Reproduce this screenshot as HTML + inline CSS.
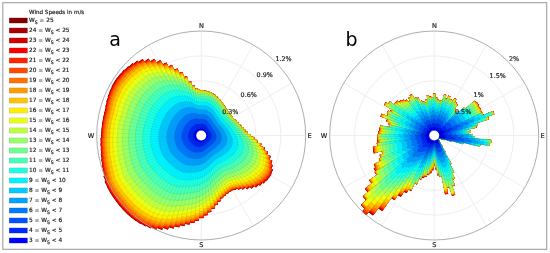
<!DOCTYPE html>
<html><head><meta charset="utf-8"><title>Wind roses</title>
<style>html,body{margin:0;padding:0;background:#fff}svg{display:block}</style></head>
<body><svg width="550" height="253" viewBox="0 0 550 253">
<rect width="550" height="253" fill="#fff"/>
<rect x="2.8" y="2.7" width="543.9" height="246.6" fill="#fff" stroke="#a0a0a0" stroke-width="1.1"/>
<circle cx="201.2" cy="135.5" r="29.9" fill="none" stroke="#eeeeee" stroke-width="1"/>
<circle cx="201.2" cy="135.5" r="54.8" fill="none" stroke="#eeeeee" stroke-width="1"/>
<circle cx="201.2" cy="135.5" r="79.6" fill="none" stroke="#eeeeee" stroke-width="1"/>
<path d="M201.2 135.5L201.2 31M201.2 135.5L253.4 45M201.2 135.5L291.7 83.2M201.2 135.5L305.7 135.5M201.2 135.5L291.7 187.7M201.2 135.5L253.4 226M201.2 135.5L201.2 240M201.2 135.5L148.9 226M201.2 135.5L110.7 187.8M201.2 135.5L96.7 135.5M201.2 135.5L110.7 83.2M201.2 135.5L148.9 45" stroke="#eeeeee" stroke-width="1" fill="none"/>
<g stroke="#000" stroke-opacity=".2" stroke-width=".3" stroke-linejoin="bevel"><path d="M200 90L202.4 90L202.4 90.3L204.7 90.4L204.7 90.7L207.1 91L207 91.3L209.3 91.6L209.3 92L211.5 92.5L211.4 93.1L213.6 93.7L213.4 94.3L215.6 95L215.3 95.8L217.3 96.5L217 97.3L219 98.2L218.6 98.9L220.5 99.9L220.2 100.6L222 101.6L221.6 102.2L223.3 103.4L222.9 104L224.5 105.2L224 105.7L225.6 107L225.2 107.4L226.6 108.7L226.4 108.9L227.8 110.3L227.6 110.4L228.9 111.8L228.7 112L229.9 113.5L229.8 113.6L230.9 115.1L231.1 115L232.1 116.6L232.2 116.5L233.2 118.1L233.5 118L234.4 119.7L235.1 119.3L235.9 121.1L236.7 120.8L237.4 122.7L238.3 122.4L238.9 124.3L240 124L240.5 126.1L241.6 125.8L242 127.9L243.5 127.7L243.8 129.9L245.3 129.7L245.6 132L247.6 131.8L247.7 134.3L250.9 134.2L250.9 136.8L254.2 136.9L254.1 139.7L257.9 140L257.6 142.9L261.4 143.4L260.9 146.6L264.8 147.3L264.1 150.6L268 151.5L267 155L270.8 156.1L269.6 159.7L272.4 160.7L271 164.4L272.9 165.2L271.3 168.9L273 169.8L271.2 173.5L271.7 173.8L269.6 177.4L269.2 177.2L266.9 180.7L266.3 180.2L263.8 183.6L262.7 182.7L260.2 185.8L258.7 184.7L256.1 187.6L254.4 186L251.7 188.7L250 186.9L247.2 189.4L245.5 187.4L242.8 189.7L241.4 187.9L238.6 189.9L237.5 188.4L234.7 190.2L234.2 189.4L231.3 191L231.4 191.1L228.5 192.6L228.7 193.1L225.6 194.4L226 195.5L222.9 196.7L223.3 197.9L220 199L220.7 201.3L217.2 202.2L217.8 204.8L214.2 205.6L214.8 208.7L210.9 209.3L211.3 212.1L207.3 212.6L207.5 215.3L203.3 215.5L203.4 218.3L199 218.3L199 221L194.5 220.8L194.3 223.1L189.7 222.6L189.5 224.7L184.8 224L184.4 226.2L179.7 225.2L179.1 227.6L174.3 226.3L173.6 228.8L168.7 227.2L167.8 229.7L163 227.8L162 230.1L157.1 227.9L156.2 229.9L151.3 227.4L150.7 228.5L145.9 225.8L145.4 226.6L140.7 223.6L140.3 224L135.8 220.7L135.6 221L131.2 217.5L131.1 217.6L126.9 213.8L126.9 213.8L122.9 209.8L122.9 209.8L119.2 205.6L119.2 205.5L115.7 201.1L115.8 201L112.5 196.5L112.6 196.4L109.5 191.7L109.6 191.6L106.8 186.7L107.1 186.6L104.5 181.6L105.6 181.1L103.3 176L104.4 175.6L102.5 170.5L103.4 170.1L101.7 165L102.5 164.7L101.1 159.5L101.8 159.4L100.7 154.1L101.4 154L100.6 148.7L101 148.7L100.4 143.4L100.8 143.4L100.5 138.1L101.2 138.1L101.2 132.9L101.3 132.9L101.6 127.7L101.7 127.7L102.3 122.5L102.4 122.5L103.2 117.3L103.3 117.3L104.4 112.2L104.4 112.3L105.8 107.2L105.2 107.1L106.8 102.1L106.2 101.9L108.1 96.9L107.6 96.7L109.7 91.9L109.4 91.7L111.8 87L111.5 86.8L114.1 82.1L114.1 82.1L117 77.7L117.3 77.8L120.4 73.5L120.7 73.8L124.1 69.6L124.7 70.1L128.2 66.2L128.8 66.8L132.5 63.1L133.3 64L137.2 60.5L138.5 62.1L142.4 58.9L144.4 61.5L148.4 58.6L150.2 61.3L154.2 58.8L156.4 62.4L160.3 60.1L162.6 64.3L166.3 62.4L168.3 66.4L171.9 64.8L174 69.8L177.5 68.5L179.1 73L182.4 71.9L183.9 77.1L187 76.3L188.4 82.1L191.2 81.5L192 86L194.6 85.6L195 88.5L197.5 88.3L197.6 89.2L200 89.1Z" fill="#800000" stroke="none"/>
<path d="M200 90L202.4 90L202.4 90.3L204.7 90.4L204.7 90.7L207.1 91L207 91.3L209.3 91.6L209.3 92L211.5 92.5L211.4 93.1L213.6 93.7L213.4 94.3L215.6 95L215.3 95.8L217.3 96.5L217 97.3L219 98.2L218.6 98.9L220.5 99.9L220.2 100.6L222 101.6L221.6 102.2L223.3 103.4L222.9 104L224.5 105.2L224 105.7L225.6 107L225.2 107.4L226.6 108.7L226.4 108.9L227.8 110.3L227.6 110.4L228.9 111.8L228.7 112L229.9 113.5L229.8 113.6L230.9 115.1L231.1 115L232.1 116.6L232.2 116.5L233.2 118.1L233.5 118L234.4 119.7L235.1 119.3L235.9 121.1L236.7 120.8L237.4 122.7L238.3 122.4L238.9 124.3L240 124L240.5 126.1L241.6 125.8L242 127.9L243.5 127.7L243.8 129.9L245.3 129.7L245.6 132L247.6 131.8L247.7 134.3L250.9 134.2L250.9 136.8L254.2 136.9L254.1 139.7L257.9 140L257.6 142.9L261.4 143.4L260.9 146.6L264.7 147.3L264 150.6L267.9 151.5L267 155L270.7 156.1L269.6 159.7L272.3 160.7L270.9 164.4L272.8 165.2L271.1 168.9L272.9 169.7L271 173.4L271.5 173.6L269.4 177.3L268.9 177L266.7 180.5L266 180.1L263.6 183.4L262.5 182.5L259.9 185.7L258.5 184.5L255.9 187.4L254.2 185.8L251.5 188.5L249.8 186.7L247.1 189.2L245.4 187.3L242.7 189.5L241.3 187.8L238.5 189.8L237.5 188.3L234.7 190.1L234.1 189.3L231.3 190.9L231.4 191.1L228.4 192.6L228.6 193L225.6 194.3L226 195.4L222.8 196.6L223.3 197.8L220 198.9L220.7 201.2L217.2 202.1L217.8 204.7L214.2 205.5L214.8 208.6L210.9 209.2L211.3 212L207.3 212.4L207.5 215.2L203.3 215.4L203.4 218.1L199 218.1L199 220.9L194.5 220.7L194.3 222.9L189.8 222.5L189.5 224.5L184.8 223.8L184.4 226L179.7 225L179.1 227.3L174.4 226.1L173.6 228.5L168.8 227L167.9 229.5L163.1 227.6L162.1 229.8L157.2 227.7L156.3 229.6L151.4 227.2L150.8 228.2L146.1 225.5L145.5 226.3L140.9 223.3L140.5 223.8L136 220.5L135.8 220.8L131.4 217.2L131.3 217.3L127.2 213.5L127.1 213.6L123.1 209.6L123.2 209.5L119.4 205.3L119.5 205.3L116 200.9L116 200.8L112.7 196.3L112.8 196.2L109.8 191.5L109.9 191.5L107.1 186.6L107.3 186.5L104.8 181.5L105.8 181L103.6 175.9L104.7 175.5L102.7 170.4L103.6 170.1L101.9 164.9L102.7 164.7L101.3 159.5L102 159.3L100.9 154.1L101.6 154L100.8 148.7L101.1 148.7L100.6 143.4L100.9 143.4L100.7 138.1L101.4 138.1L101.4 132.9L101.5 132.9L101.8 127.7L101.9 127.7L102.4 122.5L102.5 122.5L103.4 117.4L103.5 117.4L104.5 112.3L104.6 112.3L106 107.3L105.4 107.1L107 102.1L106.4 101.9L108.3 97L107.8 96.8L110 92L109.6 91.8L112 87.1L111.7 86.9L114.4 82.3L114.4 82.3L117.3 77.8L117.5 78L120.7 73.7L121 73.9L124.3 69.8L124.9 70.3L128.4 66.4L129 67L132.7 63.3L133.5 64.2L137.3 60.7L138.6 62.2L142.6 59.1L144.5 61.6L148.5 58.8L150.3 61.5L154.3 58.9L156.5 62.5L160.3 60.2L162.6 64.4L166.4 62.5L168.3 66.5L171.9 64.9L174 69.8L177.5 68.5L179.1 73L182.4 71.9L183.9 77.1L187 76.3L188.4 82.1L191.2 81.5L192 86L194.6 85.6L195 88.5L197.5 88.3L197.6 89.2L200 89.1Z" fill="#a80000" stroke="none"/>
<path d="M200 90L202.4 90L202.4 90.3L204.7 90.4L204.7 90.7L207.1 91L207 91.3L209.3 91.6L209.3 92L211.5 92.5L211.4 93.1L213.6 93.7L213.4 94.3L215.6 95L215.3 95.8L217.3 96.5L217 97.3L219 98.2L218.6 98.9L220.5 99.9L220.2 100.6L222 101.6L221.6 102.2L223.3 103.4L222.9 104L224.5 105.2L224 105.8L225.6 107L225.2 107.4L226.6 108.7L226.4 108.9L227.8 110.3L227.6 110.4L228.9 111.8L228.7 112L229.9 113.5L229.8 113.6L230.9 115.1L231.1 115L232.1 116.6L232.2 116.5L233.2 118.1L233.5 118L234.4 119.7L235.1 119.3L235.9 121.1L236.7 120.8L237.4 122.7L238.3 122.4L238.9 124.3L240 124L240.5 126.1L241.6 125.8L242 127.9L243.5 127.7L243.8 129.9L245.3 129.7L245.6 132L247.6 131.8L247.7 134.3L250.9 134.2L250.9 136.8L254.2 136.9L254.1 139.7L257.9 140L257.6 142.9L261.4 143.4L260.9 146.6L264.7 147.3L264 150.6L267.9 151.5L267 155L270.7 156.1L269.5 159.7L272.2 160.6L270.8 164.3L272.7 165.1L271 168.8L272.7 169.6L270.8 173.3L271.3 173.5L269.2 177.2L268.8 176.9L266.5 180.4L265.8 179.9L263.4 183.2L262.3 182.4L259.8 185.5L258.4 184.3L255.8 187.3L254.1 185.7L251.4 188.4L249.7 186.6L247 189.1L245.3 187.2L242.6 189.4L241.3 187.7L238.5 189.7L237.4 188.2L234.6 190L234.1 189.2L231.2 190.8L231.3 191L228.4 192.5L228.6 192.9L225.5 194.3L226 195.3L222.8 196.5L223.2 197.8L220 198.8L220.6 201.1L217.2 202L217.8 204.6L214.2 205.4L214.7 208.5L210.9 209.1L211.3 211.9L207.2 212.3L207.5 215.1L203.3 215.3L203.4 218L199 218L199 220.8L194.5 220.5L194.3 222.8L189.8 222.3L189.5 224.3L184.9 223.6L184.5 225.8L179.8 224.8L179.2 227.2L174.4 225.9L173.7 228.3L168.9 226.8L168 229.3L163.1 227.4L162.2 229.6L157.3 227.4L156.4 229.4L151.5 226.9L151 228L146.2 225.3L145.7 226.1L141 223.1L140.7 223.5L136.2 220.2L135.9 220.6L131.6 217L131.5 217.1L127.3 213.3L127.3 213.4L123.3 209.4L123.4 209.4L119.6 205.2L119.7 205.1L116.2 200.8L116.2 200.7L112.9 196.2L113 196.1L110 191.4L110.1 191.4L107.3 186.5L107.5 186.4L105 181.4L106 180.9L103.8 175.9L104.8 175.4L102.9 170.3L103.8 170L102.1 164.9L102.8 164.6L101.4 159.4L102.2 159.3L101.1 154.1L101.8 153.9L100.9 148.7L101.3 148.7L100.7 143.4L101.1 143.4L100.8 138.1L101.6 138.1L101.6 132.9L101.7 132.9L101.9 127.7L102 127.7L102.6 122.5L102.7 122.5L103.5 117.4L103.6 117.4L104.7 112.3L104.8 112.4L106.2 107.3L105.6 107.2L107.2 102.2L106.6 102L108.5 97.1L108 96.9L110.1 92.1L109.8 91.9L112.2 87.2L111.9 87L114.6 82.4L114.6 82.4L117.5 77.9L117.7 78.1L120.9 73.8L121.2 74.1L124.5 70L125.1 70.5L128.6 66.6L129.1 67.1L132.8 63.4L133.7 64.3L137.5 60.9L138.8 62.4L142.7 59.2L144.6 61.8L148.6 58.9L150.4 61.6L154.3 59L156.5 62.6L160.4 60.3L162.7 64.5L166.4 62.6L168.3 66.5L172 64.9L174 69.9L177.5 68.6L179.1 73L182.4 71.9L183.9 77.1L187 76.3L188.4 82.1L191.2 81.5L192 86L194.6 85.6L195 88.5L197.5 88.3L197.6 89.2L200 89.1Z" fill="#d10000" stroke="none"/>
<path d="M200 90L202.4 90L202.4 90.3L204.7 90.4L204.7 90.7L207.1 91L207 91.3L209.3 91.7L209.3 92L211.5 92.5L211.4 93.1L213.6 93.7L213.4 94.3L215.6 95L215.3 95.8L217.3 96.5L217 97.3L219 98.2L218.6 98.9L220.5 99.9L220.2 100.6L222 101.6L221.6 102.3L223.3 103.4L222.9 104L224.5 105.2L224 105.8L225.6 107L225.2 107.4L226.6 108.7L226.4 108.9L227.8 110.3L227.6 110.4L228.9 111.9L228.7 112L229.9 113.5L229.8 113.6L230.9 115.1L231.1 115L232.1 116.6L232.2 116.5L233.2 118.1L233.5 118L234.4 119.7L235.1 119.3L235.9 121.1L236.7 120.8L237.4 122.7L238.3 122.4L238.9 124.3L240 124L240.5 126.1L241.6 125.8L242 127.9L243.5 127.7L243.8 129.9L245.3 129.7L245.6 132L247.6 131.8L247.7 134.3L250.9 134.2L250.9 136.8L254.2 136.9L254.1 139.7L257.9 140L257.6 142.9L261.3 143.4L260.8 146.6L264.7 147.3L264 150.6L267.8 151.5L266.9 155L270.6 156L269.4 159.7L272 160.6L270.6 164.3L272.5 165L270.8 168.7L272.5 169.5L270.6 173.2L271 173.4L268.9 177L268.5 176.7L266.2 180.2L265.5 179.7L263.1 183L262 182.2L259.5 185.3L258.1 184.1L255.5 187L253.8 185.5L251.2 188.1L249.5 186.4L246.8 188.9L245.2 187L242.4 189.2L241.1 187.5L238.4 189.6L237.3 188.1L234.5 189.9L234 189.1L231.2 190.7L231.3 190.9L228.3 192.4L228.5 192.8L225.5 194.1L225.9 195.2L222.8 196.4L223.2 197.6L219.9 198.7L220.6 201L217.1 201.9L217.8 204.5L214.1 205.3L214.7 208.4L210.9 209L211.2 211.7L207.2 212.2L207.4 214.9L203.3 215.1L203.4 217.8L199 217.8L199 220.5L194.5 220.3L194.3 222.6L189.8 222.1L189.5 224.1L184.9 223.4L184.5 225.5L179.8 224.5L179.3 226.9L174.5 225.6L173.8 228L169 226.5L168.1 228.9L163.3 227.1L162.4 229.3L157.5 227.1L156.6 229.1L151.7 226.6L151.2 227.7L146.4 224.9L145.9 225.8L141.2 222.8L140.9 223.2L136.4 219.9L136.2 220.2L131.8 216.7L131.8 216.8L127.6 213L127.6 213.1L123.6 209.1L123.7 209.1L119.9 204.9L120 204.9L116.5 200.5L116.5 200.5L113.3 195.9L113.3 195.9L110.3 191.2L110.4 191.2L107.6 186.3L107.8 186.2L105.3 181.3L106.3 180.8L104.1 175.7L105.1 175.3L103.2 170.2L104.1 169.9L102.4 164.8L103.1 164.6L101.7 159.4L102.5 159.2L101.3 154L102 153.9L101.2 148.7L101.5 148.6L101 143.4L101.3 143.4L101.1 138.1L101.8 138.1L101.8 132.9L101.9 132.9L102.2 127.7L102.3 127.7L102.8 122.6L103 122.6L103.8 117.4L103.9 117.5L105 112.4L105.1 112.4L106.4 107.4L105.9 107.3L107.5 102.3L106.9 102.1L108.8 97.2L108.3 97L110.4 92.2L110.1 92.1L112.5 87.4L112.2 87.2L114.9 82.6L114.9 82.6L117.8 78.1L118 78.3L121.1 74.1L121.4 74.3L124.8 70.2L125.3 70.7L128.8 66.8L129.4 67.4L133.1 63.7L133.9 64.6L137.7 61.2L139 62.6L142.9 59.5L144.8 62L148.7 59.1L150.5 61.8L154.5 59.2L156.6 62.8L160.5 60.5L162.7 64.6L166.5 62.7L168.4 66.7L172 65L174.1 70L177.5 68.6L179.1 73.1L182.4 72L183.9 77.2L187 76.4L188.4 82.2L191.2 81.6L192 86L194.6 85.6L195 88.5L197.5 88.3L197.6 89.2L200 89.1Z" fill="#f90000" stroke="none"/>
<path d="M200 90L202.4 90L202.4 90.3L204.7 90.5L204.7 90.8L207.1 91L207 91.3L209.3 91.7L209.3 92.1L211.5 92.5L211.4 93.1L213.6 93.7L213.4 94.3L215.6 95L215.3 95.8L217.3 96.6L217 97.3L219 98.2L218.6 99L220.5 99.9L220.2 100.6L222 101.6L221.6 102.3L223.3 103.4L222.9 104L224.5 105.2L224 105.8L225.5 107L225.2 107.4L226.6 108.7L226.4 108.9L227.8 110.3L227.6 110.4L228.9 111.9L228.7 112L229.9 113.5L229.8 113.6L230.9 115.1L231 115L232.1 116.6L232.2 116.5L233.2 118.1L233.5 118L234.4 119.7L235.1 119.3L235.9 121.1L236.7 120.8L237.4 122.7L238.3 122.4L238.9 124.3L240 124L240.5 126.1L241.5 125.8L242 127.9L243.5 127.7L243.8 129.9L245.3 129.7L245.6 132L247.6 131.8L247.7 134.3L250.9 134.2L250.9 136.8L254.2 136.9L254.1 139.7L257.8 140L257.5 142.9L261.3 143.4L260.8 146.5L264.6 147.2L263.9 150.6L267.7 151.5L266.8 154.9L270.4 156L269.2 159.6L271.8 160.5L270.4 164.2L272.1 164.9L270.5 168.6L272.1 169.3L270.2 173L270.6 173.2L268.5 176.7L268 176.4L265.8 179.9L265.1 179.4L262.7 182.7L261.6 181.9L259.1 185L257.8 183.8L255.2 186.7L253.5 185.2L250.9 187.8L249.3 186.1L246.5 188.6L245 186.7L242.2 189L240.9 187.3L238.2 189.3L237.2 187.8L234.4 189.6L233.9 188.8L231.1 190.5L231.1 190.6L228.2 192.1L228.4 192.6L225.4 193.9L225.8 195L222.7 196.2L223.1 197.4L219.9 198.5L220.5 200.7L217.1 201.6L217.7 204.2L214.1 205L214.7 208.1L210.8 208.7L211.2 211.4L207.2 211.9L207.4 214.5L203.3 214.8L203.3 217.5L199.1 217.5L199 220.2L194.6 219.9L194.4 222.2L189.9 221.7L189.6 223.7L185 222.9L184.6 225.1L179.9 224.1L179.4 226.4L174.6 225.1L173.9 227.5L169.2 226L168.3 228.4L163.5 226.6L162.6 228.7L157.8 226.6L156.8 228.5L152 226.1L151.5 227.1L146.7 224.4L146.2 225.2L141.6 222.2L141.3 222.6L136.8 219.4L136.6 219.7L132.3 216.2L132.2 216.3L128.1 212.5L128 212.6L124.1 208.7L124.1 208.6L120.4 204.5L120.5 204.4L117 200.1L117 200.1L113.8 195.6L113.8 195.5L110.8 190.9L110.9 190.9L108.1 186.1L108.3 185.9L105.8 181L106.8 180.5L104.6 175.5L105.6 175.1L103.6 170L104.5 169.7L102.9 164.6L103.6 164.4L102.2 159.3L102.9 159.1L101.8 153.9L102.5 153.8L101.6 148.6L102 148.6L101.4 143.4L101.8 143.3L101.5 138.1L102.2 138.1L102.2 132.9L102.3 132.9L102.6 127.7L102.7 127.7L103.3 122.6L103.4 122.6L104.2 117.5L104.3 117.5L105.4 112.5L105.5 112.5L106.9 107.6L106.3 107.4L107.9 102.5L107.4 102.3L109.2 97.4L108.8 97.2L110.9 92.4L110.6 92.3L113 87.6L112.7 87.5L115.3 82.9L115.4 82.9L118.2 78.5L118.5 78.7L121.6 74.4L121.9 74.7L125.2 70.6L125.8 71.1L129.3 67.2L129.8 67.7L133.4 64.1L134.3 65L138 61.6L139.3 63L143.2 59.9L145.1 62.3L149 59.5L150.8 62.1L154.7 59.6L156.8 63L160.6 60.8L162.9 64.9L166.6 63L168.5 66.8L172.1 65.2L174.1 70.1L177.6 68.8L179.1 73.2L182.4 72.1L183.9 77.3L187 76.4L188.4 82.2L191.2 81.6L192 86L194.6 85.6L195 88.6L197.5 88.3L197.6 89.2L200 89.1Z" fill="#ff2300" stroke="none"/>
<path d="M200 90.1L202.4 90.1L202.4 90.4L204.7 90.5L204.7 90.8L207.1 91L207 91.3L209.3 91.7L209.2 92.1L211.5 92.5L211.4 93.1L213.6 93.7L213.4 94.3L215.5 95L215.3 95.8L217.3 96.6L217 97.3L219 98.2L218.6 99L220.5 99.9L220.2 100.6L222 101.6L221.6 102.3L223.3 103.4L222.9 104L224.5 105.2L224 105.8L225.5 107L225.2 107.4L226.6 108.7L226.4 108.9L227.8 110.3L227.6 110.4L228.9 111.9L228.7 112L229.9 113.5L229.8 113.6L230.9 115.1L231 115L232.1 116.6L232.2 116.5L233.2 118.1L233.5 118L234.4 119.7L235.1 119.3L235.9 121.1L236.7 120.8L237.4 122.7L238.3 122.4L238.9 124.3L240 124L240.5 126.1L241.5 125.8L242 127.9L243.5 127.7L243.8 129.9L245.3 129.7L245.5 132L247.6 131.8L247.7 134.3L250.8 134.2L250.8 136.8L254.2 136.9L254 139.7L257.8 140L257.5 142.9L261.2 143.4L260.7 146.5L264.4 147.2L263.7 150.5L267.5 151.4L266.5 154.9L270.1 155.9L268.9 159.5L271.4 160.3L270 164L271.6 164.7L270 168.3L271.5 169L269.6 172.6L269.9 172.8L267.9 176.4L267.4 176L265.1 179.4L264.5 179L262.1 182.2L261 181.4L258.5 184.5L257.2 183.3L254.6 186.2L253 184.7L250.4 187.3L248.8 185.7L246.2 188.1L244.6 186.3L241.9 188.5L240.7 186.9L237.9 188.9L236.9 187.5L234.2 189.3L233.7 188.5L230.9 190.1L231 190.3L228.1 191.8L228.3 192.3L225.3 193.6L225.7 194.7L222.6 195.9L223 197.1L219.8 198.1L220.4 200.4L217 201.3L217.6 203.8L214 204.6L214.6 207.7L210.8 208.3L211.1 211L207.2 211.4L207.4 214.1L203.3 214.3L203.3 216.9L199.1 216.9L199 219.6L194.6 219.4L194.4 221.5L189.9 221.1L189.7 223L185.1 222.3L184.7 224.4L180.1 223.4L179.5 225.7L174.9 224.4L174.2 226.8L169.4 225.3L168.6 227.6L163.8 225.8L162.9 227.9L158.1 225.8L157.2 227.7L152.5 225.3L151.9 226.3L147.2 223.6L146.7 224.4L142.1 221.4L141.9 221.8L137.4 218.6L137.2 218.9L132.9 215.4L132.9 215.5L128.8 211.8L128.7 211.9L124.8 208L124.9 208L121.2 203.9L121.2 203.8L117.7 199.5L117.8 199.5L114.5 195.1L114.6 195L111.6 190.4L111.6 190.4L108.9 185.6L109 185.5L106.6 180.6L107.5 180.2L105.3 175.2L106.3 174.8L104.4 169.8L105.2 169.5L103.6 164.4L104.2 164.2L102.9 159.1L103.6 158.9L102.5 153.8L103.1 153.7L102.3 148.5L102.6 148.5L102.1 143.3L102.4 143.3L102.1 138.1L102.9 138.1L102.9 132.9L103 132.9L103.2 127.8L103.4 127.8L103.9 122.7L104.1 122.7L104.9 117.6L105 117.7L106.1 112.7L106.2 112.7L107.6 107.8L107 107.6L108.6 102.7L108.1 102.5L110 97.7L109.5 97.5L111.6 92.8L111.4 92.6L113.7 88L113.4 87.9L116.1 83.3L116.1 83.3L118.9 79L119.2 79.2L122.3 74.9L122.6 75.2L125.9 71.1L126.4 71.6L129.9 67.8L130.4 68.3L134 64.7L134.8 65.5L138.6 62.2L139.8 63.6L143.6 60.5L145.5 62.9L149.4 60.1L151.1 62.6L155 60.1L157.1 63.5L160.9 61.3L163.1 65.3L166.8 63.4L168.6 67.2L172.2 65.5L174.2 70.4L177.7 69L179.2 73.4L182.5 72.3L184 77.4L187.1 76.6L188.4 82.3L191.2 81.7L192 86.1L194.6 85.7L195 88.6L197.5 88.3L197.6 89.3L200 89.1Z" fill="#ff4b00" stroke="none"/>
<path d="M200 90.1L202.4 90.1L202.4 90.4L204.7 90.5L204.7 90.8L207.1 91.1L207 91.3L209.3 91.7L209.2 92.1L211.5 92.6L211.4 93.2L213.6 93.8L213.4 94.3L215.5 95L215.3 95.8L217.3 96.6L217 97.4L219 98.2L218.6 99L220.5 100L220.1 100.6L221.9 101.7L221.6 102.3L223.3 103.4L222.8 104L224.5 105.2L224 105.8L225.5 107L225.1 107.5L226.6 108.8L226.4 108.9L227.8 110.3L227.6 110.5L228.9 111.9L228.7 112L229.9 113.5L229.8 113.6L230.9 115.1L231 115L232.1 116.6L232.2 116.5L233.2 118.2L233.5 118L234.4 119.7L235.1 119.3L235.9 121.1L236.7 120.8L237.4 122.7L238.3 122.4L238.9 124.3L239.9 124L240.5 126.1L241.5 125.8L242 127.9L243.4 127.7L243.8 129.9L245.3 129.7L245.5 132L247.5 131.9L247.7 134.3L250.8 134.2L250.8 136.8L254.1 136.9L254 139.7L257.7 139.9L257.4 142.9L261 143.4L260.5 146.5L264.2 147.2L263.5 150.5L267.1 151.3L266.2 154.7L269.6 155.7L268.4 159.3L270.7 160.1L269.3 163.7L270.9 164.4L269.3 168L270.6 168.6L268.8 172.2L269 172.3L267 175.8L266.4 175.5L264.2 178.8L263.5 178.3L261.2 181.6L260.1 180.7L257.7 183.8L256.4 182.7L253.9 185.5L252.3 184L249.7 186.6L248.2 185.1L245.6 187.5L244.1 185.7L241.4 187.9L240.2 186.4L237.5 188.3L236.6 187L233.8 188.7L233.4 188L230.6 189.6L230.7 189.8L227.8 191.3L228 191.8L225.1 193.1L225.5 194.1L222.4 195.3L222.8 196.5L219.6 197.6L220.2 199.8L216.9 200.7L217.5 203.2L213.9 204L214.5 207L210.7 207.6L211 210.3L207.1 210.7L207.3 213.3L203.2 213.5L203.3 216.1L199.1 216.1L199 218.7L194.7 218.5L194.5 220.6L190.1 220.2L189.8 222.1L185.3 221.3L184.9 223.4L180.3 222.4L179.8 224.6L175.2 223.4L174.5 225.7L169.8 224.2L169 226.5L164.3 224.7L163.4 226.8L158.7 224.7L157.8 226.5L153.1 224.1L152.5 225.1L147.9 222.4L147.4 223.2L142.9 220.3L142.7 220.7L138.3 217.5L138.1 217.8L133.8 214.4L133.8 214.4L129.7 210.8L129.7 210.9L125.8 207L125.9 207L122.2 203L122.2 202.9L118.8 198.7L118.8 198.7L115.6 194.3L115.7 194.3L112.7 189.7L112.7 189.7L110 185L110.1 184.9L107.7 180.1L108.6 179.7L106.4 174.8L107.4 174.4L105.5 169.4L106.3 169.1L104.6 164.1L105.3 163.9L103.9 158.9L104.6 158.7L103.5 153.6L104.1 153.5L103.3 148.4L103.6 148.3L103.1 143.2L103.4 143.2L103.1 138.1L103.8 138L103.8 133L104 133L104.2 127.9L104.4 127.9L104.9 122.8L105.1 122.8L105.9 117.8L106 117.9L107.1 112.9L107.3 112.9L108.6 108.1L108.1 107.9L109.6 103.1L109.2 102.9L111 98.1L110.6 98L112.7 93.3L112.4 93.2L114.8 88.6L114.5 88.4L117.1 84L117.1 84L120 79.7L120.3 79.9L123.3 75.7L123.6 75.9L126.8 72L127.4 72.4L130.8 68.7L131.3 69.1L134.8 65.6L135.6 66.4L139.3 63L140.5 64.4L144.3 61.3L146.1 63.7L149.9 60.9L151.6 63.3L155.5 60.9L157.5 64.1L161.3 62L163.4 65.8L167.1 63.9L168.8 67.6L172.4 66L174.4 70.7L177.8 69.4L179.3 73.7L182.6 72.6L184.1 77.6L187.1 76.8L188.5 82.5L191.3 81.9L192.1 86.2L194.7 85.8L195 88.7L197.5 88.4L197.6 89.3L200 89.2Z" fill="#ff7400" stroke-opacity=".08"/>
<path d="M200 90.2L202.4 90.2L202.4 90.5L204.7 90.6L204.7 90.9L207 91.1L207 91.4L209.3 91.8L209.2 92.2L211.5 92.6L211.3 93.2L213.5 93.8L213.4 94.4L215.5 95.1L215.2 95.9L217.3 96.7L217 97.4L218.9 98.3L218.6 99L220.5 100L220.1 100.7L221.9 101.7L221.5 102.3L223.2 103.4L222.8 104.1L224.4 105.2L224 105.8L225.5 107.1L225.1 107.5L226.5 108.8L226.4 109L227.7 110.3L227.5 110.5L228.8 111.9L228.6 112.1L229.8 113.5L229.7 113.6L230.8 115.1L231 115L232 116.6L232.2 116.5L233.1 118.2L233.5 118L234.3 119.7L235.1 119.3L235.9 121.1L236.7 120.8L237.4 122.7L238.2 122.4L238.9 124.3L239.9 124L240.4 126.1L241.5 125.8L241.9 128L243.4 127.7L243.8 129.9L245.2 129.7L245.5 132L247.5 131.9L247.6 134.3L250.7 134.2L250.7 136.8L254 136.9L253.8 139.6L257.4 139.9L257.1 142.9L260.7 143.3L260.2 146.4L263.7 147.1L263 150.3L266.5 151.2L265.6 154.6L268.8 155.5L267.6 159L269.8 159.8L268.4 163.3L269.8 163.9L268.2 167.5L269.4 168L267.6 171.5L267.7 171.6L265.7 175L265.1 174.7L263 178L262.3 177.5L260 180.6L259 179.8L256.6 182.8L255.4 181.8L252.9 184.5L251.4 183.1L248.8 185.7L247.4 184.2L244.8 186.5L243.4 184.9L240.7 187L239.6 185.6L236.9 187.5L236 186.2L233.3 188L232.9 187.3L230.2 188.9L230.3 189.1L227.5 190.5L227.7 191L224.7 192.3L225.2 193.4L222.1 194.6L222.5 195.8L219.4 196.8L220 199L216.7 199.9L217.2 202.4L213.7 203.1L214.3 206.1L210.6 206.6L210.9 209.3L207 209.7L207.2 212.2L203.2 212.4L203.3 214.9L199.1 214.9L199.1 217.5L194.8 217.2L194.6 219.3L190.2 218.9L190 220.7L185.5 220L185.2 222L180.7 221L180.2 223.1L175.6 221.9L174.9 224.1L170.3 222.7L169.5 224.9L164.9 223.1L164.1 225.1L159.4 223.1L158.6 224.8L154 222.5L153.5 223.4L148.9 220.8L148.5 221.6L144 218.7L143.8 219.1L139.5 216L139.3 216.2L135.1 212.9L135.1 212.9L131.1 209.4L131 209.5L127.2 205.7L127.3 205.7L123.7 201.7L123.7 201.7L120.3 197.5L120.3 197.6L117.2 193.2L117.2 193.2L114.3 188.8L114.2 188.8L111.6 184.2L111.7 184.1L109.3 179.4L110.1 178.9L108 174.1L108.9 173.7L107 168.9L107.8 168.6L106.2 163.7L106.7 163.5L105.4 158.5L106 158.3L105 153.3L105.6 153.2L104.8 148.2L105 148.2L104.5 143.1L104.8 143.1L104.5 138L105.2 138L105.2 133L105.4 133L105.6 128L105.8 128L106.3 123L106.5 123L107.3 118.1L107.5 118.1L108.5 113.2L108.7 113.3L110 108.5L109.6 108.4L111.1 103.6L110.7 103.4L112.5 98.7L112.1 98.6L114.2 94L114 93.9L116.3 89.4L116 89.3L118.6 84.9L118.6 84.9L121.4 80.6L121.7 80.9L124.7 76.8L125 77L128.1 73.1L128.7 73.6L132 69.8L132.5 70.3L136 66.8L136.7 67.6L140.4 64.3L141.5 65.6L145.2 62.5L147 64.8L150.7 62.1L152.3 64.4L156.1 61.9L158.1 65.1L161.8 62.9L163.8 66.7L167.5 64.8L169.2 68.4L172.7 66.8L174.6 71.3L178 70L179.5 74.2L182.7 73.1L184.2 78L187.2 77.2L188.5 82.7L191.3 82.1L192.1 86.4L194.7 86L195.1 88.8L197.5 88.6L197.6 89.4L200 89.3Z" fill="#ff9c00" stroke-opacity=".08"/>
<path d="M200 90.4L202.4 90.4L202.4 90.6L204.7 90.8L204.7 91L207 91.3L207 91.6L209.3 91.9L209.2 92.3L211.5 92.8L211.3 93.3L213.5 93.9L213.3 94.5L215.5 95.2L215.2 96L217.2 96.8L216.9 97.5L218.9 98.4L218.5 99.1L220.4 100.1L220.1 100.8L221.9 101.8L221.5 102.4L223.2 103.5L222.7 104.2L224.4 105.3L223.9 105.9L225.4 107.1L225 107.6L226.5 108.9L226.3 109L227.7 110.4L227.5 110.6L228.7 112L228.6 112.1L229.8 113.6L229.7 113.7L230.8 115.2L230.9 115.1L232 116.7L232.1 116.6L233 118.2L233.4 118L234.3 119.7L235 119.4L235.8 121.2L236.6 120.8L237.3 122.7L238.2 122.4L238.8 124.4L239.8 124.1L240.4 126.1L241.4 125.8L241.9 128L243.3 127.7L243.7 129.9L245.1 129.7L245.3 132L247.3 131.9L247.5 134.3L250.5 134.2L250.5 136.8L253.7 136.9L253.5 139.6L257.1 139.9L256.8 142.8L260.2 143.3L259.7 146.3L263 147L262.4 150.2L265.6 151L264.7 154.3L267.7 155.2L266.5 158.6L268.4 159.3L267.1 162.8L268.3 163.3L266.7 166.7L267.7 167.2L266 170.7L266 170.7L264.1 174L263.4 173.6L261.3 176.8L260.6 176.3L258.4 179.4L257.4 178.6L255.1 181.5L253.9 180.5L251.5 183.2L250.1 181.9L247.6 184.4L246.3 183L243.7 185.3L242.4 183.8L239.8 185.9L238.8 184.5L236.2 186.4L235.3 185.2L232.7 186.9L232.3 186.3L229.6 187.8L229.7 188.1L227 189.5L227.2 190L224.3 191.3L224.7 192.3L221.7 193.5L222.1 194.7L219 195.7L219.7 197.8L216.4 198.7L216.9 201.1L213.5 201.8L214 204.7L210.4 205.3L210.7 207.8L206.9 208.2L207.1 210.7L203.2 210.9L203.2 213.3L199.2 213.3L199.1 215.7L194.9 215.5L194.7 217.5L190.5 217.1L190.2 218.8L185.9 218.1L185.5 220L181.1 219.1L180.6 221.1L176.2 219.9L175.6 222L171.1 220.6L170.3 222.7L165.8 221L165 222.9L160.5 220.9L159.7 222.6L155.1 220.3L154.7 221.2L150.2 218.7L149.8 219.4L145.5 216.6L145.2 216.9L141.1 213.9L140.9 214.1L136.8 210.9L136.8 210.9L132.9 207.5L132.8 207.6L129.1 203.9L129.1 203.9L125.7 200L125.6 200L122.4 196L122.3 196L119.3 191.8L119.2 191.8L116.4 187.5L116.3 187.5L113.7 183L113.8 183L111.4 178.3L112.2 177.9L110.1 173.2L110.9 172.9L109.1 168.1L109.8 167.9L108.2 163L108.8 162.9L107.5 158L108 157.9L107 153L107.5 152.9L106.8 147.9L107 147.9L106.5 143L106.8 142.9L106.5 138L107.2 138L107.2 133L107.3 133L107.6 128.1L107.8 128.1L108.3 123.3L108.5 123.3L109.3 118.5L109.5 118.5L110.5 113.7L110.7 113.8L112 109.1L111.6 109L113.1 104.3L112.7 104.2L114.5 99.6L114.2 99.5L116.2 95L116 94.9L118.3 90.5L118.1 90.4L120.5 86.1L120.6 86.1L123.3 82L123.6 82.2L126.5 78.2L126.8 78.4L129.9 74.6L130.4 75L133.7 71.4L134.1 71.9L137.6 68.4L138.2 69.1L141.8 65.9L142.8 67.2L146.5 64.2L148.1 66.3L151.8 63.7L153.3 65.9L157.1 63.5L158.9 66.5L162.6 64.3L164.5 67.9L168.1 66L169.7 69.4L173.2 67.9L175 72.2L178.3 70.9L179.7 74.9L182.9 73.8L184.3 78.5L187.3 77.7L188.6 83.2L191.4 82.6L192.2 86.7L194.7 86.3L195.1 89.1L197.5 88.8L197.6 89.7L200 89.5Z" fill="#ffc500" stroke-opacity=".08"/>
<path d="M200 90.7L202.4 90.7L202.4 90.9L204.7 91L204.7 91.3L207 91.5L207 91.8L209.2 92.2L209.2 92.5L211.4 93L211.3 93.6L213.5 94.1L213.3 94.7L215.4 95.4L215.1 96.2L217.2 96.9L216.9 97.7L218.8 98.6L218.5 99.3L220.3 100.3L220 100.9L221.8 102L221.4 102.6L223.1 103.7L222.6 104.3L224.2 105.5L223.8 106.1L225.3 107.3L224.9 107.7L226.3 109L226.2 109.2L227.5 110.5L227.3 110.7L228.6 112.1L228.4 112.2L229.6 113.7L229.5 113.8L230.6 115.3L230.8 115.2L231.8 116.7L232 116.6L232.9 118.3L233.3 118.1L234.1 119.8L234.9 119.4L235.7 121.2L236.5 120.9L237.2 122.8L238 122.5L238.7 124.4L239.7 124.1L240.2 126.1L241.2 125.9L241.7 128L243.1 127.7L243.5 129.9L244.9 129.7L245.1 132L247.1 131.9L247.2 134.3L250.2 134.2L250.2 136.8L253.2 136.9L253.1 139.6L256.5 139.8L256.2 142.7L259.4 143.2L258.9 146.2L262 146.8L261.3 149.9L264.3 150.6L263.4 153.9L266.1 154.7L265 158.1L266.6 158.7L265.3 162.1L266.2 162.4L264.7 165.8L265.6 166.2L263.9 169.5L263.8 169.5L261.9 172.7L261.2 172.3L259.2 175.4L258.5 174.9L256.4 177.8L255.4 177.1L253.2 179.9L252.1 179L249.7 181.6L248.5 180.3L246 182.8L244.8 181.5L242.4 183.7L241.1 182.3L238.6 184.3L237.7 183L235.1 184.9L234.4 183.8L231.8 185.4L231.5 184.9L228.8 186.4L229 186.7L226.3 188.1L226.5 188.6L223.7 189.8L224.1 190.9L221.2 192L221.6 193.2L218.6 194.1L219.2 196.2L216 197.1L216.5 199.4L213.2 200.1L213.7 202.9L210.1 203.4L210.5 205.9L206.8 206.2L207 208.6L203.1 208.8L203.2 211.1L199.2 211.1L199.2 213.4L195.1 213.2L194.9 215.1L190.8 214.7L190.6 216.3L186.3 215.6L186 217.4L181.7 216.5L181.3 218.4L177 217.3L176.4 219.3L172 217.9L171.3 219.9L166.9 218.2L166.2 220L161.8 218.1L161 219.7L156.7 217.5L156.2 218.3L152 215.9L151.5 216.5L147.4 213.8L147.1 214.1L143.1 211.2L142.9 211.5L139 208.3L139 208.4L135.2 205L135.1 205.1L131.6 201.6L131.6 201.6L128.2 197.8L128.2 197.9L125 194L124.9 194L122 189.9L121.9 190L119.1 185.8L119 185.8L116.5 181.5L116.5 181.5L114.2 177L115 176.6L112.9 172.1L113.7 171.7L111.9 167.1L112.5 166.9L111 162.2L111.5 162.1L110.2 157.3L110.7 157.2L109.7 152.5L110.2 152.4L109.5 147.6L109.7 147.5L109.2 142.7L109.4 142.7L109.2 137.9L109.9 137.9L109.9 133.1L110 133.1L110.2 128.3L110.4 128.4L110.9 123.6L111.2 123.6L111.9 119L112.2 119L113.1 114.4L113.4 114.4L114.6 109.9L114.3 109.8L115.8 105.2L115.4 105.1L117.1 100.7L116.9 100.6L118.8 96.2L118.7 96.2L120.9 91.9L120.7 91.8L123.1 87.7L123.2 87.7L125.8 83.7L126.1 83.9L128.9 80L129.2 80.3L132.2 76.6L132.7 77L135.9 73.5L136.3 73.9L139.6 70.6L140.2 71.2L143.7 68.1L144.6 69.2L148.2 66.4L149.7 68.4L153.3 65.8L154.7 67.8L158.3 65.5L160 68.3L163.6 66.2L165.4 69.5L168.9 67.7L170.4 70.9L173.8 69.3L175.5 73.5L178.8 72.2L180.1 75.9L183.2 74.9L184.6 79.4L187.5 78.6L188.8 83.8L191.5 83.2L192.3 87.2L194.8 86.8L195.1 89.5L197.6 89.2L197.6 90L200 89.9Z" fill="#ffee00"/>
<path d="M200 91.2L202.4 91.2L202.4 91.4L204.7 91.5L204.6 91.7L206.9 91.9L206.9 92.2L209.2 92.5L209.1 92.9L211.3 93.4L211.2 93.9L213.3 94.5L213.2 95L215.3 95.7L215 96.5L217 97.3L216.7 98L218.7 98.9L218.3 99.6L220.2 100.6L219.8 101.2L221.6 102.2L221.2 102.9L222.9 104L222.4 104.6L224 105.7L223.6 106.3L225.1 107.5L224.7 108L226.1 109.2L226 109.4L227.3 110.7L227.1 110.9L228.4 112.3L228.2 112.4L229.4 113.9L229.3 113.9L230.4 115.4L230.6 115.3L231.6 116.9L231.7 116.8L232.7 118.4L233 118.2L233.9 119.9L234.7 119.5L235.4 121.3L236.2 121L236.9 122.8L237.8 122.5L238.4 124.5L239.4 124.2L239.9 126.2L240.9 126L241.4 128.1L242.8 127.8L243.1 130L244.5 129.8L244.7 132.1L246.6 131.9L246.7 134.3L249.6 134.2L249.6 136.8L252.5 136.8L252.4 139.5L255.5 139.8L255.2 142.6L258.2 143L257.7 146L260.5 146.5L259.8 149.6L262.5 150.2L261.6 153.4L263.9 154.1L262.9 157.3L264.2 157.8L263 161.1L263.7 161.4L262.2 164.6L262.8 164.9L261.2 168.1L261 168L259.2 171L258.5 170.6L256.6 173.6L255.9 173.1L253.8 175.9L252.9 175.2L250.8 177.9L249.8 177L247.6 179.5L246.4 178.4L244.1 180.7L243 179.5L240.6 181.7L239.5 180.4L237.1 182.3L236.3 181.2L233.8 183L233.1 182L230.7 183.6L230.4 183.1L227.8 184.6L228 184.9L225.4 186.2L225.7 186.8L222.9 188L223.4 189L220.5 190.1L220.9 191.2L218 192.1L218.6 194.1L215.5 194.9L216 197.2L212.8 197.9L213.2 200.5L209.8 201L210.1 203.3L206.6 203.7L206.7 205.9L203 206.1L203.1 208.3L199.3 208.3L199.2 210.5L195.3 210.2L195.2 212L191.2 211.6L191 213.1L186.9 212.5L186.6 214.1L182.5 213.3L182.1 215L178 213.9L177.4 215.8L173.2 214.4L172.6 216.3L168.4 214.7L167.7 216.4L163.5 214.6L162.8 216.1L158.6 213.9L158.2 214.7L154.1 212.3L153.7 213L149.7 210.4L149.5 210.7L145.7 207.9L145.5 208.1L141.8 205.1L141.7 205.2L138.1 201.9L138 202L134.7 198.7L134.6 198.7L131.4 195.1L131.3 195.2L128.3 191.4L128.2 191.5L125.4 187.6L125.3 187.7L122.6 183.6L122.5 183.7L120.1 179.6L120 179.6L117.8 175.3L118.5 175L116.5 170.6L117.2 170.3L115.5 165.9L116 165.7L114.6 161.2L115 161L113.8 156.5L114.2 156.4L113.2 151.8L113.7 151.7L112.9 147.1L113.1 147.1L112.6 142.5L112.9 142.5L112.6 137.8L113.3 137.8L113.3 133.2L113.4 133.2L113.7 128.6L113.9 128.6L114.3 124.1L114.6 124.1L115.3 119.6L115.6 119.6L116.5 115.2L116.8 115.2L118 110.9L117.7 110.8L119.1 106.4L118.9 106.3L120.5 102.1L120.3 102L122.2 97.8L122.1 97.8L124.2 93.7L124.1 93.6L126.4 89.6L126.5 89.7L129 85.9L129.3 86.1L132 82.4L132.2 82.6L135.1 79L135.6 79.4L138.6 76.1L139 76.4L142.1 73.3L142.7 73.8L146 70.9L146.9 71.9L150.3 69.1L151.7 70.9L155.1 68.4L156.4 70.3L159.9 68.1L161.4 70.6L164.9 68.6L166.5 71.6L169.9 69.9L171.3 72.8L174.6 71.3L176.2 75.1L179.4 73.9L180.6 77.3L183.7 76.3L184.9 80.6L187.8 79.8L189 84.7L191.7 84.2L192.4 87.9L194.9 87.6L195.2 90.1L197.6 89.8L197.7 90.5L200 90.4Z" fill="#e8ff17"/>
<path d="M200.1 91.9L202.3 91.9L202.3 92L204.6 92.1L204.6 92.3L206.9 92.6L206.8 92.8L209 93.1L209 93.5L211.2 93.9L211 94.5L213.2 95.1L213 95.6L215.1 96.3L214.8 97L216.8 97.8L216.5 98.5L218.4 99.4L218.1 100.1L219.9 101.1L219.6 101.7L221.3 102.7L220.9 103.3L222.6 104.4L222.2 105L223.7 106.2L223.3 106.7L224.8 107.9L224.4 108.3L225.8 109.6L225.6 109.8L226.9 111.1L226.8 111.2L228 112.6L227.8 112.7L229 114.2L228.9 114.2L230 115.7L230.2 115.6L231.2 117.1L231.4 117L232.3 118.6L232.6 118.4L233.5 120.1L234.2 119.7L235 121.5L235.8 121.2L236.5 123L237.3 122.7L238 124.6L238.9 124.3L239.5 126.3L240.4 126.1L240.9 128.1L242.2 127.9L242.6 130.1L243.9 129.9L244.1 132.1L245.9 132L246 134.3L248.7 134.3L248.7 136.7L251.4 136.8L251.2 139.4L254.1 139.7L253.8 142.4L256.5 142.8L256 145.7L258.4 146.1L257.8 149.1L260.1 149.6L259.2 152.7L261.2 153.3L260.2 156.4L261.2 156.8L260 159.9L260.4 160L259.1 163.1L259.5 163.3L258 166.3L257.6 166.1L256 169.1L255.2 168.6L253.4 171.4L252.8 170.9L250.8 173.6L250 172.9L248 175.4L247.1 174.7L245 177L243.9 176L241.7 178.2L240.8 177.2L238.5 179.2L237.6 178.1L235.3 179.9L234.5 178.9L232.2 180.6L231.6 179.7L229.3 181.3L229 180.9L226.6 182.3L226.8 182.7L224.3 183.9L224.6 184.5L222 185.6L222.4 186.6L219.7 187.6L220 188.7L217.2 189.6L217.8 191.5L214.8 192.3L215.3 194.4L212.2 195L212.7 197.5L209.4 198L209.7 200.1L206.3 200.5L206.5 202.5L203 202.7L203 204.8L199.4 204.8L199.3 206.8L195.6 206.6L195.5 208.2L191.7 207.8L191.5 209.2L187.7 208.5L187.4 210.1L183.5 209.2L183.1 210.9L179.2 209.8L178.7 211.5L174.7 210.3L174.1 212L170.1 210.5L169.5 212L165.5 210.3L164.9 211.6L161 209.6L160.6 210.3L156.7 208.1L156.4 208.7L152.6 206.2L152.4 206.5L148.8 203.8L148.6 204L145.1 201.2L145 201.3L141.7 198.2L141.6 198.4L138.3 195.1L138.3 195.2L135.3 191.8L135.2 191.9L132.3 188.4L132.2 188.5L129.5 184.8L129.3 184.9L126.9 181.1L126.7 181.2L124.4 177.2L124.3 177.2L122.2 173.2L122.8 172.9L120.9 168.8L121.5 168.5L119.9 164.3L120.3 164.1L118.9 159.9L119.3 159.8L118.1 155.4L118.5 155.4L117.6 151L118 150.9L117.3 146.5L117.4 146.5L117 142.1L117.2 142.1L116.9 137.7L117.5 137.7L117.5 133.3L117.7 133.3L117.9 128.9L118.1 129L118.6 124.6L118.9 124.7L119.5 120.4L119.8 120.4L120.7 116.2L121.1 116.3L122.2 112.1L122 112L123.3 107.9L123.1 107.8L124.7 103.8L124.5 103.7L126.3 99.8L126.2 99.7L128.2 95.9L128.1 95.8L130.3 92.1L130.4 92.1L132.8 88.5L133.1 88.7L135.7 85.2L135.9 85.4L138.6 82.1L139 82.4L141.9 79.2L142.2 79.5L145.2 76.5L145.7 77L148.9 74.2L149.6 75.1L152.8 72.5L154.1 74.1L157.4 71.7L158.5 73.4L161.8 71.2L163.2 73.5L166.5 71.6L168 74.4L171.2 72.7L172.5 75.3L175.7 73.9L177.1 77.3L180.2 76.1L181.3 79.3L184.3 78.3L185.4 82.2L188.2 81.4L189.3 86L191.9 85.5L192.6 89L195 88.6L195.3 90.9L197.7 90.7L197.7 91.3L200 91.2Z" fill="#bfff40"/>
<path d="M200.1 92.9L202.3 92.9L202.3 93L204.5 93.1L204.5 93.3L206.7 93.5L206.7 93.7L208.9 94.1L208.8 94.4L211 94.8L210.8 95.3L212.9 95.9L212.8 96.4L214.8 97.1L214.5 97.8L216.5 98.6L216.2 99.3L218.1 100.1L217.7 100.9L219.5 101.8L219.2 102.4L220.9 103.4L220.5 104L222.1 105.1L221.7 105.7L223.2 106.8L222.8 107.3L224.3 108.5L223.9 108.9L225.3 110.2L225.1 110.3L226.4 111.6L226.2 111.8L227.4 113.1L227.3 113.2L228.4 114.6L228.4 114.7L229.4 116.1L229.6 116L230.6 117.5L230.8 117.4L231.7 119L232 118.8L232.9 120.4L233.6 120L234.4 121.8L235.1 121.5L235.8 123.2L236.6 123L237.2 124.8L238.2 124.5L238.7 126.5L239.6 126.3L240 128.3L241.3 128.1L241.6 130.2L242.9 130L243.1 132.2L244.7 132.1L244.8 134.4L247.3 134.3L247.3 136.7L249.7 136.8L249.6 139.3L252.1 139.5L251.9 142.2L254.1 142.5L253.7 145.2L255.7 145.6L255.1 148.4L257 148.9L256.2 151.8L257.8 152.3L256.8 155.2L257.6 155.5L256.4 158.4L256.6 158.5L255.3 161.3L255.6 161.4L254.1 164.2L253.7 164L252.2 166.7L251.4 166.3L249.7 168.9L249.1 168.4L247.3 170.9L246.6 170.3L244.7 172.6L243.9 172L241.9 174.2L241 173.3L239 175.3L238.2 174.4L236.1 176.3L235.2 175.4L233.1 177.1L232.5 176.2L230.3 177.8L229.8 177.1L227.6 178.5L227.4 178.2L225.1 179.5L225.3 179.9L223 181.1L223.2 181.7L220.8 182.7L221.2 183.7L218.6 184.7L219 185.7L216.3 186.5L216.8 188.3L214 189L214.5 190.9L211.6 191.6L212 193.8L208.9 194.3L209.2 196.3L206 196.6L206.2 198.5L202.9 198.6L202.9 200.5L199.5 200.5L199.5 202.3L196 202.1L195.8 203.6L192.3 203.2L192.1 204.4L188.5 203.9L188.3 205.2L184.6 204.5L184.3 205.9L180.6 205L180.2 206.5L176.5 205.3L175.9 206.9L172.2 205.4L171.6 206.8L168 205.2L167.4 206.4L163.7 204.6L163.4 205.2L159.8 203.1L159.5 203.6L156 201.3L155.8 201.6L152.4 199.1L152.2 199.3L149 196.7L148.9 196.7L145.8 193.9L145.7 194L142.7 191L142.6 191.1L139.8 188L139.7 188.1L137 184.8L136.9 184.9L134.4 181.4L134.2 181.6L131.8 178L131.6 178.1L129.5 174.4L129.4 174.5L127.4 170.7L127.9 170.5L126.2 166.6L126.6 166.4L125.1 162.4L125.5 162.3L124.2 158.3L124.4 158.2L123.4 154.2L123.7 154.1L122.8 150L123.1 150L122.5 145.9L122.6 145.9L122.1 141.7L122.3 141.7L122.1 137.6L122.7 137.6L122.7 133.4L122.8 133.4L123 129.3L123.3 129.4L123.7 125.3L124 125.3L124.6 121.3L124.9 121.4L125.8 117.4L126.1 117.5L127.2 113.6L127 113.5L128.3 109.7L128.1 109.6L129.6 105.8L129.5 105.8L131.1 102.1L131.1 102.1L133 98.5L132.9 98.4L135 94.9L135.1 95L137.3 91.6L137.6 91.8L140 88.5L140.2 88.7L142.8 85.6L143.1 85.9L145.8 82.9L146.1 83.2L148.9 80.4L149.3 80.8L152.2 78.2L152.9 78.9L155.9 76.5L157 77.9L160.1 75.7L161.1 77.1L164.2 75.1L165.4 77.1L168.5 75.3L169.8 77.7L172.9 76.1L173.9 78.4L177 77L178.2 80.1L181.2 78.9L182.1 81.7L185 80.8L186 84.3L188.7 83.5L189.7 87.7L192.2 87.2L192.8 90.4L195.2 90L195.5 92.2L197.8 91.9L197.8 92.4L200.1 92.3Z" fill="#97ff68"/>
<path d="M200.1 94.4L202.3 94.4L202.3 94.4L204.4 94.5L204.4 94.6L206.5 94.9L206.5 95L208.6 95.4L208.6 95.7L210.7 96.1L210.5 96.6L212.6 97.1L212.4 97.6L214.4 98.3L214.1 99L216 99.7L215.7 100.4L217.5 101.2L217.2 101.9L218.9 102.8L218.6 103.4L220.3 104.4L219.9 105L221.5 106L221.1 106.6L222.6 107.7L222.1 108.2L223.5 109.4L223.2 109.8L224.5 111L224.3 111.1L225.6 112.4L225.4 112.5L226.6 113.8L226.5 113.9L227.6 115.3L227.5 115.3L228.5 116.7L228.7 116.6L229.7 118.1L229.8 117.9L230.7 119.5L231.1 119.3L231.9 120.9L232.6 120.5L233.3 122.2L234.1 121.9L234.7 123.6L235.5 123.3L236.1 125.2L237 124.9L237.5 126.8L238.4 126.6L238.8 128.5L240 128.3L240.3 130.4L241.4 130.2L241.6 132.3L243 132.2L243.2 134.4L245.4 134.3L245.4 136.7L247.5 136.7L247.4 139.1L249.5 139.3L249.3 141.8L251.1 142.1L250.7 144.7L252.4 145L251.8 147.6L253.2 148L252.5 150.7L253.7 151L252.8 153.8L253.2 153.9L252.2 156.6L252.2 156.6L251 159.3L251.1 159.3L249.8 161.9L249.3 161.6L247.8 164.1L247.1 163.6L245.6 166L245 165.6L243.4 167.9L242.7 167.4L241 169.5L240.3 168.9L238.5 170.9L237.8 170.2L235.9 172.1L235.2 171.3L233.3 173L232.6 172.2L230.6 173.8L230.1 173.1L228.1 174.6L227.7 174L225.6 175.3L225.5 175.1L223.4 176.3L223.6 176.7L221.4 177.8L221.6 178.4L219.4 179.4L219.7 180.2L217.4 181.2L217.7 182.1L215.2 182.9L215.7 184.5L213.1 185.2L213.5 186.9L210.8 187.5L211.2 189.5L208.4 190L208.6 191.7L205.7 192.1L205.8 193.7L202.7 193.9L202.8 195.5L199.6 195.5L199.6 197.1L196.4 197L196.3 198.3L193 197.9L192.8 199L189.5 198.5L189.3 199.7L186 199L185.7 200.3L182.3 199.4L181.9 200.7L178.5 199.6L178 201L174.6 199.7L174.1 200.9L170.7 199.4L170.2 200.5L166.8 198.8L166.5 199.4L163.2 197.5L163 197.9L159.8 195.8L159.6 196L156.5 193.8L156.4 193.9L153.4 191.5L153.3 191.6L150.4 189L150.3 189.1L147.6 186.4L147.5 186.5L144.9 183.6L144.8 183.7L142.3 180.7L142.2 180.8L139.9 177.6L139.7 177.8L137.5 174.5L137.3 174.7L135.3 171.3L135.2 171.3L133.4 167.8L133.8 167.7L132.2 164.1L132.5 163.9L131.1 160.3L131.4 160.2L130.2 156.5L130.4 156.5L129.4 152.7L129.7 152.7L128.9 148.9L129.1 148.9L128.5 145.1L128.6 145.1L128.2 141.2L128.3 141.2L128.1 137.4L128.6 137.4L128.6 133.6L128.8 133.6L129 129.8L129.2 129.8L129.6 126.1L129.9 126.1L130.5 122.4L130.8 122.5L131.6 118.8L132 118.9L132.9 115.3L132.8 115.2L134 111.7L133.9 111.7L135.2 108.2L135.2 108.2L136.7 104.7L136.7 104.8L138.4 101.4L138.4 101.4L140.3 98.2L140.4 98.3L142.5 95.1L142.7 95.3L144.9 92.3L145.1 92.5L147.5 89.6L147.8 89.9L150.2 87.1L150.5 87.4L153.1 84.8L153.4 85.1L156.1 82.7L156.6 83.3L159.4 81.1L160.4 82.3L163.2 80.2L164 81.4L166.9 79.5L167.9 81.2L170.8 79.6L171.9 81.6L174.8 80.1L175.7 82L178.5 80.8L179.6 83.4L182.4 82.4L183.2 84.7L185.9 83.9L186.8 86.9L189.4 86.2L190.3 89.9L192.7 89.4L193.2 92.3L195.5 91.9L195.7 93.8L197.9 93.6L197.9 94L200.1 93.9Z" fill="#6eff91"/>
<path d="M200.2 96.3L202.2 96.3L202.2 96.3L204.3 96.4L204.3 96.5L206.3 96.7L206.3 96.8L208.3 97.2L208.3 97.4L210.2 97.8L210.1 98.3L212.1 98.8L211.9 99.3L213.8 99.9L213.6 100.6L215.4 101.3L215.1 101.9L216.8 102.7L216.5 103.4L218.2 104.2L217.8 104.8L219.4 105.8L219.1 106.3L220.6 107.3L220.2 107.9L221.6 108.9L221.2 109.4L222.5 110.5L222.2 110.9L223.4 112.1L223.3 112.2L224.5 113.4L224.3 113.5L225.5 114.8L225.3 114.9L226.4 116.2L226.3 116.2L227.3 117.6L227.5 117.4L228.4 118.8L228.6 118.7L229.4 120.2L229.8 120L230.5 121.5L231.2 121.2L231.9 122.8L232.6 122.5L233.2 124.2L234 123.9L234.5 125.6L235.4 125.4L235.8 127.2L236.6 127L237 128.9L238.1 128.7L238.4 130.6L239.3 130.5L239.5 132.5L240.8 132.4L240.9 134.5L242.8 134.4L242.8 136.6L244.6 136.6L244.4 138.9L246.2 139L246 141.4L247.4 141.6L247 144L248.3 144.2L247.8 146.7L248.8 146.9L248.2 149.4L249 149.7L248.2 152.1L248.4 152.2L247.4 154.6L247.2 154.6L246.2 157L246.1 156.9L244.9 159.2L244.4 159L243.1 161.2L242.5 160.8L241.1 162.9L240.6 162.5L239.1 164.6L238.5 164.1L237 166.1L236.4 165.6L234.8 167.4L234.2 166.8L232.5 168.5L231.9 167.9L230.2 169.4L229.6 168.8L227.8 170.2L227.4 169.6L225.6 171L225.3 170.5L223.4 171.7L223.3 171.6L221.4 172.7L221.6 173.1L219.6 174.1L219.9 174.6L217.8 175.5L218.1 176.3L216 177.2L216.3 178L214 178.7L214.4 180.1L212.1 180.8L212.4 182.3L210 182.9L210.3 184.7L207.7 185.1L207.9 186.6L205.2 186.9L205.4 188.4L202.6 188.5L202.6 189.9L199.8 189.9L199.7 191.3L196.8 191.2L196.7 192.3L193.8 192L193.6 192.9L190.6 192.5L190.5 193.5L187.4 192.8L187.2 194L184.1 193.1L183.8 194.3L180.7 193.3L180.3 194.5L177.2 193.3L176.8 194.4L173.7 193.1L173.3 194L170.3 192.5L170 192.9L167.1 191.2L166.8 191.6L163.9 189.7L163.8 189.9L161 187.9L160.9 188L158.2 185.9L158.1 185.9L155.6 183.6L155.4 183.7L153 181.3L152.9 181.3L150.6 178.7L150.4 178.9L148.2 176.1L148 176.3L146 173.5L145.8 173.6L143.8 170.6L143.6 170.8L141.8 167.7L141.6 167.8L140 164.7L140.3 164.6L138.9 161.3L139.1 161.2L137.9 157.9L138.1 157.8L137 154.5L137.1 154.5L136.2 151.1L136.4 151.1L135.7 147.6L135.9 147.6L135.3 144.2L135.4 144.2L135 140.7L135.1 140.7L135 137.2L135.4 137.2L135.4 133.8L135.5 133.8L135.7 130.3L135.9 130.4L136.3 127L136.6 127L137.1 123.6L137.4 123.7L138.1 120.4L138.5 120.4L139.4 117.2L139.3 117.2L140.4 114L140.3 113.9L141.5 110.8L141.5 110.8L142.9 107.7L143 107.7L144.5 104.7L144.5 104.7L146.2 101.8L146.4 101.9L148.2 99.1L148.4 99.2L150.4 96.5L150.6 96.7L152.7 94.1L152.9 94.3L155.2 91.8L155.3 92L157.7 89.6L157.9 89.9L160.4 87.7L160.8 88.2L163.3 86.2L164.1 87.2L166.7 85.3L167.4 86.3L170 84.6L170.8 85.9L173.5 84.4L174.4 86.1L177 84.8L177.7 86.3L180.3 85.1L181.3 87.4L183.8 86.4L184.5 88.3L187 87.5L187.8 90.1L190.2 89.5L190.9 92.7L193.2 92.2L193.6 94.7L195.8 94.4L196 96L198.1 95.7L198.1 96L200.2 95.9Z" fill="#46ffb9"/>
<path d="M200.2 98.8L202.2 98.8L202.2 98.7L204.1 98.8L204.1 98.9L206 99.1L206 99.2L207.9 99.5L207.8 99.7L209.7 100.1L209.6 100.5L211.4 101L211.3 101.5L213 102.1L212.8 102.7L214.5 103.3L214.3 104L215.9 104.7L215.6 105.3L217.1 106.1L216.8 106.7L218.3 107.6L218 108.1L219.4 109L219 109.6L220.4 110.5L220 111L221.2 112.1L220.9 112.4L222.1 113.5L221.9 113.7L223 114.8L222.9 114.9L223.9 116.1L223.8 116.2L224.8 117.4L224.8 117.4L225.7 118.7L225.8 118.6L226.7 119.9L226.9 119.8L227.6 121.1L228 121L228.7 122.4L229.3 122.1L230 123.6L230.6 123.3L231.2 124.9L231.9 124.6L232.4 126.3L233.1 126L233.6 127.7L234.3 127.6L234.6 129.3L235.5 129.1L235.8 130.9L236.6 130.8L236.8 132.7L237.8 132.6L237.9 134.5L239.5 134.5L239.5 136.5L240.9 136.5L240.8 138.6L242.2 138.7L242 140.9L243 141L242.7 143.2L243.6 143.4L243.1 145.6L243.8 145.7L243.2 147.9L243.7 148.1L243 150.3L243 150.3L242.2 152.5L241.9 152.3L240.9 154.5L240.8 154.4L239.7 156.4L239.2 156.1L238.1 158.1L237.5 157.7L236.3 159.6L235.8 159.3L234.5 161.1L234.1 160.7L232.7 162.4L232.2 162L230.8 163.6L230.3 163.1L228.8 164.6L228.4 164.1L226.8 165.5L226.4 165L224.8 166.3L224.5 165.9L222.9 167.1L222.6 166.7L221 167.8L221 167.7L219.2 168.7L219.4 169.1L217.7 170L217.9 170.5L216 171.3L216.3 172L214.4 172.8L214.7 173.5L212.7 174.2L213 175.4L210.9 175.9L211.2 177.3L209 177.8L209.3 179.3L207 179.7L207.2 181L204.8 181.3L204.9 182.5L202.4 182.6L202.5 183.8L199.9 183.8L199.9 185L197.3 184.9L197.2 185.8L194.6 185.5L194.5 186.3L191.9 185.9L191.7 186.8L189 186.2L188.8 187.1L186.1 186.4L185.8 187.4L183.1 186.5L182.8 187.5L180.1 186.5L179.7 187.4L177 186.2L176.6 187L174 185.6L173.8 186L171.2 184.5L171 184.9L168.4 183.2L168.3 183.4L165.8 181.6L165.7 181.7L163.4 179.8L163.3 179.9L161 177.8L160.9 177.9L158.8 175.8L158.7 175.9L156.6 173.6L156.5 173.7L154.5 171.3L154.3 171.5L152.5 169L152.3 169.1L150.6 166.5L150.4 166.7L148.8 164L148.6 164.1L147.2 161.3L147.4 161.2L146.1 158.3L146.3 158.2L145.2 155.3L145.3 155.3L144.4 152.3L144.4 152.3L143.6 149.3L143.8 149.3L143.1 146.3L143.3 146.2L142.8 143.2L142.8 143.2L142.5 140.1L142.6 140.1L142.4 137L142.8 137L142.8 134L142.9 134L143.1 130.9L143.3 130.9L143.6 127.9L143.9 128L144.3 125L144.6 125L145.3 122.1L145.6 122.2L146.4 119.3L146.4 119.3L147.3 116.4L147.3 116.4L148.4 113.6L148.4 113.6L149.6 110.9L149.7 110.9L151 108.3L151.1 108.3L152.6 105.7L152.7 105.8L154.3 103.3L154.5 103.4L156.3 101L156.4 101.1L158.3 98.8L158.5 99L160.5 96.8L160.6 97L162.7 94.9L162.8 95.1L165 93.1L165.3 93.5L167.6 91.7L168.2 92.5L170.5 90.8L171 91.6L173.3 90L174 91.1L176.4 89.8L177.1 91.1L179.5 89.9L180 91.1L182.4 90.1L183.1 91.8L185.4 91L186 92.5L188.3 91.8L188.9 93.9L191.1 93.3L191.7 96L193.8 95.6L194.2 97.6L196.2 97.3L196.3 98.6L198.3 98.4L198.3 98.6L200.2 98.5Z" fill="#1dffe2"/>
<path d="M200.3 101.9L202.1 101.9L202.1 101.8L203.8 101.9L203.8 101.9L205.6 102.1L205.6 102.2L207.3 102.4L207.3 102.6L209 103L208.9 103.4L210.6 103.8L210.5 104.2L212.1 104.8L211.9 105.3L213.4 105.9L213.2 106.5L214.7 107.2L214.4 107.8L215.9 108.5L215.6 109L216.9 109.8L216.6 110.4L217.9 111.2L217.6 111.7L218.8 112.6L218.4 113L219.6 114L219.3 114.3L220.4 115.3L220.2 115.5L221.2 116.5L221.1 116.6L222 117.7L221.9 117.8L222.8 118.9L222.8 118.9L223.6 120.1L223.8 120L224.5 121.2L224.7 121.1L225.4 122.4L225.7 122.2L226.4 123.5L226.9 123.2L227.5 124.6L228.1 124.4L228.6 125.8L229.2 125.6L229.7 127.1L230.3 126.9L230.7 128.4L231.3 128.3L231.6 129.9L232.4 129.7L232.6 131.4L233.2 131.3L233.4 133L234.2 132.9L234.3 134.6L235.6 134.6L235.6 136.4L236.6 136.4L236.5 138.3L237.6 138.4L237.4 140.3L238.1 140.4L237.8 142.3L238.3 142.4L237.9 144.3L238.3 144.4L237.8 146.3L238.1 146.4L237.5 148.3L237.3 148.3L236.6 150.2L236.3 150L235.4 151.8L235.2 151.7L234.3 153.5L233.8 153.2L232.9 154.9L232.3 154.6L231.3 156.2L230.9 155.9L229.8 157.5L229.4 157.2L228.3 158.6L227.9 158.3L226.7 159.7L226.3 159.3L225 160.6L224.7 160.3L223.4 161.5L223.1 161.1L221.7 162.2L221.5 161.9L220 162.9L219.9 162.7L218.4 163.6L218.4 163.6L216.9 164.5L217.1 164.8L215.6 165.6L215.8 166L214.2 166.8L214.4 167.4L212.7 168L212.9 168.7L211.2 169.2L211.5 170.3L209.7 170.8L209.9 171.9L208 172.3L208.3 173.6L206.3 173.9L206.4 175L204.3 175.2L204.4 176.3L202.3 176.4L202.3 177.4L200.1 177.4L200.1 178.4L197.8 178.2L197.8 179L195.5 178.8L195.4 179.4L193.1 179L193 179.7L190.7 179.2L190.5 180L188.2 179.4L188 180.2L185.6 179.4L185.3 180.3L183 179.4L182.7 180.1L180.4 179.1L180.1 179.7L177.8 178.6L177.6 178.9L175.4 177.6L175.2 177.9L173.1 176.4L173 176.6L170.9 175.1L170.8 175.2L168.7 173.5L168.7 173.6L166.7 171.8L166.6 171.9L164.8 170.1L164.7 170.2L162.9 168.2L162.8 168.3L161.1 166.3L160.9 166.4L159.3 164.3L159.1 164.4L157.7 162.2L157.4 162.3L156.1 160L155.9 160.1L154.7 157.7L154.8 157.6L153.7 155.2L153.8 155.1L152.9 152.6L152.9 152.6L152.1 150L152.2 150L151.5 147.4L151.5 147.4L151 144.8L151.1 144.8L150.6 142.2L150.6 142.2L150.4 139.5L150.4 139.5L150.3 136.8L150.6 136.8L150.6 134.2L150.7 134.2L150.9 131.5L151 131.6L151.3 128.9L151.6 129L152 126.4L152.3 126.4L152.8 123.9L153.1 124L153.8 121.5L153.8 121.5L154.6 119L154.6 119L155.5 116.6L155.6 116.6L156.6 114.2L156.7 114.3L157.9 112L157.9 112L159.2 109.8L159.3 109.9L160.7 107.7L160.9 107.8L162.4 105.7L162.5 105.8L164.1 103.9L164.3 104L166 102.1L166.1 102.2L167.9 100.4L168 100.5L169.9 98.8L170.1 99.1L172.1 97.5L172.5 98.1L174.5 96.7L174.9 97.2L176.9 95.9L177.4 96.7L179.5 95.5L180 96.5L182.1 95.5L182.5 96.4L184.6 95.5L185.2 96.8L187.2 96L187.7 97.2L189.7 96.6L190.2 98.3L192.1 97.7L192.6 99.9L194.5 99.5L194.8 101.1L196.6 100.8L196.8 101.9L198.5 101.7L198.5 101.8L200.3 101.7Z" fill="#00f3ff"/>
<path d="M200.4 105.5L202 105.5L202 105.4L203.6 105.5L203.6 105.5L205.1 105.7L205.1 105.7L206.7 106L206.6 106.2L208.2 106.5L208.1 106.8L209.6 107.2L209.5 107.6L210.9 108L210.7 108.5L212.1 109.1L211.9 109.6L213.3 110.2L213 110.7L214.3 111.4L214 111.9L215.3 112.6L215 113L216.1 113.8L215.8 114.2L216.9 115L216.6 115.5L217.6 116.3L217.3 116.6L218.3 117.5L218.1 117.6L219.1 118.6L218.9 118.7L219.8 119.6L219.7 119.7L220.5 120.7L220.4 120.7L221.2 121.8L221.3 121.7L222 122.8L222.1 122.7L222.7 123.8L223 123.7L223.6 124.8L224 124.6L224.5 125.8L225 125.6L225.5 126.9L226 126.7L226.4 128L226.9 127.9L227.3 129.2L227.7 129.1L228 130.5L228.6 130.4L228.8 131.9L229.3 131.8L229.4 133.3L230 133.2L230.1 134.7L231.1 134.7L231.1 136.3L231.8 136.3L231.7 137.9L232.4 138L232.3 139.6L232.7 139.6L232.4 141.3L232.7 141.3L232.4 143L232.6 143L232.2 144.7L232.3 144.7L231.7 146.3L231.5 146.2L230.9 147.8L230.5 147.7L229.9 149.2L229.6 149.1L228.9 150.5L228.4 150.3L227.6 151.7L227.2 151.4L226.3 152.8L226 152.6L225.1 153.8L224.8 153.6L223.8 154.8L223.6 154.6L222.6 155.8L222.3 155.5L221.2 156.6L221 156.3L219.9 157.3L219.6 157.1L218.5 158L218.3 157.8L217.1 158.7L217 158.5L215.8 159.3L215.8 159.4L214.6 160.1L214.7 160.4L213.4 161.1L213.6 161.4L212.2 162.1L212.4 162.6L211 163.1L211.2 163.7L209.7 164.1L209.9 165L208.4 165.4L208.6 166.3L207 166.7L207.2 167.7L205.5 168L205.6 168.8L203.8 169L203.9 169.8L202.1 169.9L202.1 170.7L200.3 170.7L200.3 171.5L198.4 171.4L198.3 172L196.4 171.8L196.4 172.3L194.4 172L194.3 172.6L192.4 172.2L192.3 172.8L190.3 172.2L190.1 172.9L188.2 172.2L188 172.9L186 172.1L185.8 172.7L183.9 171.9L183.6 172.4L181.7 171.4L181.6 171.7L179.7 170.6L179.6 170.8L177.7 169.6L177.7 169.7L175.9 168.5L175.8 168.6L174.1 167.2L174.1 167.3L172.5 165.8L172.4 165.9L170.8 164.3L170.7 164.4L169.2 162.8L169.1 162.9L167.7 161.2L167.6 161.3L166.3 159.5L166.1 159.7L164.8 157.8L164.6 157.9L163.5 156L163.3 156.1L162.3 154.1L162.4 154L161.4 152L161.5 151.9L160.7 149.8L160.7 149.8L160.1 147.7L160.1 147.7L159.5 145.5L159.5 145.5L159 143.3L159.1 143.3L158.7 141.1L158.7 141.1L158.5 138.9L158.5 138.9L158.4 136.6L158.7 136.6L158.7 134.4L158.8 134.4L158.9 132.2L159 132.2L159.3 130L159.5 130L159.8 127.8L160.1 127.9L160.5 125.7L160.8 125.8L161.4 123.7L161.4 123.7L162.1 121.6L162.1 121.7L162.9 119.6L162.9 119.7L163.8 117.7L163.9 117.7L164.9 115.8L164.9 115.8L166 113.9L166.1 114L167.3 112.2L167.4 112.3L168.7 110.6L168.8 110.6L170.1 109L170.2 109.1L171.7 107.5L171.7 107.5L173.2 106L173.3 106.1L174.9 104.7L175 104.8L176.7 103.5L177 103.9L178.7 102.7L178.9 103.1L180.7 102L181 102.6L182.8 101.5L183.2 102.3L184.9 101.4L185.2 102L187 101.2L187.4 102.2L189.2 101.5L189.5 102.4L191.2 101.8L191.6 103.1L193.3 102.6L193.7 104.2L195.3 103.9L195.6 105.2L197.2 104.9L197.3 105.7L198.8 105.5L198.8 105.5L200.4 105.4Z" fill="#00cbff"/>
<path d="M200.5 109.7L201.9 109.7L201.9 109.6L203.2 109.7L203.2 109.7L204.6 109.8L204.6 109.9L205.9 110.1L205.9 110.2L207.2 110.5L207.1 110.8L208.4 111.1L208.3 111.4L209.6 111.8L209.4 112.3L210.6 112.7L210.4 113.2L211.6 113.7L211.4 114.1L212.5 114.7L212.3 115.1L213.3 115.7L213.1 116.1L214.1 116.8L213.8 117.2L214.7 117.9L214.5 118.2L215.3 118.9L215.1 119.2L215.9 120L215.8 120.1L216.6 120.9L216.4 121L217.2 121.9L217.1 121.9L217.8 122.8L217.7 122.8L218.4 123.7L218.4 123.7L219 124.6L219.1 124.5L219.7 125.5L219.8 125.4L220.3 126.4L220.7 126.2L221.2 127.2L221.5 127.1L221.9 128.2L222.3 128L222.6 129.1L223 129L223.4 130.2L223.7 130.1L223.9 131.3L224.4 131.2L224.6 132.4L224.9 132.4L225 133.6L225.4 133.6L225.5 134.9L226.1 134.8L226.1 136.2L226.6 136.2L226.6 137.5L227 137.5L226.9 138.9L227.1 138.9L226.9 140.3L227 140.3L226.7 141.6L226.8 141.6L226.4 143L226.4 143L226 144.3L225.7 144.2L225.2 145.5L224.9 145.3L224.4 146.5L224.1 146.4L223.5 147.6L223.2 147.4L222.5 148.6L222.2 148.4L221.5 149.4L221.3 149.3L220.5 150.3L220.3 150.2L219.5 151.1L219.3 151L218.5 151.9L218.3 151.7L217.4 152.6L217.3 152.5L216.4 153.3L216.2 153.1L215.3 153.9L215.2 153.8L214.2 154.5L214.2 154.4L213.2 155L213.2 155.1L212.2 155.7L212.3 156L211.2 156.5L211.4 156.8L210.2 157.3L210.4 157.7L209.2 158.2L209.4 158.6L208.2 159L208.4 159.6L207.1 160L207.2 160.7L205.9 161L206.1 161.8L204.7 162L204.8 162.7L203.3 162.8L203.4 163.4L201.9 163.5L201.9 164.1L200.5 164.1L200.4 164.7L198.9 164.6L198.9 165.1L197.3 164.9L197.3 165.3L195.7 165L195.6 165.5L194.1 165.1L194 165.6L192.4 165.2L192.3 165.7L190.7 165.1L190.5 165.6L189 165L188.8 165.5L187.2 164.8L187 165.2L185.5 164.4L185.4 164.6L183.9 163.7L183.8 163.9L182.3 162.9L182.3 163L180.9 162L180.8 162.1L179.4 161L179.4 161L178.1 159.9L178 160L176.7 158.7L176.7 158.8L175.5 157.5L175.4 157.6L174.2 156.2L174.1 156.3L173.1 154.8L172.9 155L171.9 153.5L171.7 153.6L170.8 152L170.6 152.1L169.8 150.5L169.8 150.5L169.1 148.8L169.1 148.8L168.5 147.1L168.5 147.1L167.9 145.4L167.9 145.4L167.4 143.6L167.5 143.6L167.1 141.8L167.1 141.8L166.8 140L166.8 140L166.6 138.2L166.6 138.2L166.5 136.4L166.7 136.4L166.7 134.6L166.8 134.6L166.9 132.8L167 132.8L167.2 131L167.4 131L167.7 129.3L167.9 129.3L168.2 127.6L168.5 127.6L168.9 125.9L169 126L169.5 124.3L169.6 124.3L170.2 122.7L170.2 122.7L171 121.1L171 121.1L171.8 119.5L171.9 119.6L172.7 118.1L172.8 118.1L173.8 116.6L173.9 116.7L174.9 115.3L174.9 115.4L176 114L176.1 114.1L177.3 112.8L177.3 112.8L178.5 111.6L178.5 111.6L179.8 110.5L179.9 110.6L181.2 109.5L181.5 109.8L182.8 108.8L183 109L184.4 108.1L184.6 108.5L186.1 107.6L186.3 108.1L187.8 107.4L188 107.8L189.5 107.1L189.7 107.8L191.2 107.3L191.4 107.8L192.9 107.4L193.1 108.2L194.6 107.8L194.8 109L196.2 108.7L196.4 109.6L197.8 109.4L197.8 109.9L199.2 109.8L199.2 109.7L200.5 109.7Z" fill="#00a2ff"/>
<path d="M200.6 114.3L201.8 114.3L201.8 114.2L202.9 114.3L202.9 114.3L204 114.4L204 114.4L205.1 114.6L205.1 114.7L206.1 115L206.1 115.2L207.1 115.5L207.1 115.7L208.1 116L208 116.4L209 116.8L208.8 117.1L209.8 117.6L209.6 117.9L210.5 118.4L210.3 118.7L211.2 119.2L211 119.6L211.8 120.1L211.6 120.4L212.3 121L212.1 121.3L212.8 121.9L212.6 122.1L213.3 122.7L213.2 122.9L213.8 123.5L213.7 123.6L214.3 124.3L214.2 124.4L214.8 125.1L214.8 125.1L215.3 125.8L215.3 125.8L215.8 126.5L215.9 126.5L216.3 127.3L216.4 127.2L216.8 128L217.1 127.9L217.5 128.8L217.7 128.7L218.1 129.5L218.3 129.4L218.6 130.3L218.9 130.3L219.1 131.2L219.4 131.1L219.6 132.1L219.9 132L220 133L220.2 133L220.3 134L220.6 134L220.6 135L221.1 135L221.1 136L221.4 136L221.3 137.1L221.5 137.1L221.4 138.2L221.5 138.2L221.4 139.2L221.4 139.2L221.2 140.3L221.1 140.3L220.8 141.3L220.8 141.3L220.4 142.3L220.2 142.2L219.8 143.2L219.5 143.1L219.1 144L218.9 144L218.5 144.9L218.2 144.7L217.7 145.6L217.4 145.5L216.9 146.3L216.7 146.2L216.2 147L216 146.9L215.4 147.6L215.3 147.5L214.7 148.3L214.5 148.2L213.9 148.8L213.8 148.7L213.1 149.4L213 149.3L212.2 149.9L212.2 149.8L211.4 150.4L211.4 150.3L210.6 150.9L210.7 150.9L209.8 151.4L209.9 151.6L209.1 152L209.2 152.3L208.3 152.7L208.4 153L207.5 153.3L207.6 153.7L206.7 154L206.8 154.4L205.8 154.7L205.9 155.2L204.9 155.4L205 156L203.9 156.2L204 156.7L202.9 156.8L202.9 157.2L201.8 157.3L201.8 157.7L200.6 157.7L200.6 158.2L199.4 158.1L199.4 158.4L198.2 158.3L198.2 158.6L197 158.4L196.9 158.7L195.7 158.4L195.6 158.7L194.4 158.4L194.3 158.8L193.1 158.4L193 158.7L191.8 158.3L191.6 158.6L190.5 158L190.3 158.3L189.1 157.7L189.1 157.9L187.9 157.2L187.8 157.3L186.7 156.6L186.7 156.7L185.6 155.9L185.5 155.9L184.5 155.1L184.4 155.1L183.4 154.2L183.4 154.3L182.4 153.3L182.3 153.4L181.4 152.4L181.3 152.5L180.5 151.4L180.3 151.5L179.5 150.4L179.4 150.5L178.7 149.3L178.5 149.4L177.8 148.2L177.7 148.3L177 147L177 147L176.5 145.7L176.5 145.7L176 144.4L176 144.4L175.5 143.1L175.5 143.1L175.1 141.8L175.1 141.8L174.8 140.4L174.8 140.4L174.6 139L174.6 139L174.5 137.6L174.5 137.6L174.4 136.2L174.5 136.2L174.5 134.8L174.6 134.8L174.7 133.4L174.8 133.4L174.9 132L175 132.1L175.3 130.7L175.4 130.7L175.7 129.4L175.9 129.4L176.2 128.1L176.3 128.1L176.7 126.8L176.7 126.8L177.2 125.6L177.3 125.6L177.8 124.3L177.9 124.4L178.5 123.2L178.5 123.2L179.2 122L179.3 122L180 120.9L180.1 121L180.8 119.9L180.9 119.9L181.7 118.9L181.8 118.9L182.7 117.9L182.7 117.9L183.6 117L183.6 117L184.6 116.1L184.6 116.1L185.7 115.3L185.8 115.4L186.9 114.7L187 114.8L188.1 114.1L188.2 114.3L189.3 113.7L189.5 114L190.6 113.4L190.8 113.6L191.9 113.1L192.1 113.5L193.3 113.1L193.4 113.4L194.5 113L194.7 113.6L195.9 113.3L196.1 114.1L197.2 113.8L197.3 114.4L198.4 114.2L198.4 114.6L199.5 114.5L199.5 114.4L200.6 114.3Z" fill="#007aff"/>
<path d="M200.8 119.2L201.6 119.2L201.6 119.1L202.5 119.2L202.5 119.1L203.3 119.2L203.3 119.3L204.2 119.4L204.2 119.5L205 119.7L205 119.8L205.8 120L205.7 120.2L206.5 120.5L206.4 120.7L207.2 121L207.1 121.3L207.8 121.6L207.7 121.9L208.4 122.3L208.3 122.5L208.9 122.9L208.8 123.2L209.4 123.6L209.2 123.8L209.8 124.2L209.7 124.5L210.2 124.9L210.1 125.1L210.6 125.6L210.5 125.7L211 126.2L210.9 126.3L211.4 126.8L211.3 126.9L211.7 127.4L211.7 127.5L212.1 128L212.1 128L212.5 128.6L212.5 128.6L212.8 129.2L212.9 129.1L213.2 129.8L213.4 129.7L213.7 130.3L213.8 130.3L214.1 130.9L214.3 130.9L214.5 131.6L214.7 131.5L214.9 132.2L215 132.2L215.1 132.9L215.3 132.9L215.4 133.6L215.5 133.6L215.6 134.4L215.8 134.4L215.8 135.1L216.1 135.1L216.1 135.9L216.2 135.9L216.2 136.7L216.3 136.7L216.2 137.5L216.2 137.5L216.1 138.3L216.1 138.3L215.9 139L215.8 139L215.6 139.8L215.5 139.7L215.3 140.5L215.1 140.4L214.8 141.2L214.6 141.1L214.3 141.8L214.2 141.7L213.8 142.4L213.7 142.3L213.3 142.9L213.1 142.8L212.7 143.4L212.6 143.3L212.2 143.9L212.1 143.9L211.7 144.4L211.6 144.4L211.1 144.9L211.1 144.9L210.6 145.4L210.5 145.3L210 145.8L209.9 145.7L209.4 146.2L209.4 146.2L208.8 146.6L208.8 146.6L208.2 147L208.3 147L207.6 147.4L207.7 147.5L207.1 147.8L207.2 148L206.5 148.3L206.6 148.5L205.9 148.8L206 149L205.3 149.2L205.4 149.5L204.6 149.7L204.7 150.1L203.9 150.2L204 150.6L203.2 150.8L203.3 151.1L202.4 151.2L202.5 151.5L201.6 151.5L201.6 151.8L200.8 151.8L200.8 152.1L199.9 152L199.9 152.2L199 152.1L199 152.3L198.1 152.2L198.1 152.4L197.2 152.2L197.1 152.4L196.3 152.2L196.2 152.4L195.3 152.1L195.2 152.3L194.4 152L194.3 152.2L193.4 151.8L193.3 152L192.5 151.6L192.4 151.7L191.6 151.2L191.5 151.3L190.7 150.7L190.7 150.8L189.9 150.2L189.9 150.3L189.1 149.7L189.1 149.7L188.3 149L188.3 149.1L187.6 148.4L187.5 148.5L186.9 147.7L186.8 147.8L186.2 147L186.1 147.1L185.5 146.3L185.4 146.3L184.9 145.5L184.8 145.6L184.3 144.7L184.2 144.7L183.7 143.8L183.7 143.8L183.3 142.9L183.3 142.9L182.9 142L182.9 142L182.6 141L182.5 141L182.3 140L182.3 140L182.1 139L182.1 139L181.9 138L181.9 138L181.8 137L181.8 137L181.7 136L181.8 136L181.8 135L181.8 135L181.9 134L182 134L182.1 133L182.2 133L182.3 132L182.4 132L182.6 131L182.8 131.1L183 130.1L183.1 130.1L183.4 129.2L183.4 129.2L183.7 128.3L183.8 128.3L184.2 127.4L184.2 127.4L184.7 126.5L184.7 126.5L185.2 125.7L185.2 125.7L185.8 124.9L185.8 124.9L186.4 124.1L186.4 124.1L187 123.4L187 123.4L187.7 122.7L187.7 122.7L188.4 122L188.4 122L189.1 121.3L189.1 121.3L189.9 120.7L189.9 120.8L190.7 120.2L190.7 120.3L191.6 119.8L191.6 119.9L192.5 119.4L192.5 119.5L193.4 119.1L193.4 119.2L194.3 118.8L194.4 119.1L195.3 118.7L195.3 118.9L196.2 118.6L196.3 119L197.2 118.7L197.3 119.2L198.1 119L198.2 119.4L199.1 119.2L199.1 119.4L199.9 119.3L199.9 119.3L200.8 119.2Z" fill="#0051ff"/>
<path d="M200.9 124L201.5 124L201.5 124L202.1 124L202.1 124L202.7 124.1L202.7 124.1L203.3 124.2L203.3 124.2L203.9 124.4L203.8 124.5L204.4 124.6L204.4 124.7L204.9 124.9L204.9 125.1L205.4 125.3L205.4 125.5L205.9 125.7L205.8 125.9L206.3 126.1L206.2 126.3L206.7 126.6L206.6 126.7L207 127L206.9 127.2L207.3 127.5L207.2 127.6L207.6 128L207.5 128.1L207.9 128.4L207.8 128.5L208.2 128.9L208.1 128.9L208.5 129.3L208.4 129.4L208.7 129.7L208.7 129.8L209 130.2L209 130.2L209.2 130.6L209.2 130.6L209.5 131L209.5 131L209.7 131.4L209.8 131.4L210 131.8L210.1 131.8L210.3 132.3L210.4 132.3L210.5 132.7L210.6 132.7L210.8 133.2L210.8 133.2L210.9 133.7L211 133.7L211.1 134.2L211.2 134.2L211.2 134.7L211.3 134.7L211.3 135.2L211.4 135.2L211.4 135.8L211.5 135.8L211.5 136.3L211.5 136.3L211.4 136.8L211.4 136.8L211.3 137.4L211.3 137.4L211.2 137.9L211.1 137.9L211 138.4L210.9 138.4L210.8 138.9L210.6 138.8L210.4 139.3L210.3 139.3L210.1 139.7L210 139.7L209.8 140.2L209.7 140.1L209.4 140.5L209.3 140.5L209.1 140.9L209 140.9L208.7 141.3L208.7 141.2L208.4 141.6L208.3 141.6L208 142L208 141.9L207.6 142.3L207.6 142.3L207.3 142.6L207.2 142.6L206.9 142.9L206.9 142.9L206.5 143.2L206.5 143.2L206.1 143.4L206.1 143.5L205.7 143.7L205.7 143.8L205.3 144L205.3 144.1L204.9 144.3L204.9 144.5L204.4 144.7L204.5 144.8L204 144.9L204.1 145.1L203.5 145.3L203.6 145.5L203.1 145.6L203.1 145.8L202.6 145.9L202.6 146.1L202 146.1L202 146.3L201.5 146.3L201.5 146.5L200.9 146.5L200.9 146.6L200.3 146.6L200.3 146.7L199.7 146.7L199.7 146.8L199.1 146.7L199.1 146.8L198.5 146.7L198.5 146.8L197.9 146.6L197.9 146.8L197.3 146.6L197.2 146.7L196.7 146.5L196.6 146.6L196 146.3L196 146.5L195.4 146.2L195.4 146.2L194.8 145.9L194.8 146L194.3 145.6L194.2 145.6L193.7 145.3L193.7 145.3L193.2 144.9L193.2 144.9L192.7 144.5L192.7 144.5L192.2 144L192.2 144.1L191.7 143.6L191.7 143.6L191.3 143.1L191.2 143.2L190.8 142.6L190.8 142.7L190.4 142.1L190.3 142.2L190 141.6L189.9 141.6L189.6 141L189.6 141L189.3 140.4L189.3 140.4L189.1 139.8L189.1 139.8L188.9 139.2L188.8 139.2L188.7 138.5L188.6 138.5L188.5 137.9L188.5 137.9L188.4 137.2L188.4 137.2L188.3 136.5L188.3 136.5L188.3 135.8L188.3 135.8L188.3 135.2L188.3 135.2L188.4 134.5L188.4 134.5L188.5 133.8L188.6 133.8L188.7 133.2L188.7 133.2L188.9 132.5L188.9 132.6L189.1 131.9L189.1 131.9L189.3 131.3L189.4 131.3L189.6 130.7L189.6 130.7L189.9 130.1L189.9 130.1L190.2 129.5L190.2 129.5L190.5 129L190.6 129L190.9 128.4L190.9 128.5L191.3 127.9L191.3 127.9L191.7 127.4L191.8 127.4L192.2 127L192.2 126.9L192.6 126.5L192.6 126.5L193.1 126L193.1 126L193.6 125.6L193.6 125.6L194.2 125.3L194.2 125.3L194.7 124.9L194.7 125L195.3 124.6L195.3 124.7L195.9 124.4L195.9 124.5L196.5 124.2L196.6 124.3L197.2 124.1L197.2 124.1L197.8 123.9L197.8 124.1L198.4 123.9L198.5 124.2L199.1 124.1L199.1 124.2L199.7 124.1L199.7 124.2L200.3 124.2L200.3 124.1L200.9 124.1Z" fill="#0029ff"/>
<path d="M201 128.6L201.4 128.6L201.4 128.6L201.7 128.6L201.7 128.6L202.1 128.6L202.1 128.6L202.5 128.7L202.5 128.7L202.8 128.8L202.8 128.8L203.2 128.9L203.1 129L203.5 129.1L203.4 129.2L203.8 129.3L203.7 129.4L204.1 129.5L204 129.6L204.3 129.7L204.3 129.8L204.6 130L204.5 130.1L204.8 130.3L204.8 130.3L205 130.5L205 130.6L205.2 130.8L205.2 130.9L205.4 131.1L205.4 131.1L205.6 131.3L205.6 131.4L205.8 131.6L205.7 131.6L205.9 131.9L205.9 131.9L206.1 132.1L206.1 132.1L206.3 132.4L206.3 132.4L206.4 132.7L206.4 132.7L206.6 132.9L206.6 132.9L206.7 133.2L206.7 133.2L206.9 133.5L206.9 133.5L207 133.8L207 133.8L207.1 134.1L207.1 134.1L207.2 134.4L207.2 134.4L207.3 134.7L207.3 134.7L207.3 135L207.3 135L207.4 135.3L207.4 135.3L207.4 135.7L207.4 135.7L207.4 136L207.4 136L207.4 136.3L207.4 136.3L207.3 136.6L207.3 136.6L207.2 136.9L207.2 136.9L207.1 137.2L207.1 137.2L207 137.5L206.9 137.5L206.8 137.8L206.7 137.8L206.6 138.1L206.6 138.1L206.4 138.3L206.4 138.3L206.2 138.6L206.2 138.6L206 138.8L206 138.8L205.8 139L205.8 139L205.6 139.3L205.6 139.3L205.4 139.5L205.4 139.5L205.2 139.7L205.2 139.7L204.9 139.9L204.9 139.9L204.7 140.1L204.7 140.1L204.5 140.3L204.5 140.3L204.2 140.4L204.2 140.5L204 140.6L204 140.7L203.7 140.8L203.7 140.8L203.5 141L203.5 141L203.2 141.1L203.2 141.2L202.9 141.3L202.9 141.4L202.6 141.4L202.6 141.5L202.3 141.6L202.3 141.7L202 141.7L202 141.8L201.7 141.8L201.7 141.9L201.4 141.9L201.4 142L201 142L201 142.1L200.7 142.1L200.7 142.1L200.3 142.1L200.3 142.1L200 142.1L200 142.1L199.6 142L199.6 142.1L199.3 142L199.3 142L198.9 141.9L198.9 142L198.6 141.9L198.5 141.9L198.2 141.8L198.2 141.8L197.9 141.6L197.9 141.7L197.5 141.5L197.5 141.5L197.2 141.3L197.2 141.3L196.9 141.1L196.9 141.1L196.6 140.9L196.6 140.9L196.3 140.6L196.3 140.7L196 140.4L196 140.4L195.8 140.1L195.7 140.2L195.5 139.9L195.5 139.9L195.3 139.6L195.2 139.6L195 139.3L195 139.3L194.8 139L194.8 139L194.6 138.6L194.6 138.6L194.4 138.3L194.4 138.3L194.3 137.9L194.3 137.9L194.2 137.6L194.2 137.6L194.1 137.2L194 137.2L194 136.8L194 136.8L193.9 136.5L193.9 136.5L193.9 136.1L193.9 136.1L193.8 135.7L193.9 135.7L193.9 135.3L193.9 135.3L193.9 134.9L193.9 134.9L193.9 134.5L194 134.5L194 134.2L194.1 134.2L194.1 133.8L194.2 133.8L194.3 133.4L194.3 133.4L194.4 133.1L194.4 133.1L194.5 132.7L194.5 132.7L194.7 132.4L194.7 132.4L194.9 132.1L194.9 132.1L195.1 131.7L195.1 131.8L195.3 131.4L195.3 131.4L195.5 131.1L195.5 131.1L195.8 130.9L195.8 130.9L196 130.6L196 130.6L196.3 130.3L196.3 130.3L196.5 130L196.5 130L196.8 129.8L196.8 129.8L197.1 129.6L197.1 129.6L197.4 129.4L197.5 129.4L197.8 129.2L197.8 129.2L198.1 129L198.1 129L198.5 128.9L198.5 128.9L198.8 128.8L198.8 128.8L199.2 128.7L199.2 128.7L199.6 128.6L199.6 128.7L199.9 128.7L199.9 128.7L200.3 128.7L200.3 128.7L200.7 128.6L200.7 128.6L201 128.6Z" fill="#0000ff"/>
<path d="M201.3 130.5L202.4 90M201.6 130.5L204.7 90.4M201.9 130.5L207.1 91M202.1 130.6L209.3 91.6M202.4 130.6L211.5 92.5M202.6 130.7L213.6 93.7M202.9 130.8L215.6 95M203.1 130.9L217.3 96.5M203.4 131L219 98.2M203.6 131.1L220.5 99.9M203.8 131.2L222 101.6M204 131.4L223.3 103.4M204.2 131.5L224.5 105.2M204.4 131.7L225.6 107M204.6 131.9L226.6 108.7M204.8 132.1L227.8 110.3M205 132.3L228.9 111.8M205.2 132.5L229.9 113.5M205.3 132.7L231.1 115M205.5 132.9L232.2 116.5M205.6 133.1L233.5 118M205.7 133.3L235.1 119.3M205.8 133.6L236.7 120.8M205.9 133.8L238.3 122.4M206 134.1L240 124M206.1 134.3L241.6 125.8M206.1 134.6L243.5 127.7M206.2 134.8L245.3 129.7M206.2 135.1L247.6 131.8M206.2 135.4L250.9 134.2M206.2 135.6L254.2 136.9M206.2 135.9L257.9 140M206.2 136.2L261.4 143.4M206.1 136.4L264.8 147.3M206.1 136.7L268 151.5M206 136.9L270.8 156.1M205.9 137.2L272.4 160.7M205.8 137.4L272.9 165.2M205.7 137.7L273 169.8M205.6 137.9L271.7 173.8M205.5 138.1L269.6 177.4M205.3 138.3L266.9 180.7M205.2 138.5L263.8 183.6M205 138.7L260.2 185.8M204.8 138.9L256.1 187.6M204.6 139.1L251.7 188.7M204.4 139.3L247.2 189.4M204.2 139.5L242.8 189.7M204 139.6L238.6 189.9M203.8 139.8L234.7 190.2M203.6 139.9L231.4 191.1M203.4 140L228.7 193.1M203.1 140.1L226 195.5M202.9 140.2L223.3 197.9M202.6 140.3L220.7 201.3M202.4 140.4L217.8 204.8M202.1 140.4L214.8 208.7M201.9 140.5L211.3 212.1M201.6 140.5L207.5 215.3M201.3 140.5L203.4 218.3M201.1 140.5L199 221M200.8 140.5L194.3 223.1M200.5 140.5L189.5 224.7M200.3 140.4L184.4 226.2M200 140.4L179.1 227.6M199.8 140.3L173.6 228.8M199.5 140.2L167.8 229.7M199.3 140.1L162 230.1M199 140L156.2 229.9M198.8 139.9L150.7 228.5M198.6 139.8L145.4 226.6M198.4 139.6L140.3 224M198.2 139.5L135.6 221M198 139.3L131.1 217.6M197.8 139.1L126.9 213.8M197.6 138.9L122.9 209.8M197.4 138.7L119.2 205.6M197.2 138.5L115.7 201.1M197.1 138.3L112.5 196.5M196.9 138.1L109.5 191.7M196.8 137.9L106.8 186.7M196.7 137.7L104.5 181.6M196.6 137.4L103.3 176M196.5 137.2L102.5 170.5M196.4 136.9L101.7 165M196.3 136.7L101.1 159.5M196.3 136.4L100.7 154.1M196.2 136.2L100.6 148.7M196.2 135.9L100.4 143.4M196.2 135.6L100.5 138.1M196.2 135.4L101.2 132.9M196.2 135.1L101.6 127.7M196.2 134.8L102.3 122.5M196.3 134.6L103.2 117.3M196.3 134.3L104.4 112.2M196.4 134.1L105.2 107.1M196.5 133.8L106.2 101.9M196.6 133.6L107.6 96.7M196.7 133.3L109.4 91.7M196.8 133.1L111.5 86.8M196.9 132.9L114.1 82.1M197.1 132.7L117 77.7M197.2 132.5L120.4 73.5M197.4 132.3L124.1 69.6M197.6 132.1L128.2 66.2M197.8 131.9L132.5 63.1M198 131.7L137.2 60.5M198.2 131.5L142.4 58.9M198.4 131.4L148.4 58.6M198.6 131.2L154.2 58.8M198.8 131.1L160.3 60.1M199 131L166.3 62.4M199.3 130.9L171.9 64.8M199.5 130.8L177.5 68.5M199.8 130.7L182.4 71.9M200 130.6L187 76.3M200.3 130.6L191.2 81.5M200.5 130.5L194.6 85.6M200.8 130.5L197.5 88.3M201.1 130.5L200 89.1" fill="none" stroke="#000" stroke-opacity=".18" stroke-width=".3"/></g>
<circle cx="201.2" cy="135.5" r="104.5" fill="none" stroke="#a4a4a4" stroke-width=".9"/>
<circle cx="201.2" cy="135.5" r="5" fill="#fff"/>
<circle cx="434.2" cy="135.5" r="29.9" fill="none" stroke="#eeeeee" stroke-width="1"/>
<circle cx="434.2" cy="135.5" r="54.8" fill="none" stroke="#eeeeee" stroke-width="1"/>
<circle cx="434.2" cy="135.5" r="79.6" fill="none" stroke="#eeeeee" stroke-width="1"/>
<path d="M434.2 135.5L434.2 31M434.2 135.5L486.4 45M434.2 135.5L524.7 83.2M434.2 135.5L538.7 135.5M434.2 135.5L524.7 187.7M434.2 135.5L486.4 226M434.2 135.5L434.2 240M434.2 135.5L381.9 226M434.2 135.5L343.7 187.8M434.2 135.5L329.7 135.5M434.2 135.5L343.7 83.2M434.2 135.5L381.9 45" stroke="#eeeeee" stroke-width="1" fill="none"/>
<g stroke="#000" stroke-opacity=".2" stroke-width=".3" stroke-linejoin="bevel"><path d="M433.1 93.7L435.3 93.7L435.2 97.5L437.2 97.6L437.1 99.2L439 99.4L438.8 100.8L440.6 101.1L440.8 100.1L442.6 100.5L444.1 94.3L446.2 94.8L445.2 98.2L447.2 98.8L448.3 95.6L450.4 96.4L449.5 98.5L451.4 99.4L451.4 99.5L453.2 100.4L454.5 98.1L456.5 99.2L455.1 101.4L456.9 102.5L456.2 103.4L457.9 104.6L454.9 108.5L456.3 109.6L455.6 110.4L456.9 111.6L457.6 110.8L458.9 112.1L464.3 106.9L465.8 108.5L475 100.7L476.7 102.9L477.1 102.6L478.8 104.9L478.1 105.3L479.6 107.7L479.8 107.5L481.2 110L480.9 110.2L482.1 112.6L482.2 112.6L483.4 115.1L493.1 111.1L494.3 114.2L488 116.4L488.9 119.3L477.3 122.7L478 125L476 125.5L476.5 127.7L466.6 129.5L466.9 131.2L470.6 130.7L470.8 132.6L468.5 132.8L468.6 134.6L472.7 134.5L472.7 136.5L474.9 136.6L474.8 138.7L491.7 140L491.4 143L489.7 142.8L489.3 145.7L480.4 144.1L479.9 146.5L463.4 142.5L463 144L451.5 140.6L451.2 141.5L445.5 139.5L445.3 140.1L442.5 138.9L442.3 139.4L440.5 138.5L440.4 138.8L439 138.1L438.9 138.4L438.9 138.4L438.7 138.6L438.7 138.6L438.6 138.8L438.6 138.8L438.4 139.1L438.4 139.1L438.2 139.3L439.3 140.3L439 140.6L439.7 141.3L439.4 141.6L440.7 143.1L440.3 143.4L442.7 146.6L442.1 147L445.5 152L444.6 152.6L451.4 163.6L449.9 164.5L454.2 172.4L452.3 173.4L454.9 178.8L452.6 179.8L454.9 185.4L452.2 186.4L455.2 194.9L452.1 195.9L449.5 187.3L446.8 188L448.2 193.8L445.1 194.5L441.9 176.8L439.7 177.1L439.4 175.2L437.3 175.4L436.9 169.4L435.1 169.5L435 165.5L433.4 165.5L433.3 170.5L431.5 170.4L431.2 173.4L429.2 173.2L429 175.2L426.9 174.8L426.5 176.8L424.4 176.3L423.9 178.3L421.7 177.7L421.1 179.6L418.8 178.9L416.8 184.5L414.3 183.5L411.2 190.9L408.4 189.7L406.6 193.3L403.7 191.7L400.8 197L397.6 195.2L394.5 200.3L391.2 198.1L382.1 211.3L378.2 208.5L372.7 215.6L368.6 212.3L366 215.3L361.9 211.7L364.7 208.8L360.9 205L366 200.2L362.7 196.5L367.7 192.3L364.8 188.8L371.5 183.6L369.1 180.2L376.5 175.1L374.5 172.1L375.4 171.6L373.6 168.4L375.3 167.5L373.7 164.3L380 161.3L378.8 158.5L380.6 157.7L379.5 154.9L382.4 153.9L381.5 151.1L373.8 153.4L372.9 150.2L373.4 150.1L372.7 146.9L377.2 146.1L376.7 143.1L377.7 142.9L377.4 140L377.4 140L377.2 137L377.2 137L377.2 134L378.2 134L378.4 131.1L379.4 131.2L379.7 128.3L379.7 128.3L380.1 125.5L389 127.1L389.5 124.8L388.5 124.5L389.1 122.2L386.3 121.3L387.1 118.8L380.5 116.5L381.5 113.7L387.1 116L388.2 113.5L386.8 112.9L388.1 110.4L389.9 111.5L391.2 109.2L384.1 104.8L385.7 102.2L388 103.8L389.8 101.4L393.7 104.5L395.4 102.4L395.4 102.4L397.2 100.4L399 102.1L400.8 100.3L401.5 101L403.4 99.4L404.7 100.9L406.5 99.4L408.3 101.8L410.1 100.5L408.4 97.9L410.4 96.6L409.6 95.3L411.7 94.1L414 98.3L416 97.3L416.5 98.3L418.4 97.4L420 101.3L421.8 100.6L422.4 102.1L424.1 101.6L424.4 102.4L426.1 102L425.6 99.5L427.5 99.1L426.7 95.3L428.9 94.9L429.1 96.8L431.1 96.6L431.2 97.2L433.2 97.1Z" fill="#800000" stroke="none"/>
<path d="M433.1 93.7L435.3 93.7L435.2 97.5L437.2 97.6L437.1 99.2L438.9 99.4L438.8 100.8L440.6 101.1L440.8 100.1L442.6 100.5L444.1 94.3L446.2 94.9L445.2 98.2L447.2 98.8L448.3 95.6L450.4 96.4L449.5 98.6L451.4 99.4L451.4 99.5L453.2 100.4L454.5 98.1L456.5 99.2L455.1 101.4L456.8 102.5L456.2 103.5L457.9 104.6L454.9 108.5L456.3 109.7L455.6 110.4L456.9 111.6L457.6 110.8L458.9 112.1L464.3 106.9L465.8 108.6L474.9 100.7L476.7 102.9L477.1 102.6L478.8 104.9L478.1 105.3L479.6 107.7L479.8 107.6L481.2 110L480.8 110.2L482.1 112.6L482.2 112.6L483.3 115.1L493.1 111.1L494.3 114.2L488 116.4L488.9 119.3L477.3 122.7L478 125L476 125.5L476.5 127.7L466.6 129.5L466.9 131.2L470.6 130.7L470.8 132.6L468.5 132.8L468.6 134.6L472.7 134.5L472.7 136.5L474.9 136.6L474.8 138.7L491.7 140L491.4 143L489.7 142.8L489.3 145.7L480.4 144.1L479.9 146.5L463.4 142.5L463 144L451.5 140.6L451.2 141.5L445.5 139.5L445.3 140.1L442.5 138.9L442.3 139.4L440.5 138.5L440.4 138.8L439 138.1L438.9 138.4L438.9 138.4L438.7 138.6L438.7 138.6L438.6 138.8L438.6 138.8L438.4 139.1L438.4 139.1L438.2 139.3L439.3 140.3L439 140.6L439.7 141.3L439.4 141.6L440.7 143.1L440.3 143.4L442.7 146.6L442.1 147L445.5 152L444.6 152.5L451.4 163.6L449.9 164.5L454.2 172.4L452.3 173.4L454.9 178.8L452.6 179.8L454.9 185.4L452.2 186.4L455.2 194.8L452.1 195.8L449.5 187.2L446.8 188L448.2 193.6L445.1 194.3L441.8 176.8L439.7 177.1L439.4 175L437.3 175.2L436.8 169.2L435.1 169.3L435 165.3L433.4 165.3L433.3 170.2L431.5 170.1L431.2 173.1L429.3 172.9L429 175L426.9 174.6L426.6 176.7L424.4 176.2L424 178L421.8 177.4L421.2 179.5L418.9 178.8L416.9 184.4L414.3 183.5L411.3 190.8L408.4 189.5L406.8 192.9L403.9 191.4L401 196.6L397.9 194.8L394.6 200.1L391.3 197.9L382.4 210.8L378.5 208L373.1 215.2L369 211.9L366.3 215L362.2 211.4L364.8 208.7L361 204.9L366.1 200.1L362.8 196.5L367.8 192.2L364.9 188.6L371.6 183.5L369.2 180.2L376.6 175.1L374.6 172L375.6 171.4L373.8 168.3L375.4 167.4L373.8 164.3L380.1 161.3L378.8 158.4L380.7 157.7L379.6 154.8L382.4 153.8L381.5 151.1L373.9 153.4L373.1 150.2L373.5 150.1L372.8 146.9L377.2 146.1L376.7 143.1L377.7 142.9L377.4 140L377.4 140L377.2 137L377.2 137L377.2 134L378.3 134L378.4 131.1L379.4 131.2L379.7 128.3L379.7 128.3L380.1 125.5L389 127.1L389.5 124.8L388.5 124.5L389.2 122.2L386.3 121.3L387.1 118.8L380.5 116.5L381.6 113.7L387.1 116L388.2 113.5L386.8 112.9L388.1 110.5L389.9 111.5L391.3 109.2L384.1 104.8L385.8 102.2L388.1 103.8L389.8 101.4L393.8 104.5L395.4 102.4L395.4 102.4L397.2 100.4L399 102.1L400.8 100.3L401.5 101.1L403.4 99.4L404.7 100.9L406.5 99.4L408.3 101.8L410.1 100.5L408.4 97.9L410.4 96.6L409.6 95.4L411.7 94.1L414 98.3L416 97.3L416.5 98.3L418.4 97.5L420 101.3L421.9 100.6L422.4 102.1L424.1 101.6L424.4 102.4L426.1 102L425.6 99.5L427.5 99.1L426.7 95.3L428.9 95L429.1 96.8L431.1 96.6L431.2 97.2L433.2 97.1Z" fill="#a80000" stroke="none"/>
<path d="M433.1 93.7L435.3 93.7L435.2 97.5L437.2 97.6L437.1 99.2L438.9 99.4L438.8 100.8L440.6 101.1L440.8 100.1L442.6 100.5L444.1 94.3L446.2 94.9L445.2 98.2L447.2 98.9L448.3 95.6L450.4 96.4L449.5 98.6L451.4 99.4L451.4 99.5L453.2 100.5L454.5 98.1L456.4 99.2L455.1 101.4L456.8 102.6L456.2 103.5L457.9 104.7L454.9 108.5L456.3 109.7L455.6 110.4L456.9 111.6L457.6 110.8L458.9 112.1L464.3 106.9L465.8 108.6L474.9 100.7L476.7 102.9L477.1 102.6L478.8 104.9L478.1 105.3L479.6 107.7L479.8 107.6L481.2 110L480.8 110.2L482.1 112.7L482.2 112.6L483.3 115.1L493.1 111.1L494.3 114.2L488 116.4L488.9 119.3L477.3 122.7L478 125L476 125.5L476.5 127.7L466.6 129.5L466.9 131.2L470.6 130.7L470.8 132.6L468.5 132.8L468.6 134.6L472.7 134.5L472.7 136.5L474.9 136.6L474.8 138.7L491.7 140L491.4 143L489.7 142.8L489.3 145.7L480.4 144.1L479.9 146.5L463.4 142.5L463 144L451.5 140.6L451.2 141.5L445.5 139.5L445.3 140.1L442.5 138.9L442.3 139.4L440.5 138.5L440.4 138.8L439 138.1L438.9 138.4L438.9 138.4L438.7 138.6L438.7 138.6L438.6 138.8L438.6 138.8L438.4 139.1L438.4 139.1L438.2 139.3L439.3 140.3L439 140.6L439.7 141.3L439.4 141.6L440.7 143.1L440.3 143.4L442.7 146.6L442.1 147L445.5 152L444.6 152.5L451.4 163.6L449.9 164.5L454.2 172.4L452.3 173.4L454.8 178.8L452.6 179.8L454.8 185.3L452.2 186.4L455.2 194.8L452.1 195.8L449.5 187.2L446.8 187.9L448.1 193.5L445.1 194.1L441.8 176.7L439.7 177.1L439.4 174.9L437.3 175.2L436.8 169.1L435.1 169.1L435 165.2L433.4 165.2L433.3 170.1L431.5 170L431.3 172.9L429.3 172.7L429 174.9L427 174.6L426.6 176.6L424.4 176.1L424 177.8L421.8 177.3L421.2 179.5L418.9 178.7L416.9 184.4L414.4 183.4L411.3 190.7L408.5 189.5L406.9 192.7L403.9 191.2L401.2 196.3L398 194.5L394.7 199.9L391.4 197.8L382.6 210.6L378.8 207.8L373.3 214.9L369.2 211.6L366.4 214.8L362.4 211.2L364.8 208.6L361.1 204.9L366.1 200.1L362.9 196.4L367.9 192.1L365 188.6L371.7 183.5L369.2 180.2L376.6 175.1L374.6 172L375.7 171.3L373.9 168.2L375.5 167.4L373.9 164.3L380.1 161.3L378.8 158.4L380.7 157.7L379.6 154.8L382.4 153.8L381.5 151.1L374 153.3L373.1 150.2L373.6 150L372.9 146.9L377.2 146.1L376.7 143.1L377.8 142.9L377.5 140L377.4 140L377.3 137L377.3 137L377.3 134L378.3 134L378.4 131.1L379.4 131.2L379.7 128.3L379.7 128.3L380.1 125.5L389 127.1L389.5 124.8L388.5 124.5L389.2 122.2L386.3 121.3L387.1 118.8L380.5 116.5L381.6 113.7L387.1 116L388.2 113.6L386.8 112.9L388.1 110.5L390 111.5L391.3 109.2L384.1 104.8L385.8 102.2L388.1 103.8L389.8 101.4L393.8 104.5L395.4 102.4L395.5 102.4L397.3 100.4L399.1 102.1L400.8 100.4L401.5 101.1L403.4 99.4L404.7 100.9L406.5 99.4L408.3 101.8L410.1 100.5L408.4 97.9L410.4 96.7L409.6 95.4L411.8 94.2L414 98.3L416 97.3L416.5 98.3L418.4 97.5L420 101.3L421.9 100.6L422.4 102.1L424.1 101.6L424.4 102.4L426.2 102L425.6 99.5L427.5 99.1L426.8 95.3L428.9 95L429.1 96.9L431.1 96.6L431.2 97.2L433.2 97.1Z" fill="#d10000" stroke="none"/>
<path d="M433.1 93.8L435.3 93.8L435.2 97.5L437.2 97.6L437.1 99.2L438.9 99.4L438.8 100.8L440.6 101.1L440.8 100.1L442.6 100.5L444.1 94.3L446.2 94.9L445.2 98.2L447.2 98.9L448.3 95.7L450.4 96.5L449.5 98.6L451.4 99.4L451.4 99.5L453.2 100.5L454.5 98.1L456.4 99.2L455.1 101.4L456.8 102.6L456.2 103.5L457.9 104.7L454.9 108.6L456.3 109.7L455.6 110.4L456.9 111.6L457.6 110.8L458.9 112.1L464.3 106.9L465.7 108.6L474.9 100.7L476.7 102.9L477.1 102.6L478.7 104.9L478.1 105.4L479.6 107.7L479.8 107.6L481.2 110L480.8 110.2L482.1 112.7L482.2 112.6L483.3 115.1L493.1 111.1L494.3 114.2L488 116.5L488.9 119.3L477.3 122.7L477.9 125L476 125.5L476.5 127.7L466.6 129.5L466.9 131.2L470.6 130.7L470.8 132.6L468.5 132.8L468.6 134.6L472.7 134.5L472.7 136.5L474.9 136.6L474.8 138.7L491.7 140L491.4 143L489.7 142.8L489.3 145.7L480.4 144.1L479.9 146.5L463.4 142.5L463 144L451.5 140.6L451.2 141.5L445.5 139.5L445.3 140.1L442.5 138.9L442.3 139.4L440.5 138.5L440.4 138.8L439 138.1L438.9 138.4L438.9 138.4L438.7 138.6L438.7 138.6L438.6 138.8L438.6 138.8L438.4 139.1L438.4 139.1L438.2 139.3L439.3 140.3L439 140.6L439.7 141.3L439.4 141.6L440.7 143.1L440.3 143.4L442.7 146.6L442.1 147L445.5 152L444.6 152.5L451.4 163.6L449.9 164.5L454.2 172.4L452.3 173.4L454.8 178.8L452.5 179.8L454.8 185.3L452.2 186.3L455.2 194.7L452 195.7L449.5 187.2L446.8 187.9L448.1 193.3L445 193.9L441.8 176.7L439.7 177L439.4 174.8L437.3 175.1L436.8 168.9L435.1 169L435 165.1L433.4 165.1L433.3 169.9L431.5 169.8L431.3 172.7L429.3 172.5L429 174.8L427 174.4L426.6 176.5L424.5 176.1L424.1 177.7L421.9 177.1L421.2 179.4L418.9 178.7L416.9 184.3L414.4 183.4L411.4 190.7L408.5 189.4L407 192.5L404.1 191L401.3 196L398.2 194.2L394.8 199.7L391.5 197.6L382.9 210.1L379.1 207.4L373.6 214.5L369.5 211.2L366.7 214.5L362.7 210.9L364.9 208.5L361.2 204.8L366.2 200L362.9 196.4L368.1 192L365.2 188.4L371.7 183.4L369.3 180.1L376.6 175.1L374.6 172L375.9 171.2L374.1 168.1L375.6 167.3L374 164.2L380.2 161.3L378.9 158.4L380.8 157.6L379.7 154.8L382.5 153.8L381.6 151.1L374.1 153.3L373.3 150.1L373.7 150L373 146.8L377.3 146.1L376.8 143.1L377.9 142.9L377.6 140L377.5 140L377.3 137L377.3 137L377.3 134L378.3 134L378.5 131.1L379.5 131.2L379.8 128.3L379.7 128.3L380.2 125.5L389 127.1L389.5 124.8L388.6 124.6L389.2 122.2L386.4 121.3L387.2 118.8L380.6 116.5L381.6 113.7L387.1 116L388.2 113.6L386.9 112.9L388.1 110.5L390 111.5L391.3 109.2L384.1 104.8L385.8 102.2L388.1 103.8L389.8 101.4L393.8 104.5L395.5 102.4L395.5 102.5L397.3 100.5L399.1 102.2L400.9 100.4L401.6 101.1L403.4 99.5L404.7 101L406.6 99.5L408.3 101.8L410.1 100.5L408.4 98L410.4 96.7L409.6 95.4L411.8 94.2L414 98.3L416 97.3L416.5 98.4L418.5 97.5L420 101.3L421.9 100.6L422.4 102.2L424.2 101.6L424.4 102.5L426.2 102L425.6 99.6L427.5 99.2L426.8 95.3L428.9 95L429.1 96.9L431.1 96.7L431.2 97.2L433.2 97.1Z" fill="#f90000" stroke="none"/>
<path d="M433.1 93.8L435.3 93.8L435.2 97.6L437.2 97.7L437.1 99.3L438.9 99.5L438.8 100.8L440.6 101.1L440.7 100.2L442.6 100.6L444.1 94.3L446.2 94.9L445.2 98.3L447.2 98.9L448.3 95.7L450.4 96.5L449.5 98.6L451.4 99.5L451.3 99.6L453.2 100.5L454.5 98.1L456.4 99.3L455.1 101.5L456.8 102.6L456.2 103.5L457.8 104.7L454.9 108.6L456.2 109.7L455.6 110.5L456.9 111.6L457.6 110.8L458.9 112.1L464.3 107L465.7 108.6L474.9 100.8L476.6 102.9L477 102.6L478.7 104.9L478 105.4L479.5 107.7L479.7 107.6L481.1 110L480.8 110.2L482 112.7L482.2 112.6L483.3 115.2L493.1 111.1L494.3 114.2L488 116.5L488.9 119.3L477.3 122.7L477.9 125L476 125.5L476.4 127.7L466.6 129.5L466.9 131.2L470.6 130.7L470.8 132.6L468.5 132.8L468.6 134.6L472.7 134.5L472.7 136.5L474.9 136.6L474.8 138.7L491.7 140L491.4 143L489.7 142.8L489.3 145.7L480.4 144.1L479.9 146.5L463.4 142.5L463 144L451.5 140.6L451.2 141.5L445.5 139.5L445.3 140.1L442.5 138.9L442.3 139.4L440.5 138.5L440.3 138.8L439 138.1L438.9 138.4L438.9 138.4L438.7 138.6L438.7 138.6L438.6 138.8L438.6 138.8L438.4 139.1L438.4 139.1L438.2 139.3L439.3 140.3L439 140.6L439.7 141.3L439.4 141.6L440.7 143.1L440.3 143.4L442.7 146.6L442.1 147L445.5 152L444.6 152.5L451.4 163.6L449.9 164.5L454.2 172.4L452.3 173.3L454.8 178.7L452.5 179.8L454.8 185.3L452.2 186.3L455.1 194.5L452 195.6L449.5 187.1L446.8 187.8L448 193L445 193.6L441.8 176.6L439.7 177L439.4 174.7L437.3 174.9L436.8 168.7L435.1 168.7L435 164.9L433.4 164.9L433.3 169.6L431.5 169.6L431.3 172.5L429.4 172.3L429.1 174.6L427 174.3L426.6 176.4L424.5 176L424.1 177.4L422 176.8L421.2 179.3L418.9 178.6L416.9 184.2L414.4 183.3L411.4 190.6L408.5 189.3L407.2 192.1L404.3 190.6L401.6 195.6L398.5 193.8L395 199.5L391.7 197.3L383.3 209.6L379.5 206.8L374.1 213.9L370 210.6L367.1 214.1L363.1 210.5L365 208.4L361.3 204.7L366.3 199.9L363.1 196.3L368.3 191.8L365.5 188.3L371.8 183.3L369.4 180L376.7 175L374.7 171.9L376.2 171L374.4 168L375.8 167.2L374.2 164.1L380.2 161.2L378.9 158.4L380.8 157.6L379.7 154.8L382.5 153.8L381.6 151.1L374.3 153.2L373.5 150.1L373.9 150L373.2 146.8L377.3 146L376.8 143.1L378 142.9L377.7 139.9L377.5 140L377.4 137L377.3 137L377.3 134L378.4 134L378.6 131.1L379.6 131.2L379.9 128.3L379.8 128.3L380.2 125.5L389 127.1L389.5 124.8L388.7 124.6L389.3 122.2L386.4 121.4L387.2 118.9L380.7 116.5L381.7 113.8L387.1 116L388.2 113.6L386.9 112.9L388.1 110.5L390.1 111.6L391.4 109.3L384.2 104.8L385.8 102.3L388.1 103.8L389.8 101.5L393.8 104.5L395.5 102.4L395.6 102.5L397.4 100.5L399.1 102.2L400.9 100.4L401.6 101.2L403.5 99.5L404.8 101L406.6 99.6L408.4 101.8L410.2 100.5L408.4 98L410.4 96.7L409.7 95.5L411.8 94.3L414 98.4L416 97.4L416.5 98.4L418.5 97.5L420.1 101.4L421.9 100.7L422.4 102.2L424.2 101.6L424.4 102.5L426.2 102L425.6 99.6L427.5 99.2L426.8 95.4L428.9 95L429.1 96.9L431.1 96.7L431.2 97.3L433.2 97.2Z" fill="#ff2300" stroke="none"/>
<path d="M433.1 93.8L435.3 93.8L435.2 97.6L437.2 97.7L437 99.3L438.9 99.5L438.8 100.9L440.6 101.1L440.7 100.2L442.6 100.6L444.1 94.4L446.2 95L445.2 98.3L447.1 98.9L448.3 95.8L450.3 96.5L449.5 98.7L451.4 99.5L451.3 99.6L453.2 100.6L454.5 98.2L456.4 99.3L455 101.5L456.8 102.7L456.1 103.6L457.8 104.8L454.8 108.6L456.2 109.7L455.5 110.5L456.8 111.7L457.6 110.9L458.8 112.1L464.3 107L465.7 108.6L474.8 100.8L476.5 103L476.9 102.7L478.6 105L477.9 105.4L479.5 107.8L479.6 107.7L481 110.1L480.7 110.3L481.9 112.7L482.2 112.6L483.3 115.2L493.1 111.1L494.3 114.2L487.9 116.5L488.9 119.3L477.3 122.7L477.9 125L475.9 125.5L476.4 127.7L466.6 129.5L466.9 131.2L470.6 130.7L470.8 132.6L468.5 132.8L468.6 134.6L472.7 134.5L472.7 136.5L474.9 136.6L474.8 138.7L491.7 140L491.4 143L489.7 142.8L489.3 145.7L480.4 144.1L479.9 146.5L463.4 142.5L463 144L451.5 140.6L451.2 141.5L445.5 139.5L445.3 140.1L442.5 138.9L442.3 139.4L440.5 138.5L440.3 138.8L439 138.1L438.9 138.4L438.9 138.4L438.7 138.6L438.7 138.6L438.6 138.8L438.6 138.8L438.4 139.1L438.4 139.1L438.2 139.3L439.3 140.3L439 140.6L439.7 141.3L439.4 141.6L440.7 143.1L440.3 143.4L442.7 146.6L442.1 147L445.5 151.9L444.6 152.5L451.4 163.6L449.9 164.4L454.2 172.3L452.2 173.3L454.8 178.7L452.5 179.7L454.8 185.2L452.2 186.2L455 194.4L451.9 195.4L449.5 187L446.7 187.7L447.9 192.5L444.9 193.2L441.8 176.6L439.7 176.9L439.3 174.5L437.3 174.7L436.8 168.3L435.1 168.4L435 164.7L433.4 164.7L433.3 169.3L431.5 169.2L431.3 172.1L429.4 171.9L429.1 174.4L427.1 174.1L426.6 176.3L424.5 175.8L424.2 177.1L422.1 176.5L421.2 179.2L419 178.5L417 184.1L414.5 183.2L411.5 190.4L408.6 189.1L407.4 191.7L404.5 190.2L401.9 195L398.9 193.2L395.2 199.1L391.9 197L383.9 208.8L380.1 206L374.7 213.1L370.7 209.8L367.6 213.5L363.6 209.9L365.2 208.2L361.5 204.5L366.5 199.8L363.2 196.1L368.6 191.5L365.8 188L372 183.2L369.6 179.9L376.8 174.9L374.8 171.9L376.6 170.8L374.9 167.7L376 167.1L374.4 164L380.3 161.2L379 158.4L380.9 157.6L379.9 154.7L382.6 153.8L381.7 151.1L374.6 153.1L373.8 150L374.2 149.9L373.5 146.8L377.4 146L376.9 143L378.2 142.9L377.9 139.9L377.6 140L377.5 137L377.4 137L377.4 134L378.6 134L378.8 131.1L379.7 131.2L380 128.4L379.8 128.3L380.3 125.5L389.1 127.1L389.6 124.8L388.8 124.6L389.4 122.2L386.6 121.4L387.4 118.9L380.8 116.6L381.9 113.8L387.2 116L388.3 113.6L386.9 113L388.2 110.5L390.2 111.6L391.5 109.4L384.3 104.9L385.9 102.3L388.2 103.9L389.9 101.5L393.9 104.6L395.5 102.5L395.7 102.6L397.5 100.7L399.2 102.3L401 100.5L401.7 101.3L403.6 99.6L404.9 101.2L406.7 99.7L408.4 101.9L410.2 100.5L408.5 98.1L410.5 96.8L409.7 95.6L411.9 94.4L414.1 98.4L416 97.4L416.6 98.5L418.5 97.6L420.1 101.4L421.9 100.7L422.4 102.2L424.2 101.6L424.4 102.6L426.2 102.1L425.6 99.7L427.5 99.3L426.8 95.4L428.9 95.1L429.1 97L431.2 96.8L431.2 97.3L433.2 97.2Z" fill="#ff4b00" stroke="none"/>
<path d="M433.1 93.9L435.3 93.9L435.2 97.7L437.2 97.8L437 99.4L438.9 99.6L438.8 100.9L440.6 101.2L440.7 100.3L442.6 100.7L444 94.5L446.2 95.1L445.2 98.4L447.1 99L448.2 95.8L450.3 96.6L449.4 98.8L451.3 99.6L451.3 99.7L453.1 100.6L454.4 98.3L456.3 99.4L455 101.6L456.7 102.7L456.1 103.6L457.7 104.8L454.8 108.7L456.2 109.8L455.5 110.6L456.8 111.7L457.6 110.9L458.8 112.1L464.2 107L465.7 108.6L474.7 100.9L476.4 103.1L476.8 102.8L478.5 105.1L477.8 105.5L479.3 107.8L479.5 107.7L480.9 110.1L480.6 110.3L481.8 112.8L482.2 112.6L483.3 115.2L493 111.1L494.2 114.2L487.9 116.5L488.8 119.3L477.3 122.7L477.9 125L475.9 125.5L476.4 127.7L466.6 129.5L466.9 131.2L470.5 130.7L470.7 132.6L468.5 132.8L468.6 134.6L472.7 134.5L472.7 136.5L474.9 136.6L474.8 138.7L491.7 140L491.4 143L489.7 142.8L489.2 145.7L480.4 144.1L479.9 146.5L463.4 142.5L463 144L451.5 140.6L451.2 141.5L445.5 139.5L445.3 140.1L442.5 138.9L442.3 139.4L440.5 138.5L440.3 138.8L439 138.1L438.9 138.4L438.9 138.4L438.7 138.6L438.7 138.6L438.6 138.8L438.6 138.8L438.4 139.1L438.4 139.1L438.2 139.3L439.3 140.3L439 140.6L439.7 141.3L439.4 141.6L440.7 143.1L440.3 143.4L442.7 146.6L442.1 147L445.5 151.9L444.6 152.5L451.4 163.5L449.9 164.4L454.2 172.3L452.2 173.3L454.8 178.6L452.5 179.6L454.7 185.1L452.1 186.1L455 194.1L451.9 195.1L449.4 186.9L446.7 187.6L447.8 192L444.8 192.6L441.8 176.5L439.6 176.8L439.3 174.2L437.3 174.4L436.8 167.9L435.1 168L435 164.4L433.4 164.4L433.3 168.9L431.6 168.8L431.4 171.6L429.5 171.5L429.1 174.1L427.1 173.8L426.7 176.1L424.6 175.6L424.3 176.7L422.2 176.1L421.3 179.1L419 178.4L417 184L414.5 183.1L411.5 190.2L408.7 189L407.7 191.1L404.8 189.6L402.3 194.2L399.3 192.4L395.5 198.7L392.2 196.6L384.6 207.7L380.9 205L375.6 211.9L371.7 208.7L368.3 212.6L364.4 209.1L365.5 207.9L361.8 204.2L366.7 199.5L363.4 195.9L369.1 191.1L366.3 187.6L372.2 183L369.8 179.7L377 174.8L375 171.8L377.2 170.4L375.5 167.4L376.4 166.9L374.8 163.8L380.4 161.1L379.2 158.3L381.1 157.5L380 154.7L382.7 153.7L381.8 151L375.1 153L374.2 149.9L374.6 149.8L373.9 146.7L377.5 146L377.1 143L378.5 142.8L378.2 139.9L377.8 139.9L377.6 137L377.5 137L377.5 134L378.9 134.1L379 131.2L380 131.2L380.3 128.4L379.9 128.4L380.4 125.5L389.1 127.1L389.6 124.8L389 124.6L389.6 122.3L386.8 121.5L387.6 119L381.1 116.7L382.1 113.9L387.2 116L388.3 113.6L387 113L388.3 110.6L390.5 111.7L391.8 109.5L384.4 105L386.1 102.4L388.2 103.9L390 101.5L394 104.6L395.6 102.6L395.9 102.8L397.7 100.8L399.4 102.4L401.1 100.7L401.9 101.5L403.7 99.8L405 101.3L406.8 99.8L408.4 101.9L410.2 100.6L408.6 98.2L410.6 96.9L409.8 95.7L412 94.5L414.1 98.4L416 97.4L416.6 98.6L418.6 97.8L420.1 101.4L421.9 100.7L422.4 102.2L424.2 101.7L424.5 102.7L426.2 102.2L425.6 99.8L427.5 99.4L426.8 95.5L428.9 95.2L429.1 97.1L431.2 96.9L431.2 97.3L433.2 97.2Z" fill="#ff7400" stroke-opacity=".08"/>
<path d="M433.1 94.1L435.3 94.1L435.2 97.8L437.2 97.9L437 99.5L438.9 99.7L438.7 101L440.5 101.2L440.7 100.4L442.5 100.8L444 94.6L446.1 95.2L445.2 98.5L447.1 99.2L448.2 96L450.2 96.8L449.4 98.9L451.3 99.7L451.2 99.8L453.1 100.8L454.3 98.4L456.2 99.5L454.9 101.7L456.6 102.9L456 103.8L457.6 105L454.7 108.7L456.1 109.9L455.4 110.7L456.7 111.8L457.5 110.9L458.8 112.2L464.2 107L465.7 108.6L474.5 101.1L476.2 103.2L476.6 102.9L478.3 105.2L477.6 105.6L479.1 108L479.3 107.9L480.7 110.3L480.4 110.4L481.6 112.9L482.1 112.6L483.2 115.2L493 111.2L494.1 114.3L487.8 116.5L488.7 119.4L477.3 122.7L477.9 125L475.8 125.5L476.3 127.7L466.6 129.5L466.9 131.2L470.5 130.7L470.7 132.6L468.5 132.8L468.5 134.6L472.7 134.5L472.7 136.5L474.9 136.6L474.8 138.7L491.7 140L491.3 143L489.7 142.8L489.2 145.7L480.4 144.1L479.9 146.5L463.4 142.5L462.9 144L451.5 140.6L451.2 141.5L445.5 139.5L445.3 140.1L442.5 138.9L442.3 139.4L440.5 138.5L440.3 138.8L439 138.1L438.9 138.4L438.9 138.4L438.7 138.6L438.7 138.6L438.6 138.8L438.6 138.8L438.4 139.1L438.4 139.1L438.2 139.3L439.3 140.3L439 140.6L439.7 141.3L439.4 141.5L440.7 143.1L440.3 143.4L442.7 146.5L442.1 147L445.5 151.9L444.6 152.5L451.3 163.5L449.9 164.3L454.1 172.2L452.2 173.2L454.7 178.5L452.4 179.5L454.7 184.9L452.1 185.9L454.8 193.7L451.7 194.7L449.4 186.7L446.7 187.4L447.6 191.2L444.6 191.8L441.8 176.3L439.6 176.7L439.2 173.9L437.2 174.1L436.7 167.4L435 167.5L434.9 164L433.5 164L433.3 168.4L431.6 168.3L431.4 171.1L429.5 170.9L429.2 173.8L427.2 173.5L426.7 175.9L424.6 175.4L424.4 176.2L422.3 175.6L421.3 178.9L419.1 178.2L417.1 183.9L414.6 182.9L411.6 190L408.8 188.7L408 190.4L405.2 188.9L402.9 193.2L399.9 191.4L395.8 198.1L392.6 196L385.9 205.8L382.3 203.2L377.2 209.8L373.4 206.7L369.7 211L365.9 207.5L365.8 207.6L362.1 203.9L367 199.3L363.7 195.7L369.7 190.6L366.9 187.1L372.5 182.8L370.2 179.5L377.2 174.7L375.2 171.7L378 169.9L376.3 166.9L376.8 166.7L375.2 163.6L380.6 161.1L379.3 158.2L381.3 157.4L380.2 154.6L382.9 153.7L382 151L375.7 152.8L374.8 149.8L375.1 149.7L374.5 146.6L377.7 146L377.3 143L379 142.8L378.7 139.9L378 139.9L377.9 137L377.7 137L377.7 134L379.2 134.1L379.4 131.2L380.3 131.3L380.6 128.4L380.1 128.4L380.5 125.5L389.2 127.2L389.7 124.8L389.3 124.7L389.9 122.4L387.1 121.6L387.9 119.1L381.4 116.8L382.5 114.1L387.3 116.1L388.4 113.7L387.2 113.1L388.4 110.6L390.8 111.9L392.1 109.7L384.6 105.1L386.2 102.5L388.3 104L390.1 101.6L394.1 104.7L395.8 102.7L396.2 103.1L398 101.1L399.6 102.6L401.3 100.9L402.1 101.7L404 100.1L405.2 101.6L407 100.1L408.5 102L410.3 100.7L408.7 98.4L410.7 97.1L410 96L412.1 94.8L414.1 98.5L416.1 97.5L416.7 98.8L418.6 98L420.1 101.5L421.9 100.8L422.4 102.3L424.2 101.7L424.5 102.8L426.2 102.4L425.7 99.9L427.5 99.5L426.8 95.7L428.9 95.4L429.2 97.2L431.2 97L431.2 97.4L433.2 97.3Z" fill="#ff9c00" stroke-opacity=".08"/>
<path d="M433.1 94.3L435.3 94.3L435.2 98L437.1 98.1L437 99.7L438.9 99.9L438.7 101L440.5 101.3L440.7 100.6L442.5 101L444 94.8L446.1 95.4L445.1 98.7L447 99.3L448.1 96.2L450.2 97L449.3 99.1L451.2 99.9L451.1 100L453 101L454.2 98.6L456.1 99.7L454.8 101.9L456.5 103.1L455.9 104L457.5 105.1L454.6 108.9L456 110L455.3 110.8L456.5 112L457.5 110.9L458.8 112.2L464.2 107.1L465.6 108.7L474.2 101.3L476 103.4L476.4 103.1L478 105.4L477.4 105.8L478.9 108.1L479 108L480.4 110.4L480.1 110.6L481.3 113L482 112.7L483.2 115.2L492.8 111.2L494 114.3L487.6 116.6L488.5 119.4L477.2 122.8L477.8 125L475.7 125.5L476.1 127.7L466.5 129.5L466.8 131.2L470.5 130.7L470.7 132.6L468.4 132.8L468.5 134.6L472.7 134.5L472.7 136.5L474.9 136.6L474.7 138.7L491.6 140L491.3 143L489.7 142.8L489.2 145.7L480.3 144.1L479.8 146.5L463.3 142.5L462.9 144L451.4 140.6L451.2 141.5L445.5 139.5L445.3 140.1L442.5 138.9L442.3 139.4L440.5 138.5L440.3 138.8L439 138.1L438.9 138.4L438.9 138.4L438.7 138.6L438.7 138.6L438.6 138.8L438.5 138.8L438.4 139.1L438.4 139.1L438.2 139.3L439.2 140.3L439 140.5L439.7 141.2L439.3 141.5L440.6 143.1L440.2 143.4L442.6 146.5L442.1 146.9L445.4 151.9L444.6 152.4L451.3 163.4L449.8 164.3L454.1 172.1L452.1 173.1L454.6 178.3L452.4 179.3L454.6 184.7L452 185.7L454.7 193.3L451.6 194.3L449.3 186.5L446.6 187.2L447.3 190.2L444.5 190.8L441.7 176.2L439.6 176.5L439.2 173.4L437.2 173.6L436.7 166.8L435 166.9L434.9 163.6L433.5 163.6L433.4 167.7L431.7 167.7L431.5 170.4L429.6 170.2L429.2 173.4L427.2 173.1L426.8 175.6L424.7 175.1L424.6 175.5L422.5 175L421.4 178.8L419.1 178L417.1 183.7L414.6 182.7L411.7 189.7L408.9 188.5L408.5 189.4L405.7 188L403.8 191.5L400.9 189.8L396.3 197.4L393.1 195.3L387.5 203.5L384 200.9L379.1 207.3L375.4 204.3L371.9 208.4L368.2 205L366.2 207.1L362.6 203.5L367.4 198.9L364.1 195.3L370.4 190L367.7 186.5L372.9 182.5L370.6 179.2L377.4 174.5L375.4 171.5L379.1 169.3L377.4 166.3L377.4 166.4L375.8 163.3L380.8 161L379.6 158.1L381.6 157.3L380.5 154.5L383.1 153.6L382.2 150.9L376.5 152.6L375.6 149.6L375.9 149.5L375.2 146.4L378 145.9L377.5 143L379.6 142.7L379.3 139.8L378.3 139.9L378.2 137L377.9 137L377.9 134L379.8 134.1L379.9 131.2L380.9 131.3L381.2 128.5L380.3 128.4L380.7 125.6L389.3 127.2L389.8 124.8L389.8 124.8L390.4 122.5L387.6 121.7L388.4 119.3L382 117L383 114.3L387.5 116.1L388.5 113.7L387.4 113.2L388.6 110.8L391.3 112.2L392.6 110L384.9 105.3L386.5 102.7L388.5 104.1L390.2 101.8L394.3 104.9L396 102.8L396.6 103.4L398.4 101.5L399.9 102.9L401.6 101.2L402.5 102.1L404.3 100.5L405.5 101.9L407.3 100.5L408.5 102.1L410.3 100.8L408.8 98.6L410.8 97.3L410.2 96.3L412.3 95.1L414.2 98.6L416.1 97.6L416.8 99.1L418.8 98.2L420.1 101.6L421.9 100.9L422.5 102.4L424.2 101.8L424.6 103L426.3 102.6L425.7 100.1L427.6 99.7L426.9 95.9L428.9 95.6L429.2 97.4L431.2 97.2L431.2 97.5L433.2 97.4Z" fill="#ffc500" stroke-opacity=".08"/>
<path d="M433.1 94.6L435.3 94.6L435.2 98.2L437.1 98.3L437 100L438.9 100.2L438.7 101.2L440.5 101.5L440.6 100.8L442.4 101.2L443.9 95.1L446 95.7L445 99L446.9 99.6L448 96.5L450 97.3L449.2 99.4L451 100.2L451 100.3L452.8 101.2L454.1 98.9L455.9 100L454.6 102.2L456.3 103.3L455.7 104.2L457.3 105.4L454.5 109L455.9 110.1L455.1 111.1L456.3 112.2L457.5 111L458.7 112.2L464.1 107.2L465.5 108.8L473.9 101.6L475.6 103.7L476 103.4L477.6 105.7L477 106.1L478.4 108.4L478.6 108.3L480 110.6L479.7 110.8L480.9 113.2L482 112.7L483.1 115.3L492.7 111.3L493.9 114.4L487.4 116.7L488.3 119.5L477.1 122.8L477.7 125L475.5 125.6L476 127.8L466.5 129.5L466.7 131.2L470.4 130.7L470.6 132.6L468.4 132.8L468.5 134.6L472.7 134.5L472.7 136.5L474.8 136.6L474.7 138.7L491.5 140L491.2 143L489.6 142.8L489.2 145.7L480.3 144L479.8 146.4L463.3 142.5L462.9 144L451.4 140.6L451.1 141.5L445.5 139.5L445.2 140.1L442.5 138.9L442.3 139.4L440.5 138.5L440.3 138.8L439 138.1L438.9 138.4L438.9 138.4L438.7 138.6L438.7 138.6L438.5 138.8L438.5 138.8L438.4 139L438.3 139L438.2 139.3L439.2 140.3L439 140.5L439.6 141.2L439.3 141.5L440.6 143L440.2 143.4L442.6 146.5L442 146.9L445.4 151.8L444.5 152.4L451.2 163.3L449.8 164.2L454 171.9L452 172.9L454.5 178.1L452.3 179.1L454.5 184.5L451.9 185.5L454.4 192.7L451.4 193.7L449.2 186.2L446.5 186.9L447 188.8L444.2 189.4L441.7 176L439.6 176.3L439.1 172.9L437.2 173.1L436.6 166L435 166.1L434.9 163L433.5 163L433.4 167L431.7 166.9L431.5 169.6L429.7 169.4L429.3 172.9L427.3 172.6L426.8 175.3L424.8 174.8L424.8 174.8L422.7 174.3L421.5 178.5L419.2 177.8L417.2 183.4L414.7 182.5L411.9 189.4L409.1 188.1L409.4 187.6L406.7 186.2L404.9 189.4L402.1 187.8L397.5 195.4L394.4 193.4L389.4 200.7L386 198.3L381.4 204.3L377.9 201.4L374.6 205.3L371 202.1L366.7 206.6L363.1 203L367.8 198.5L364.6 195L372.7 188L370 184.7L373.4 182.1L371.1 178.9L377.7 174.3L375.8 171.3L380.8 168.2L379.1 165.4L378.1 166L376.6 163L381.1 160.8L379.8 158L382 157.1L380.9 154.4L383.4 153.5L382.5 150.8L377.5 152.3L376.7 149.3L376.9 149.3L376.2 146.2L378.3 145.9L377.9 142.9L380.5 142.6L380.2 139.8L378.8 139.9L378.6 137L378.2 137L378.2 134L380.6 134.1L380.7 131.3L381.6 131.4L381.9 128.6L380.6 128.4L381 125.6L389.5 127.2L390 124.9L390.4 125L391 122.7L388.3 121.9L389.1 119.5L382.8 117.3L383.8 114.6L387.7 116.2L388.7 113.8L387.7 113.3L388.9 110.9L392 112.6L393.2 110.4L385.3 105.5L386.9 103L388.7 104.3L390.4 101.9L394.6 105.1L396.2 103.1L397.2 103.9L398.9 102L400.3 103.3L402 101.6L403 102.6L404.7 101L405.9 102.4L407.7 101L408.6 102.2L410.4 100.9L409.1 98.9L411 97.7L410.5 96.8L412.6 95.6L414.2 98.7L416.2 97.8L417 99.5L418.9 98.6L420.2 101.7L422 101L422.5 102.6L424.3 102L424.7 103.3L426.4 102.9L425.8 100.5L427.6 100.1L426.9 96.3L429 95.9L429.2 97.7L431.2 97.5L431.2 97.7L433.2 97.6Z" fill="#ffee00"/>
<path d="M433.1 95.1L435.3 95.1L435.2 98.6L437.1 98.7L437 100.3L438.8 100.5L438.7 101.4L440.5 101.6L440.6 101.2L442.3 101.6L443.8 95.6L445.9 96.1L444.9 99.4L446.8 100L447.9 96.9L449.9 97.7L449 99.8L450.8 100.6L450.8 100.7L452.6 101.6L453.8 99.4L455.7 100.4L454.3 102.6L456 103.7L455.4 104.6L457 105.8L454.3 109.3L455.7 110.4L454.8 111.4L456 112.5L457.4 111L458.7 112.3L464 107.3L465.4 108.8L473.4 102.1L475.1 104.2L475.4 103.9L477 106.1L476.4 106.5L477.9 108.7L478.1 108.6L479.4 110.9L479.1 111.1L480.4 113.5L481.8 112.8L483 115.3L492.5 111.4L493.7 114.4L487.1 116.8L488 119.6L477 122.8L477.6 125.1L475.2 125.7L475.7 127.8L466.4 129.5L466.6 131.2L470.2 130.8L470.4 132.6L468.3 132.8L468.4 134.6L472.6 134.5L472.6 136.5L474.8 136.6L474.7 138.7L491.4 140L491 143L489.6 142.8L489.1 145.7L480.2 144L479.7 146.4L463.3 142.5L462.9 144L451.4 140.6L451.1 141.5L445.4 139.5L445.2 140.1L442.5 138.9L442.3 139.3L440.5 138.5L440.3 138.8L439 138.1L438.9 138.4L438.9 138.4L438.7 138.6L438.7 138.6L438.5 138.8L438.5 138.8L438.3 139L438.3 139L438.1 139.2L439.2 140.2L438.9 140.5L439.6 141.2L439.3 141.5L440.6 143L440.2 143.3L442.6 146.4L442 146.8L445.3 151.7L444.5 152.3L451.2 163.2L449.7 164L453.9 171.7L452 172.7L454.4 177.9L452.2 178.9L454.4 184.2L451.8 185.1L454.2 191.9L451.2 192.9L449.1 185.9L446.5 186.6L446.5 186.9L443.8 187.5L441.7 175.7L439.5 176.1L439 172.2L437.1 172.4L436.5 165.1L435 165.2L434.9 162.4L433.5 162.4L433.4 166.1L431.8 166L431.6 168.6L429.9 168.4L429.3 172.3L427.4 172L426.9 174.9L424.9 174.4L425 173.7L423 173.2L421.5 178.3L419.3 177.5L417.3 183.2L414.8 182.2L412 189L409.3 187.8L410.4 185.5L407.8 184.1L406.2 187.1L403.5 185.6L399.2 192.6L396.2 190.7L391.5 197.6L388.4 195.2L384.1 200.8L380.7 198.1L377.6 201.7L374.3 198.7L369.7 203.5L366.2 200L369 197.4L365.8 193.9L375.6 185.6L373 182.4L374 181.7L371.7 178.5L378.1 174.1L376.1 171.1L382.9 167L381.3 164.2L379.5 165.2L378 162.3L381.4 160.7L380.2 157.9L382.4 157L381.4 154.2L383.7 153.4L382.8 150.7L379.1 151.8L378.3 148.9L378.3 148.9L377.7 146L378.8 145.8L378.3 142.9L381.6 142.4L381.3 139.7L379.4 139.8L379.2 136.9L378.7 137L378.7 134L381.6 134.1L381.7 131.4L382.6 131.4L382.9 128.7L381 128.5L381.5 125.7L389.7 127.3L390.2 124.9L391.3 125.2L391.9 123L389.3 122.2L390 119.9L383.8 117.7L384.8 115.1L387.9 116.3L389 113.9L388.1 113.5L389.3 111.1L392.9 113.1L394.2 111L385.8 105.9L387.4 103.4L389.1 104.5L390.7 102.2L394.9 105.4L396.6 103.4L398 104.6L399.7 102.8L400.8 103.8L402.5 102.1L403.6 103.3L405.3 101.7L406.5 103.1L408.2 101.7L408.8 102.4L410.6 101.1L409.4 99.4L411.3 98.1L410.9 97.5L412.9 96.3L414.3 98.9L416.3 97.9L417.3 100L419.2 99.2L420.3 101.9L422.1 101.2L422.6 102.8L424.3 102.2L424.8 103.8L426.5 103.3L425.9 100.9L427.7 100.5L427 96.7L429.1 96.4L429.3 98.2L431.2 98L431.2 98L433.2 97.9Z" fill="#e8ff17"/>
<path d="M433.2 95.7L435.2 95.7L435.2 99L437.1 99.1L436.9 100.9L438.7 101.1L438.7 101.6L440.4 101.9L440.5 101.7L442.2 102.1L443.6 96.1L445.7 96.7L444.7 99.9L446.6 100.5L447.7 97.5L449.6 98.2L448.8 100.3L450.6 101.1L450.5 101.3L452.3 102.2L453.5 99.9L455.3 101L454 103.2L455.7 104.2L455.1 105.1L456.6 106.3L454 109.6L455.4 110.7L454.4 111.8L455.6 112.9L457.3 111.1L458.6 112.4L463.8 107.4L465.3 109L472.7 102.6L474.3 104.7L474.7 104.4L476.3 106.6L475.7 107L477.1 109.2L477.3 109.1L478.7 111.4L478.4 111.5L479.6 113.8L481.7 112.9L482.8 115.4L492.2 111.5L493.3 114.6L486.7 116.9L487.6 119.7L476.9 122.9L477.5 125.1L474.8 125.7L475.3 127.9L466.2 129.6L466.5 131.2L470 130.8L470.2 132.7L468.1 132.8L468.2 134.6L472.6 134.5L472.6 136.5L474.7 136.6L474.6 138.7L491.1 140L490.8 142.9L489.5 142.8L489 145.7L480.1 144L479.6 146.4L463.2 142.5L462.8 144L451.4 140.6L451.1 141.5L445.4 139.5L445.2 140L442.4 138.9L442.2 139.3L440.5 138.5L440.3 138.8L439 138.1L438.8 138.3L438.8 138.3L438.7 138.6L438.7 138.6L438.5 138.8L438.5 138.8L438.3 139L438.3 139L438.1 139.2L439.2 140.2L438.9 140.5L439.5 141.1L439.2 141.4L440.6 142.9L440.2 143.3L442.5 146.3L441.9 146.7L445.3 151.6L444.4 152.2L451.1 163L449.6 163.8L453.7 171.5L451.8 172.5L454.3 177.6L452 178.6L454.2 183.8L451.6 184.7L453.6 190.2L450.7 191.2L449 185.4L446.4 186.1L446 184.6L443.4 185.2L441.6 175.4L439.5 175.8L438.9 171.3L437 171.5L436.4 163.9L434.9 164L434.9 161.6L433.5 161.6L433.4 164.9L431.9 164.8L431.7 167.3L430 167.1L429.4 171.7L427.5 171.4L427 174.4L425 174L425.4 172.2L423.5 171.7L421.6 178L419.4 177.3L417.4 182.9L415 181.9L412.2 188.6L409.5 187.3L411.5 183.1L409 181.8L407.6 184.5L405.1 183L401.1 189.5L398.3 187.7L394 194L391 191.8L387.1 196.9L383.9 194.4L381.1 197.7L377.9 194.8L373.6 199.4L370.3 196.1L372.9 193.7L369.9 190.4L378.9 182.7L376.5 179.8L377.1 179.3L374.9 176.2L378.5 173.8L376.6 170.8L385.3 165.4L383.8 162.8L382 163.8L380.6 161.1L381.8 160.5L380.6 157.7L383 156.7L381.9 154L384.1 153.2L383.3 150.6L381.2 151.2L380.5 148.4L380.4 148.4L379.8 145.6L379.3 145.7L378.9 142.8L383.3 142.2L383 139.5L380.1 139.8L380 136.9L379.2 136.9L379.2 134.1L383.1 134.2L383.2 131.5L384 131.6L384.3 128.9L381.6 128.6L382 125.8L390.1 127.3L390.5 125L392.5 125.5L393.1 123.3L390.6 122.6L391.3 120.3L385.4 118.2L386.4 115.7L388.3 116.5L389.4 114.1L388.6 113.8L389.8 111.4L394.3 113.8L395.5 111.8L386.5 106.3L388.1 103.8L389.5 104.8L391.1 102.5L395.4 105.8L397 103.8L399.2 105.6L400.8 103.8L401.5 104.5L403.2 102.8L404.5 104.2L406.1 102.6L407.2 103.9L408.9 102.6L409 102.6L410.7 101.3L409.8 100L411.7 98.8L411.5 98.4L413.4 97.2L414.5 99.2L416.4 98.2L417.6 100.7L419.5 99.9L420.4 102.1L422.1 101.4L422.7 103L424.4 102.5L425 104.4L426.6 103.9L426 101.5L427.8 101.1L427.1 97.4L429.1 97.1L429.4 98.8L431.3 98.6L431.3 98.3L433.2 98.2Z" fill="#bfff40"/>
<path d="M433.2 96.5L435.2 96.5L435.1 99.7L437 99.8L436.9 101.6L438.6 101.7L438.6 102L440.4 102.2L440.3 102.4L442.1 102.8L443.5 96.9L445.5 97.5L444.5 100.7L446.3 101.3L447.4 98.3L449.3 99L448.5 101.1L450.2 101.9L450.2 102L451.9 102.9L453.1 100.7L454.9 101.7L453.6 103.9L455.2 104.9L454.6 105.8L456.1 106.9L453.7 110.1L455 111.1L453.9 112.4L455.1 113.5L457.2 111.2L458.5 112.5L463.6 107.6L465 109.2L471.8 103.4L473.4 105.4L473.8 105.1L475.3 107.3L474.7 107.7L476.1 109.8L476.4 109.7L477.6 111.9L477.4 112L478.6 114.3L481.4 113L482.6 115.5L491.8 111.7L492.9 114.7L486.1 117.1L487 119.9L476.7 122.9L477.3 125.2L474.3 125.9L474.7 128L466 129.6L466.3 131.3L469.6 130.8L469.8 132.7L467.9 132.9L468 134.6L472.5 134.5L472.5 136.5L474.6 136.6L474.5 138.7L490.6 139.9L490.3 142.9L489.3 142.8L488.8 145.6L479.9 144L479.4 146.4L463.1 142.4L462.7 144L451.4 140.6L451.1 141.5L445.3 139.4L445.1 140L442.4 138.9L442.2 139.3L440.4 138.5L440.3 138.8L439 138.1L438.8 138.3L438.8 138.3L438.7 138.6L438.7 138.6L438.5 138.8L438.5 138.8L438.3 139L438.3 139L438.1 139.2L439.1 140.2L438.9 140.4L439.5 141.1L439.2 141.3L440.5 142.9L440.1 143.2L442.4 146.2L441.9 146.6L445.2 151.5L444.3 152L450.9 162.8L449.5 163.6L453.6 171.2L451.7 172.2L454.1 177.2L451.9 178.2L454 183.3L451.5 184.3L452.6 187.4L449.8 188.3L448.8 184.9L446.2 185.6L445.4 182L442.9 182.5L441.5 175.1L439.5 175.4L438.7 169.5L436.9 169.7L436.3 162.5L434.9 162.6L434.9 160.4L433.5 160.4L433.5 163.5L432 163.4L431.8 165.8L430.2 165.7L429.7 170.1L427.8 169.8L427.1 174L425.1 173.5L425.8 170.5L424 170L421.7 177.6L419.5 176.9L417.5 182.5L415.1 181.6L413.1 186.4L410.5 185.3L412.8 180.4L410.4 179.3L409.2 181.6L406.8 180.2L403.2 186.1L400.6 184.4L396.7 190.1L393.9 188.1L390.4 192.6L387.4 190.2L384.9 193.2L381.9 190.6L377.9 194.8L374.9 191.8L377.2 189.6L374.4 186.6L382.6 179.5L380.4 176.8L380.8 176.5L378.8 173.6L380.8 172.2L379 169.3L388.2 163.7L386.8 161.2L384.9 162.3L383.6 159.6L382.3 160.2L381.1 157.5L384.1 156.2L383.1 153.6L384.6 153.1L383.8 150.4L383.7 150.5L383 147.8L382.8 147.8L382.3 145.1L380 145.5L379.5 142.7L385.5 141.9L385.2 139.4L381.2 139.7L381.1 136.9L379.9 136.9L379.9 134.1L385.2 134.2L385.3 131.7L386.2 131.7L386.4 129.2L382.3 128.7L382.7 126L390.5 127.4L390.9 125.1L394.3 125.9L394.9 123.9L392.5 123.2L393.2 121L387.7 119L388.6 116.6L388.8 116.7L389.8 114.3L389.3 114.1L390.5 111.8L396.2 114.9L397.3 112.9L388 107.2L389.5 104.8L390 105.1L391.6 102.8L396 106.2L397.6 104.3L400.8 107L402.3 105.3L402.7 105.6L404.3 104L405.7 105.5L407.4 104.1L408.3 105.2L409.9 103.9L409.2 102.9L410.9 101.6L410.3 100.7L412.2 99.5L412.2 99.6L414.1 98.5L414.7 99.5L416.6 98.5L418 101.6L419.8 100.8L420.5 102.4L422.3 101.8L422.8 103.4L424.5 102.8L425.2 105.1L426.8 104.7L426.2 102.3L428 101.9L427.3 98.2L429.3 97.9L429.5 99.6L431.4 99.4L431.3 98.7L433.2 98.6Z" fill="#97ff68"/>
<path d="M433.2 97.5L435.2 97.5L435.1 100.5L436.9 100.6L436.8 102.5L438.5 102.7L438.6 102.4L440.3 102.7L440.2 103.3L441.8 103.7L443.2 98L445.2 98.5L444.2 101.6L446 102.2L447 99.3L448.9 100L448.1 102L449.8 102.8L449.7 103L451.4 103.8L452.5 101.7L454.3 102.7L453 104.8L454.6 105.8L454 106.7L455.5 107.8L453.3 110.7L454.5 111.7L453.3 113.1L454.5 114.1L457.1 111.4L458.3 112.6L463.4 107.8L464.8 109.4L470.3 104.6L471.9 106.6L472.3 106.3L473.7 108.3L473.2 108.7L474.6 110.8L474.8 110.6L476.1 112.8L475.9 112.8L477 115.1L481.2 113.1L482.3 115.6L491.2 111.9L492.4 114.9L485.4 117.4L486.2 120.1L476.4 123L477 125.2L473.5 126.1L473.9 128.1L465.7 129.7L465.9 131.3L469.1 130.9L469.3 132.7L467.5 132.9L467.5 134.6L472.3 134.5L472.3 136.5L474.4 136.6L474.3 138.7L489.9 139.9L489.6 142.8L489 142.7L488.5 145.6L479.7 143.9L479.2 146.3L463 142.4L462.6 143.9L451.3 140.6L451 141.5L445.3 139.4L445 140L442.3 138.9L442.1 139.3L440.4 138.4L440.2 138.8L438.9 138.1L438.8 138.3L438.8 138.3L438.6 138.6L438.6 138.6L438.5 138.8L438.4 138.8L438.3 139L438.2 138.9L438 139.1L439 140.1L438.8 140.3L439.4 141L439.1 141.2L440.4 142.8L440.1 143.1L442.3 146.1L441.8 146.5L445.1 151.3L444.2 151.9L450.8 162.5L449.3 163.4L453.4 170.9L451.5 171.8L453.9 176.7L451.7 177.7L453.4 182L451 182.9L451.4 184.1L448.8 184.9L448.2 182.7L445.7 183.4L444.7 179L442.4 179.5L441.5 174.7L439.4 175.1L438.4 167.4L436.7 167.6L436.2 161L434.9 161.1L434.8 159L433.6 159L433.5 162L432.1 161.9L431.9 164.2L430.4 164.1L429.9 168.2L428.2 167.9L427.4 171.9L425.5 171.5L426.3 168.6L424.5 168.1L421.9 176.9L419.8 176.2L418 181.2L415.6 180.3L414.4 183.3L411.9 182.2L414.1 177.5L412 176.4L410.9 178.5L408.7 177.2L405.4 182.5L403 180.9L399.6 185.9L397 184L393.9 188L391.2 185.8L389 188.5L386.3 186L382.6 189.9L379.8 187.1L381.8 185.2L379.3 182.4L386.7 176L384.7 173.5L384.9 173.3L383 170.7L384.7 169.5L383 166.9L391.4 161.7L390.1 159.4L388.2 160.5L387 158L385 159L383.9 156.3L387.2 155L386.3 152.5L386.2 152.5L385.4 150L386.7 149.6L386 147.1L385.8 147.1L385.2 144.6L382.2 145.1L381.8 142.4L388.1 141.6L387.9 139.1L384.1 139.4L383.9 136.8L381.5 136.9L381.5 134.1L387.8 134.3L387.9 131.9L388.7 131.9L389 129.5L383.8 128.9L384.2 126.2L391 127.5L391.4 125.2L396.6 126.5L397.1 124.5L394.9 123.9L395.6 121.8L390.4 120L391.3 117.7L389.3 116.9L390.3 114.6L391.1 114.9L392.2 112.7L398.5 116.1L399.6 114.3L390.8 108.9L392.3 106.7L391 105.8L392.6 103.6L397.8 107.5L399.3 105.7L402.7 108.6L404.2 107L404.5 107.3L406 105.8L407.3 107.2L408.8 105.8L409.7 106.8L411.2 105.6L409.5 103.3L411.2 102L411.3 102.2L413.1 101L413.2 101.3L415 100.2L414.9 99.9L416.8 98.9L418.7 102.9L420.4 102.2L420.7 102.8L422.4 102.2L423 103.8L424.6 103.2L425.5 106.1L427 105.7L426.5 103.3L428.2 103L427.5 99.3L429.4 99L429.6 100.6L431.4 100.4L431.4 99.3L433.2 99.2Z" fill="#6eff91"/>
<path d="M433.2 99.1L435.2 99.1L435.1 101.6L436.9 101.7L436.7 103.7L438.4 103.9L438.5 103L440.2 103.3L439.9 104.5L441.6 104.9L442.8 99.5L444.7 100L443.8 103L445.5 103.5L446.5 100.8L448.3 101.5L447.5 103.4L449.1 104.2L449.1 104.3L450.7 105.2L451.7 103.2L453.4 104.2L452.2 106.2L453.7 107.2L453.1 108L454.5 109L452.7 111.4L453.9 112.4L452.5 114.1L453.6 115.1L456.9 111.6L458.1 112.8L463.1 108.1L464.5 109.6L468.5 106.2L470 108L470.4 107.8L471.8 109.7L471.3 110L472.6 112L472.8 111.8L474 113.9L473.9 113.9L475 116L480.8 113.3L481.9 115.7L490.6 112.1L491.7 115.1L484.2 117.8L485.1 120.4L476 123.1L476.6 125.3L472.4 126.3L472.8 128.3L465.2 129.8L465.5 131.4L468.3 131L468.5 132.8L466.8 132.9L466.9 134.6L472.1 134.5L472.1 136.5L474 136.5L473.9 138.6L488.7 139.8L488.4 142.6L488.6 142.7L488.1 145.5L479.3 143.9L478.8 146.2L462.8 142.4L462.4 143.9L451.3 140.6L451 141.4L445.1 139.4L444.9 139.9L442.2 138.8L442 139.2L440.3 138.4L440.2 138.7L438.9 138L438.7 138.3L438.8 138.3L438.6 138.5L438.6 138.5L438.4 138.8L438.4 138.7L438.2 138.9L438.2 138.9L438 139.1L439 140L438.7 140.3L439.3 140.9L439 141.1L440.4 142.7L440 143L442.2 146L441.7 146.4L444.9 151.1L444.1 151.7L450.6 162.2L449.2 163.1L453.2 170.5L451.3 171.4L452.9 174.6L450.8 175.6L452 178.5L449.7 179.4L450.1 180.4L447.7 181.1L447.1 179.1L444.8 179.7L443.9 175.7L441.7 176.2L441.1 172.5L439.1 172.8L438.1 165.2L436.5 165.3L436.1 159.3L434.8 159.3L434.8 157.5L433.6 157.5L433.6 160.3L432.3 160.2L432.1 162.4L430.7 162.3L430.2 166.2L428.6 165.9L427.9 169.7L426.1 169.3L426.8 166.5L425.2 166.1L422.7 174.2L420.7 173.5L419.1 178.1L416.9 177.3L415.8 179.9L413.5 178.9L415.6 174.4L413.6 173.4L412.7 175.1L410.7 173.9L407.8 178.5L405.6 177.1L402.6 181.5L400.2 179.7L397.6 183.2L395.1 181.2L393.2 183.5L390.8 181.3L387.5 184.7L385 182.2L386.8 180.5L384.5 178L391.1 172.3L389.2 170L389.3 170L387.6 167.6L389 166.6L387.4 164.2L395 159.5L393.8 157.5L391.9 158.5L390.8 156.2L388.8 157.1L387.8 154.7L390.8 153.5L389.9 151.2L389.7 151.3L389 148.9L390.1 148.6L389.5 146.2L389.2 146.3L388.7 143.9L385.8 144.5L385.4 141.9L391.3 141.2L391 138.9L387.4 139.2L387.3 136.7L385 136.8L385 134.2L390.9 134.4L391 132.1L391.8 132.2L392 130L387.2 129.3L387.6 126.9L391.7 127.6L392.1 125.4L399.2 127.1L399.7 125.3L397.8 124.7L398.4 122.8L393.7 121.2L394.5 119.1L391.6 117.9L392.6 115.7L394.4 116.5L395.4 114.4L401.3 117.6L402.3 115.9L394.2 111L395.5 108.9L394.3 108.1L395.8 106L400.5 109.6L401.9 107.9L405 110.6L406.4 109.1L406.6 109.3L408 107.9L409.2 109.1L410.6 107.8L411.3 108.7L412.7 107.5L409.8 103.7L411.5 102.5L412.7 104.2L414.4 103.1L414.5 103.3L416.2 102.3L415.1 100.4L417 99.4L419.5 104.7L421.1 104L420.9 103.3L422.6 102.6L423.2 104.3L424.8 103.8L425.9 107.4L427.4 107L426.8 104.8L428.4 104.4L427.8 100.9L429.6 100.7L429.8 102.1L431.6 101.9L431.4 100.1L433.3 100Z" fill="#46ffb9"/>
<path d="M433.3 101.1L435.1 101.1L435 103.5L436.7 103.6L436.6 105.5L438.1 105.6L438.4 103.8L440 104L439.6 106.2L441.1 106.6L442.4 101.5L444.1 102L443.3 104.8L444.9 105.3L445.8 102.8L447.5 103.4L446.7 105.3L448.3 106L448.2 106.2L449.7 106.9L450.7 105.1L452.3 106L451.1 107.9L452.5 108.9L452 109.7L453.3 110.6L451.7 112.7L452.8 113.7L451.4 115.4L452.4 116.3L456.7 111.8L457.9 113L462.7 108.5L464.1 110L466.3 108.1L467.7 109.8L468 109.5L469.3 111.4L468.9 111.7L470.1 113.5L470.4 113.3L471.5 115.2L471.5 115.3L472.5 117.2L480.3 113.5L481.4 115.9L488.3 113.1L489.4 115.9L481.4 118.8L482.2 121.3L475.6 123.2L476.1 125.4L470.7 126.7L471.1 128.7L464.6 129.9L464.8 131.5L467.2 131.2L467.3 132.9L465.9 133L466 134.7L471.8 134.5L471.8 136.5L473.5 136.5L473.4 138.6L487 139.7L486.7 142.4L488 142.6L487.5 145.4L478.7 143.7L478.2 146.1L462.6 142.3L462.2 143.8L451.2 140.5L450.9 141.4L445 139.3L444.8 139.9L442.1 138.8L441.9 139.2L440.3 138.4L440.1 138.7L438.8 138L438.7 138.3L438.7 138.3L438.6 138.5L438.6 138.5L438.4 138.7L438.3 138.7L438.2 138.9L438.1 138.8L437.9 139L438.9 139.9L438.6 140.2L439.2 140.7L438.9 141L440.3 142.6L439.9 142.9L442.1 145.8L441.5 146.2L444.8 150.9L444 151.4L450.4 161.9L449 162.7L451.8 167.9L450.1 168.8L451.2 171.2L449.3 172.1L450.4 174.6L448.3 175.4L448.6 176.3L446.5 177L445.9 175.1L443.8 175.7L443 172.1L441.1 172.5L440.5 169.3L438.7 169.6L437.8 162.7L436.4 162.8L435.9 157.4L434.8 157.4L434.7 155.8L433.7 155.8L433.6 158.5L432.4 158.4L432.2 160.4L430.9 160.3L430.5 163.9L429 163.7L428.3 167.1L426.7 166.8L427.3 164.2L425.8 163.8L423.6 171.2L421.8 170.6L420.3 174.7L418.3 173.9L417.3 176.2L415.2 175.3L417.3 171L415.4 170.1L414.7 171.5L412.8 170.4L410.4 174.4L408.4 173.1L405.8 176.8L403.7 175.3L401.4 178.2L399.2 176.4L397.6 178.3L395.5 176.3L392.6 179.3L390.4 177.1L391.9 175.6L389.9 173.4L395.7 168.4L394 166.3L394 166.4L392.4 164.2L393.5 163.5L392.1 161.3L398.8 157.2L397.7 155.3L395.9 156.3L394.9 154.2L393 155.1L392 153L394.7 151.9L393.9 149.8L393.6 149.9L392.9 147.7L393.9 147.4L393.3 145.3L393 145.4L392.5 143.2L389.9 143.7L389.5 141.4L394.8 140.7L394.6 138.6L391.3 138.9L391.2 136.6L389.1 136.7L389.1 134.3L394.5 134.5L394.6 132.4L395.4 132.4L395.6 130.4L391.2 129.8L391.6 127.6L395.3 128.3L395.8 126.3L402.3 127.8L402.7 126.2L401.1 125.7L401.6 124L397.4 122.5L398.1 120.6L395.6 119.5L396.5 117.5L398.1 118.3L399 116.4L404.4 119.3L405.3 117.8L397.9 113.3L399.2 111.4L398 110.6L399.4 108.8L403.6 112L404.9 110.4L407.6 112.8L408.9 111.5L409 111.6L410.3 110.3L411.3 111.3L412.6 110.2L413.2 110.9L414.5 109.8L411.4 105.7L412.9 104.6L414.3 106.6L415.9 105.6L415.9 105.7L417.5 104.8L415.9 101.8L417.7 100.9L420.5 106.8L422 106.1L421.1 103.9L422.8 103.2L423.4 105.1L425 104.6L426.4 109.2L427.8 108.8L427.3 106.6L428.8 106.3L428.2 103L429.9 102.7L430.1 104L431.7 103.8L431.5 101.4L433.3 101.3Z" fill="#1dffe2"/>
<path d="M433.4 103.7L435 103.7L435 105.8L436.5 105.9L436.4 107.6L437.9 107.8L438.1 105.7L439.7 106L439.2 108.4L440.6 108.7L441.8 104L443.4 104.4L442.6 107.1L444.1 107.6L444.9 105.2L446.5 105.8L445.8 107.5L447.2 108.2L447.1 108.4L448.5 109.1L449.4 107.4L450.9 108.3L449.8 110.1L451.1 110.9L450.6 111.7L451.8 112.6L450.3 114.5L451.4 115.4L450.1 116.9L451 117.8L456.4 112.1L457.6 113.3L461.2 109.8L462.5 111.3L463.6 110.3L464.9 111.9L465.2 111.7L466.4 113.3L466.1 113.6L467.2 115.3L467.5 115.1L468.5 116.9L468.5 116.9L469.4 118.7L478.6 114.3L479.6 116.7L484.2 114.8L485.2 117.4L478 120L478.7 122.3L474.9 123.4L475.5 125.6L468.4 127.3L468.8 129.1L463.7 130L463.9 131.6L465.4 131.4L465.6 133L464.6 133.1L464.7 134.7L471.3 134.5L471.3 136.5L472.8 136.5L472.7 138.5L484 139.4L483.7 142L487.1 142.5L486.7 145.2L477.9 143.6L477.4 145.9L462.2 142.2L461.8 143.7L451.1 140.5L450.8 141.4L444.8 139.2L444.5 139.8L442 138.7L441.8 139.1L440.2 138.3L440 138.6L438.8 138L438.6 138.2L438.7 138.2L438.5 138.5L438.5 138.5L438.3 138.7L438.3 138.6L438.1 138.8L438 138.8L437.8 139L438.8 139.8L438.5 140.1L439 140.6L438.8 140.8L440.2 142.5L439.8 142.8L441.9 145.6L441.4 146L444.6 150.7L443.8 151.2L448.9 159.5L447.6 160.2L450 164.6L448.5 165.4L449.4 167.4L447.7 168.2L448.6 170.4L446.8 171.1L447.1 171.8L445.1 172.4L444.7 170.8L442.8 171.3L442 168.2L440.3 168.5L439.8 165.8L438.2 166L437.4 160L436.1 160.1L435.8 155.3L434.7 155.4L434.7 154L433.7 154L433.7 156.4L432.6 156.4L432.4 158.2L431.2 158.1L430.8 161.4L429.4 161.2L428.9 164.3L427.4 164L427.9 161.6L426.6 161.2L424.6 167.9L422.9 167.4L421.6 171L419.8 170.3L419 172.2L417.1 171.4L419 167.4L417.3 166.6L416.7 167.6L415.1 166.7L413 170.1L411.2 168.9L409.1 172L407.2 170.7L405.4 173.1L403.4 171.5L402.1 173L400.2 171.3L397.8 173.9L395.8 171.9L397.2 170.6L395.4 168.6L400.5 164.3L399 162.5L398.8 162.6L397.5 160.7L398.3 160.2L397.1 158.2L402.8 154.7L401.9 153L400.2 154L399.3 152.1L397.5 153L396.7 151L398.9 150.1L398.2 148.3L397.9 148.4L397.3 146.4L398.1 146.2L397.6 144.3L397.3 144.4L396.8 142.4L394.4 142.9L394.1 140.8L398.8 140.2L398.6 138.3L395.6 138.5L395.5 136.5L393.7 136.6L393.7 134.4L398.6 134.6L398.7 132.7L399.4 132.8L399.6 130.9L395.7 130.4L396 128.4L399.4 129.1L399.8 127.2L405.7 128.7L406.1 127.2L404.7 126.8L405.2 125.2L401.5 123.9L402.1 122.2L399.9 121.3L400.7 119.5L402.2 120.2L403 118.6L407.8 121.2L408.6 119.8L402.1 115.8L403.2 114.2L402.1 113.5L403.3 111.8L407 114.6L408.1 113.2L410.5 115.3L411.6 114.1L411.7 114.1L412.8 113L413.6 113.8L414.8 112.8L415.3 113.3L416.5 112.4L413.6 108.6L415 107.6L416.2 109.3L417.6 108.4L417.6 108.4L419 107.6L417.5 104.8L419.2 104L421.7 109.3L423.1 108.6L422.2 106.5L423.7 105.9L424.3 107.5L425.8 107L427 111.2L428.3 110.9L427.8 108.9L429.2 108.6L428.6 105.5L430.2 105.2L430.4 106.4L431.9 106.2L431.7 103.9L433.4 103.8Z" fill="#00f3ff"/>
<path d="M433.4 106.7L435 106.7L434.9 108.6L436.3 108.7L436.2 110.2L437.5 110.4L437.8 108.5L439.2 108.7L438.8 110.9L440 111.2L441 107L442.5 107.4L441.8 109.8L443.1 110.2L443.9 108.1L445.3 108.7L444.7 110.2L446 110.8L445.9 111L447.1 111.7L447.9 110.2L449.2 111L448.3 112.6L449.4 113.3L449 114L450.1 114.8L448.7 116.6L449.7 117.3L448.5 118.8L449.4 119.5L455.3 113.3L456.4 114.4L458.4 112.5L459.6 113.8L460.5 113L461.7 114.4L462 114.2L463 115.7L462.7 115.9L463.7 117.4L464 117.2L464.9 118.8L464.9 118.8L465.8 120.4L474 116.5L475 118.6L479.2 116.9L480.1 119.3L473.7 121.5L474.4 123.6L471.7 124.4L472.3 126.4L465.4 128L465.8 129.7L461.7 130.4L461.9 131.9L463 131.7L463.1 133.2L462.3 133.3L462.4 134.8L470.7 134.5L470.7 136.5L471.9 136.5L471.8 138.5L480 139.1L479.7 141.5L484.1 142.1L483.7 144.7L475.4 143.1L474.9 145.3L461.7 142.1L461.4 143.5L450.9 140.5L450.6 141.3L444.5 139.1L444.3 139.7L441.8 138.6L441.6 139L440 138.3L439.9 138.6L438.7 137.9L438.6 138.2L438.6 138.2L438.4 138.4L438.4 138.4L438.3 138.6L438.2 138.6L438 138.8L437.9 138.7L437.8 138.9L438.6 139.7L438.4 139.9L438.9 140.4L438.6 140.7L440 142.3L439.7 142.6L441.8 145.4L441.2 145.7L443.9 149.6L443.1 150L447.2 156.7L446.1 157.3L448.1 161.1L446.7 161.8L447.5 163.4L446 164.1L446.8 165.9L445.2 166.5L445.4 167.1L443.7 167.6L443.3 166.2L441.7 166.7L441 164L439.5 164.3L439.1 162L437.7 162.2L437 157.1L435.9 157.2L435.6 153.1L434.7 153.2L434.6 152L433.8 152L433.7 154.2L432.7 154.1L432.6 155.8L431.5 155.7L431.2 158.7L429.9 158.5L429.4 161.3L428.1 161L428.6 158.8L427.4 158.4L425.7 164.3L424.2 163.8L423.1 166.9L421.4 166.3L420.8 167.9L419.1 167.2L420.8 163.6L419.4 162.8L418.9 163.6L417.5 162.8L415.8 165.6L414.2 164.6L412.5 167.1L410.9 165.9L409.4 167.9L407.7 166.5L406.7 167.7L405 166.2L403 168.4L401.3 166.7L402.5 165.6L401 163.9L405.3 160.2L404 158.6L403.8 158.8L402.6 157.2L403.3 156.8L402.2 155.1L407.1 152.1L406.2 150.7L404.7 151.5L403.9 149.9L402.3 150.7L401.6 149L403.4 148.3L402.8 146.6L402.5 146.7L402 145.1L402.6 144.8L402.2 143.2L401.9 143.3L401.5 141.6L399.4 142L399.1 140.1L403.2 139.6L403 138L400.3 138.2L400.3 136.4L398.7 136.4L398.7 134.6L403 134.7L403.1 133.1L403.7 133.1L403.9 131.5L400.6 131.1L400.9 129.3L403.9 129.9L404.2 128.3L409.4 129.5L409.8 128.3L408.6 127.9L409 126.6L405.9 125.5L406.5 124L404.6 123.2L405.2 121.7L406.5 122.3L407.3 120.9L411.4 123.1L412.1 122L406.5 118.5L407.4 117.1L406.5 116.5L407.5 115L410.6 117.4L411.6 116.2L413.6 117.9L414.6 116.9L414.6 116.9L415.6 115.9L416.2 116.5L417.2 115.6L417.6 116L418.6 115.2L416 111.8L417.3 110.9L418.3 112.4L419.5 111.6L419.5 111.5L420.8 110.7L419.4 108.2L420.8 107.5L423 112.1L424.3 111.5L423.4 109.5L424.8 109L425.3 110.3L426.6 109.9L427.7 113.6L428.9 113.3L428.4 111.5L429.7 111.2L429.2 108.4L430.6 108.2L430.7 109.2L432.1 109.1L432 107L433.5 106.9Z" fill="#00cbff"/>
<path d="M433.5 110.3L434.9 110.3L434.8 111.9L436.1 112L435.9 113.3L437.1 113.4L437.3 111.8L438.6 112L438.2 113.9L439.3 114.2L440.2 110.5L441.5 110.9L440.9 113L442 113.4L442.7 111.5L443.9 112L443.4 113.4L444.5 113.9L444.4 114.1L445.5 114.6L446.2 113.4L447.4 114L446.5 115.5L447.5 116.1L447.1 116.7L448.1 117.4L446.9 118.9L447.8 119.6L446.7 120.8L447.5 121.5L452.6 116.1L453.6 117.1L455.2 115.6L456.2 116.7L457 116L458 117.2L458.3 117L459.2 118.3L458.9 118.5L459.8 119.8L460.1 119.6L460.9 121L460.9 121L461.6 122.4L468.8 119L469.6 120.8L473.3 119.3L474.1 121.4L468.7 123.3L469.3 125.1L467.1 125.7L467.6 127.5L461.8 128.9L462.1 130.3L458.6 131L458.8 132.3L459.9 132.1L460 133.5L459.3 133.5L459.4 134.8L468.5 134.6L468.5 136.4L467.7 136.4L467.6 138.1L474.8 138.7L474.6 140.8L478.4 141.3L478.1 143.6L470.7 142.3L470.3 144.2L460.6 141.8L460.3 143.2L450.7 140.4L450.5 141.3L444.1 139L443.9 139.5L441.5 138.5L441.4 138.9L439.9 138.2L439.7 138.5L438.6 137.9L438.5 138.1L438.5 138.1L438.4 138.4L438.4 138.4L438.2 138.6L438.1 138.5L437.9 138.7L437.8 138.6L437.7 138.8L438.5 139.6L438.3 139.8L438.7 140.2L438.4 140.5L439.9 142.2L439.6 142.5L441.2 144.6L440.7 145L442.6 147.7L441.9 148.1L445.4 153.7L444.4 154.3L446.1 157.3L444.9 157.9L445.5 159.2L444.2 159.7L444.8 161.2L443.5 161.7L443.6 162.2L442.2 162.6L441.9 161.5L440.5 161.9L440 159.7L438.7 159.9L438.4 158.1L437.2 158.3L436.6 154.1L435.7 154.2L435.4 150.8L434.6 150.8L434.6 149.9L433.8 149.9L433.8 151.8L432.9 151.8L432.8 153.2L431.9 153.1L431.5 155.7L430.5 155.5L430 157.9L428.9 157.7L429.3 155.7L428.3 155.4L426.8 160.4L425.5 160L424.6 162.6L423.2 162L422.7 163.3L421.2 162.7L422.8 159.5L421.5 158.8L421.2 159.4L420 158.7L418.6 160.9L417.3 160L416 162L414.6 161.1L413.4 162.6L412 161.5L411.3 162.4L409.9 161.1L408.2 162.9L406.8 161.5L407.9 160.5L406.6 159.1L410.1 156.1L409.1 154.8L408.9 154.9L407.9 153.6L408.3 153.3L407.4 151.9L411.4 149.5L410.7 148.3L409.4 149L408.7 147.7L407.3 148.3L406.6 146.9L408.1 146.3L407.6 144.9L407.3 145L406.9 143.6L407.4 143.4L407.1 142L406.8 142.1L406.5 140.6L404.6 141L404.4 139.4L407.8 139L407.7 137.6L405.4 137.8L405.3 136.3L404 136.3L404 134.7L407.7 134.8L407.8 133.4L408.4 133.5L408.5 132.1L405.7 131.8L406 130.3L408.6 130.8L408.9 129.4L413.3 130.5L413.6 129.4L412.7 129.1L413 128L410.5 127.1L410.9 125.9L409.4 125.2L409.9 123.9L411 124.5L411.6 123.3L415.1 125.2L415.7 124.2L411 121.3L411.8 120.1L411 119.6L411.9 118.4L414.4 120.3L415.2 119.3L416.8 120.7L417.6 119.8L417.6 119.7L418.4 118.9L418.9 119.4L419.7 118.6L420 118.9L420.9 118.1L418.6 115.2L419.7 114.4L420.5 115.6L421.6 114.9L421.5 114.8L422.6 114.2L421.4 111.9L422.7 111.3L424.5 115.2L425.6 114.7L424.8 112.9L426 112.4L426.4 113.5L427.6 113.1L428.5 116.4L429.5 116.1L429.2 114.5L430.3 114.3L429.8 111.8L431.1 111.6L431.2 112.5L432.4 112.3L432.2 110.5L433.5 110.4Z" fill="#00a2ff"/>
<path d="M433.6 114.3L434.8 114.3L434.7 115.6L435.8 115.7L435.7 116.7L436.7 116.8L436.8 115.4L437.9 115.6L437.6 117.3L438.5 117.5L439.2 114.5L440.3 114.8L439.8 116.5L440.8 116.9L441.3 115.3L442.4 115.7L441.9 116.9L442.9 117.3L442.8 117.5L443.7 118L444.3 116.9L445.2 117.5L444.5 118.7L445.4 119.2L445.1 119.7L445.9 120.3L444.9 121.5L445.6 122.1L444.8 123.1L445.4 123.7L449.6 119.3L450.4 120.1L451.7 118.9L452.5 119.8L453.2 119.3L454 120.3L454.2 120.2L455 121.2L454.7 121.4L455.5 122.5L455.7 122.3L456.4 123.5L456.4 123.5L457 124.6L462.9 121.8L463.6 123.3L466.7 122L467.4 123.8L463 125.3L463.5 126.8L461.8 127.3L462.2 128.8L457.5 129.9L457.8 131.1L454.9 131.7L455.1 132.7L456.1 132.6L456.2 133.8L455.7 133.8L455.7 134.9L463.4 134.7L463.4 136.3L462.6 136.2L462.5 137.7L468.6 138.2L468.4 140L471.6 140.4L471.3 142.4L465.1 141.2L464.7 142.8L456.6 140.9L456.3 142.1L450.5 140.3L450.2 141.2L443.7 138.9L443.6 139.4L441.3 138.4L441.1 138.8L439.7 138.1L439.6 138.4L438.5 137.8L438.3 138L438.4 138.1L438.3 138.3L438.3 138.3L438.1 138.5L438 138.4L437.8 138.6L437.7 138.5L437.5 138.7L438.3 139.4L438.1 139.6L438.5 140L438.3 140.3L439.8 142L439.4 142.3L440.2 143.4L439.8 143.7L441.3 145.8L440.7 146.2L443.5 150.6L442.7 151.1L444 153.5L443 154L443.4 154.9L442.4 155.3L442.9 156.4L441.8 156.8L441.9 157.2L440.7 157.6L440.5 156.7L439.4 157L438.9 155.3L437.9 155.5L437.6 154.1L436.7 154.3L436.2 151L435.4 151.1L435.2 148.4L434.5 148.4L434.5 147.6L433.9 147.6L433.8 149.3L433.1 149.3L433 150.4L432.2 150.4L432 152.5L431.1 152.4L430.7 154.4L429.7 154.1L430.1 152.4L429.3 152.2L428 156.3L427 156L426.2 158L425.1 157.5L424.7 158.5L423.5 157.9L424.8 155.2L423.8 154.7L423.6 155.1L422.6 154.5L421.6 156.1L420.5 155.5L419.5 157L418.3 156.2L417.5 157.3L416.3 156.4L415.8 157.1L414.7 156.1L413.4 157.4L412.3 156.3L413.1 155.5L412.1 154.4L414.9 152L414.1 151L413.8 151.1L413 150L413.3 149.8L412.6 148.7L415.8 146.8L415.2 145.8L414 146.4L413.5 145.4L412.3 146L411.8 144.8L412.9 144.3L412.5 143.2L412.3 143.3L411.9 142.1L412.4 142L412.1 140.8L411.8 140.9L411.6 139.7L410 140L409.8 138.7L412.6 138.3L412.5 137.2L410.7 137.4L410.6 136.1L409.5 136.1L409.5 134.9L412.6 134.9L412.6 133.8L413.1 133.8L413.3 132.7L411 132.4L411.2 131.2L413.3 131.6L413.6 130.5L417.2 131.4L417.4 130.5L416.7 130.3L417 129.4L415 128.7L415.4 127.7L414.1 127.2L414.6 126.2L415.5 126.6L416 125.6L418.8 127.2L419.3 126.4L415.6 124.1L416.2 123.1L415.5 122.6L416.2 121.7L418.2 123.2L418.8 122.4L420.1 123.4L420.7 122.7L420.6 122.6L421.3 121.9L421.6 122.3L422.3 121.6L422.5 121.8L423.2 121.2L421.3 118.7L422.2 118.1L422.9 119.1L423.8 118.5L423.7 118.4L424.6 117.8L423.6 115.9L424.6 115.4L426.1 118.6L427 118.2L426.3 116.5L427.3 116.2L427.7 117L428.6 116.7L429.4 119.4L430.3 119.2L430 117.8L430.9 117.6L430.5 115.6L431.6 115.4L431.6 116.1L432.7 116L432.5 114.4L433.6 114.4Z" fill="#007aff"/>
<path d="M433.8 118.6L434.6 118.6L434.6 119.6L435.4 119.7L435.4 120.4L436.2 120.5L436.3 119.4L437.2 119.5L436.9 121L437.6 121.1L438.2 118.7L439.1 119L438.7 120.4L439.5 120.6L439.9 119.4L440.7 119.7L440.3 120.7L441.1 121L441 121.2L441.8 121.5L442.2 120.7L443 121.2L442.4 122.1L443.1 122.5L442.9 122.9L443.5 123.4L442.8 124.3L443.4 124.8L442.7 125.6L443.2 126L446.4 122.6L447.1 123.3L448 122.4L448.6 123.2L449.1 122.8L449.7 123.6L449.9 123.5L450.5 124.3L450.3 124.4L450.9 125.3L451.1 125.1L451.6 126L451.6 126.1L452.1 127L456.6 124.8L457.2 126L459.6 125L460.1 126.3L456.7 127.5L457.1 128.7L456 129.1L456.3 130.2L452.7 131.1L452.9 132L450.8 132.4L450.9 133.3L451.8 133.2L451.9 134.1L451.5 134.1L451.5 135L457.5 134.9L457.5 136.1L456.7 136.1L456.7 137.3L461.4 137.6L461.2 139.1L463.7 139.4L463.5 140.9L458.6 140L458.4 141.3L452.1 139.8L451.9 140.7L448.7 139.8L448.4 140.5L442.4 138.4L442.3 138.8L440.9 138.3L440.8 138.6L439.5 138L439.4 138.3L438.4 137.8L438.2 138L438.3 138L438.2 138.2L438.2 138.2L438 138.5L437.9 138.3L437.7 138.5L437.6 138.4L437.4 138.6L438.2 139.3L438 139.5L438.3 139.8L438.1 140L439.2 141.4L438.9 141.6L439.3 142.1L438.9 142.4L440 143.9L439.5 144.2L441.6 147.5L440.9 147.9L441.9 149.7L441.1 150L441.4 150.6L440.6 151L440.9 151.7L440.1 152.1L440.2 152.3L439.3 152.6L439.1 152L438.2 152.2L437.9 150.9L437.1 151.1L436.9 150.1L436.1 150.2L435.8 147.9L435.2 147.9L435 145.9L434.5 145.9L434.5 145.4L433.9 145.4L433.9 146.7L433.3 146.7L433.2 147.6L432.6 147.5L432.4 149.2L431.7 149.1L431.4 150.7L430.6 150.5L430.9 149.1L430.2 148.9L429.3 152L428.4 151.8L427.9 153.2L427 152.9L426.7 153.5L425.8 153.1L426.8 150.9L426 150.5L426 150.7L425.2 150.2L424.5 151.4L423.6 150.9L422.9 151.9L422.1 151.3L421.4 152.1L420.6 151.5L420.2 151.9L419.3 151.2L418.4 152.2L417.5 151.3L418.1 150.7L417.4 149.9L419.5 148.1L418.9 147.3L418.7 147.4L418 146.6L418.2 146.5L417.6 145.7L420 144.2L419.5 143.5L418.6 144L418.2 143.1L417.2 143.6L416.8 142.7L417.7 142.3L417.4 141.5L417.2 141.5L416.9 140.6L417.3 140.5L417 139.6L416.9 139.7L416.7 138.7L415.5 139L415.3 138L417.5 137.7L417.4 136.8L415.9 136.9L415.9 136L415 136L415 135L417.4 135.1L417.5 134.2L417.9 134.2L418 133.4L416.2 133.1L416.4 132.2L418 132.5L418.2 131.7L421 132.3L421.2 131.6L420.7 131.5L420.9 130.8L419.4 130.3L419.7 129.5L418.7 129.1L419.1 128.3L419.8 128.6L420.2 127.9L422.4 129.1L422.7 128.5L419.9 126.7L420.4 126L419.8 125.6L420.3 124.9L421.8 126L422.3 125.4L423.2 126.1L423.7 125.6L423.6 125.4L424.1 124.9L424.4 125.1L424.9 124.6L425 124.7L425.6 124.3L424.1 122.3L424.8 121.8L425.3 122.5L426 122.1L425.9 122L426.6 121.6L425.8 120L426.6 119.6L427.8 122L428.5 121.7L427.9 120.4L428.7 120.1L429 120.7L429.7 120.4L430.4 122.6L431.1 122.4L430.8 121.4L431.6 121.2L431.2 119.6L432.1 119.4L432.2 120L433 119.9L432.9 118.7L433.8 118.7Z" fill="#0051ff"/>
<path d="M433.9 123L434.5 123L434.5 123.7L435.1 123.7L435.1 124.3L435.7 124.3L435.8 123.5L436.4 123.6L436.2 124.7L436.8 124.9L437.2 123.1L437.8 123.3L437.5 124.3L438.1 124.5L438.4 123.6L439 123.8L438.7 124.5L439.3 124.8L439.3 124.9L439.8 125.2L440.1 124.6L440.7 124.9L440.3 125.6L440.8 125.9L440.7 126.1L441.1 126.5L440.6 127.1L441.1 127.4L440.6 128L441 128.4L443.3 125.9L443.8 126.4L444.2 126L444.7 126.5L445 126.3L445.4 126.9L445.5 126.8L446 127.4L445.9 127.5L446.3 128.1L446.4 128L446.8 128.7L446.7 128.7L447.1 129.4L450.2 127.9L450.6 128.7L452.3 128L452.6 129L450.3 129.8L450.5 130.7L449.8 130.9L450.1 131.7L447.7 132.3L447.8 133L446.4 133.2L446.5 133.9L447.2 133.8L447.3 134.5L447 134.5L447 135.2L451.2 135.1L451.2 135.9L450.4 135.9L450.3 136.8L453.6 137L453.5 138L455.3 138.3L455.2 139.4L451.8 138.8L451.6 139.7L447.3 138.6L447.1 139.3L445.2 138.7L445 139.3L440.8 137.9L440.7 138.2L440.2 138L440.1 138.3L439.4 138L439.2 138.2L438.2 137.7L438.1 137.9L438.2 138L438.1 138.2L438.1 138.2L438 138.4L437.8 138.3L437.6 138.4L437.5 138.3L437.3 138.4L438 139.1L437.8 139.3L438.1 139.6L437.8 139.8L438.5 140.6L438.3 140.8L438.4 140.9L438.1 141.1L438.7 142L438.3 142.2L439.8 144.6L439.3 144.9L439.9 146L439.4 146.3L439.5 146.6L438.9 146.9L439.1 147.3L438.5 147.5L438.5 147.7L437.9 147.9L437.8 147.5L437.1 147.7L436.9 146.8L436.3 146.9L436.2 146.3L435.6 146.4L435.4 144.9L434.9 144.9L434.8 143.5L434.4 143.6L434.4 143.2L434 143.2L434 144.2L433.5 144.1L433.5 144.8L433 144.7L432.8 145.9L432.3 145.9L432.1 147L431.5 146.9L431.7 145.7L431.2 145.6L430.6 147.8L429.9 147.6L429.6 148.5L428.9 148.3L428.7 148.7L428.1 148.4L428.9 146.7L428.3 146.4L428.3 146.4L427.7 146.1L427.3 146.8L426.7 146.4L426.2 147.1L425.6 146.7L425.2 147.2L424.6 146.8L424.3 147.1L423.7 146.6L423 147.3L422.4 146.7L422.9 146.2L422.3 145.6L423.8 144.4L423.3 143.8L423.1 144L422.7 143.4L422.7 143.4L422.3 142.8L424 141.8L423.6 141.2L423 141.6L422.7 141L421.9 141.4L421.6 140.7L422.2 140.5L422 139.8L421.9 139.9L421.7 139.2L422 139.1L421.8 138.5L421.7 138.5L421.6 137.8L420.7 138L420.6 137.3L422.1 137.1L422 136.5L420.9 136.5L420.9 135.8L420.3 135.9L420.3 135.1L422.1 135.2L422.1 134.5L422.4 134.6L422.4 133.9L421.1 133.8L421.3 133.1L422.4 133.3L422.5 132.7L424.6 133.2L424.7 132.7L424.4 132.6L424.6 132.1L423.5 131.7L423.7 131.2L423 130.8L423.2 130.3L423.7 130.5L424 129.9L425.6 130.8L425.9 130.4L423.8 129.1L424.2 128.6L423.8 128.3L424.2 127.8L425.2 128.6L425.5 128.1L426.1 128.6L426.5 128.2L426.4 128.1L426.8 127.7L426.9 127.8L427.3 127.5L427.4 127.5L427.8 127.2L426.7 125.7L427.2 125.3L427.6 125.9L428.1 125.6L428.1 125.5L428.6 125.2L428 124.1L428.6 123.7L429.4 125.5L430 125.3L429.5 124.2L430.1 124L430.3 124.4L430.8 124.2L431.3 125.8L431.8 125.7L431.7 125L432.2 124.8L432 123.7L432.6 123.6L432.7 124L433.3 124L433.2 123L433.9 123Z" fill="#0029ff"/>
<path d="M434 127.2L434.4 127.2L434.4 127.7L434.8 127.7L434.8 127.9L435.2 128L435.3 127.4L435.7 127.5L435.5 128.3L435.9 128.4L436.2 127.3L436.6 127.4L436.4 128.1L436.8 128.2L437 127.6L437.4 127.8L437.2 128.2L437.6 128.4L437.6 128.5L437.9 128.7L438.1 128.2L438.5 128.5L438.3 128.9L438.6 129.1L438.5 129.2L438.9 129.4L438.6 129.8L438.9 130L438.6 130.4L438.9 130.6L440.3 129.1L440.6 129.4L440.7 129.4L441 129.7L441.1 129.6L441.4 130L441.4 130L441.7 130.3L441.6 130.4L441.9 130.8L442 130.7L442.2 131.1L442.1 131.2L442.3 131.6L444.1 130.8L444.3 131.3L445.2 130.9L445.4 131.5L444 132L444.2 132.6L443.9 132.6L444 133.1L442.7 133.5L442.8 133.9L442 134L442.1 134.5L442.7 134.4L442.7 134.8L442.5 134.8L442.5 135.3L444.9 135.2L444.9 135.8L444 135.8L444 136.3L445.9 136.4L445.8 137L446.9 137.2L446.8 137.8L444.9 137.5L444.8 138L442.5 137.5L442.4 137.9L441.7 137.7L441.6 138.1L439.3 137.3L439.2 137.6L439.3 137.6L439.1 137.9L439.2 137.9L439 138.1L438.1 137.6L438 137.8L438.1 137.9L438 138.1L438 138.1L437.9 138.3L437.7 138.2L437.5 138.4L437.3 138.2L437.2 138.3L437.9 139L437.7 139.2L437.7 139.1L437.5 139.3L437.9 139.8L437.7 140L437.5 139.8L437.3 140L437.5 140.3L437.3 140.5L438.1 141.9L437.8 142.1L438.1 142.8L437.8 143L437.8 143L437.4 143.2L437.4 143.3L437 143.5L437.1 143.6L436.6 143.7L436.6 143.5L436.1 143.6L436 143L435.6 143.1L435.6 142.9L435.2 142.9L435.1 142.1L434.7 142.1L434.7 141.3L434.4 141.4L434.3 141.1L434.1 141.1L434 141.8L433.7 141.8L433.7 142.1L433.3 142.1L433.2 142.9L432.8 142.8L432.7 143.5L432.3 143.4L432.5 142.6L432.1 142.5L431.7 143.8L431.3 143.7L431.1 144.2L430.7 144L430.6 144.1L430.2 143.9L430.7 142.8L430.4 142.6L430.4 142.5L430 142.3L429.8 142.6L429.5 142.4L429.2 142.7L428.9 142.5L428.6 142.8L428.2 142.5L428 142.7L427.7 142.4L427.2 142.8L426.9 142.5L427.1 142.2L426.7 141.9L427.6 141.1L427.3 140.8L427.1 140.9L426.9 140.5L426.8 140.6L426.5 140.2L427.5 139.6L427.3 139.2L426.8 139.5L426.6 139.1L426.1 139.4L425.9 138.9L426.3 138.8L426.1 138.4L426.1 138.4L426 137.9L426.2 137.9L426.1 137.4L426.1 137.4L426 137L425.4 137.1L425.3 136.7L426.3 136.5L426.2 136.1L425.5 136.2L425.5 135.7L425.1 135.7L425.1 135.3L426.2 135.3L426.2 134.9L426.4 134.9L426.4 134.5L425.5 134.4L425.6 133.9L426.3 134L426.4 133.6L427.7 133.9L427.8 133.6L427.6 133.5L427.7 133.2L427 133L427.2 132.6L426.6 132.4L426.8 132L427.1 132.1L427.3 131.7L428.4 132.4L428.6 132.1L427.3 131.2L427.5 130.9L427.2 130.7L427.5 130.3L428.1 130.8L428.3 130.5L428.7 130.8L429 130.5L428.9 130.4L429.1 130.2L429.2 130.3L429.5 130L429.5 130L429.8 129.8L429.1 128.8L429.4 128.6L429.7 129L430.1 128.8L430.1 128.8L430.5 128.6L430 127.8L430.4 127.6L431 128.7L431.3 128.6L431 127.8L431.4 127.6L431.5 127.8L431.9 127.7L432.2 128.8L432.6 128.7L432.5 128.4L432.9 128.3L432.7 127.6L433.1 127.5L433.2 127.8L433.6 127.8L433.5 127.2L434 127.2Z" fill="#0000ff"/>
<path d="M434.3 130.5L435.3 93.7M434.6 130.5L437.2 97.6M434.9 130.5L439 99.4M435.1 130.6L440.8 100.1M435.4 130.6L444.1 94.3M435.6 130.7L446.2 94.8M435.9 130.8L448.3 95.6M436.1 130.9L450.4 96.4M436.4 131L451.4 99.4M436.6 131.1L454.5 98.1M436.8 131.2L456.5 99.2M437 131.4L456.9 102.5M437.2 131.5L457.9 104.6M437.4 131.7L456.3 109.6M437.6 131.9L457.6 110.8M437.8 132.1L464.3 106.9M438 132.3L475 100.7M438.2 132.5L477.1 102.6M438.3 132.7L478.8 104.9M438.5 132.9L479.8 107.5M438.6 133.1L481.2 110M438.7 133.3L482.2 112.6M438.8 133.6L493.1 111.1M438.9 133.8L494.3 114.2M439 134.1L488.9 119.3M439.1 134.3L478 125M439.1 134.6L476.5 127.7M439.2 134.8L470.6 130.7M439.2 135.1L470.8 132.6M439.2 135.4L472.7 134.5M439.2 135.6L474.9 136.6M439.2 135.9L491.7 140M439.2 136.2L491.4 143M439.1 136.4L489.3 145.7M439.1 136.7L479.9 146.5M439 136.9L463 144M438.9 137.2L451.2 141.5M438.8 137.4L445.3 140.1M438.7 137.7L442.3 139.4M438.6 137.9L440.4 138.8M438.5 138.1L438.9 138.4M438.3 138.3L438.7 138.6M438.2 138.5L438.6 138.8M438 138.7L438.4 139.1M437.8 138.9L439.3 140.3M437.6 139.1L439.7 141.3M437.4 139.3L440.7 143.1M437.2 139.5L442.7 146.6M437 139.6L445.5 152M436.8 139.8L451.4 163.6M436.6 139.9L454.2 172.4M436.4 140L454.9 178.8M436.1 140.1L454.9 185.4M435.9 140.2L455.2 194.9M435.6 140.3L452.1 195.9M435.4 140.4L448.2 193.8M435.1 140.4L445.1 194.5M434.9 140.5L439.7 177.1M434.6 140.5L437.3 175.4M434.3 140.5L435.1 169.5M434.1 140.5L433.3 170.5M433.8 140.5L431.2 173.4M433.5 140.5L429 175.2M433.3 140.4L426.5 176.8M433 140.4L423.9 178.3M432.8 140.3L421.1 179.6M432.5 140.2L416.8 184.5M432.3 140.1L411.2 190.9M432 140L406.6 193.3M431.8 139.9L400.8 197M431.6 139.8L394.5 200.3M431.4 139.6L382.1 211.3M431.2 139.5L372.7 215.6M431 139.3L366 215.3M430.8 139.1L361.9 211.7M430.6 138.9L360.9 205M430.4 138.7L362.7 196.5M430.2 138.5L364.8 188.8M430.1 138.3L369.1 180.2M429.9 138.1L374.5 172.1M429.8 137.9L373.6 168.4M429.7 137.7L373.7 164.3M429.6 137.4L378.8 158.5M429.5 137.2L379.5 154.9M429.4 136.9L373.8 153.4M429.3 136.7L372.9 150.2M429.3 136.4L372.7 146.9M429.2 136.2L376.7 143.1M429.2 135.9L377.4 140M429.2 135.6L377.2 137M429.2 135.4L377.2 134M429.2 135.1L378.4 131.1M429.2 134.8L379.7 128.3M429.3 134.6L380.1 125.5M429.3 134.3L388.5 124.5M429.4 134.1L386.3 121.3M429.5 133.8L380.5 116.5M429.6 133.6L381.5 113.7M429.7 133.3L386.8 112.9M429.8 133.1L388.1 110.4M429.9 132.9L384.1 104.8M430.1 132.7L385.7 102.2M430.2 132.5L389.8 101.4M430.4 132.3L395.4 102.4M430.6 132.1L397.2 100.4M430.8 131.9L400.8 100.3M431 131.7L403.4 99.4M431.2 131.5L406.5 99.4M431.4 131.4L408.4 97.9M431.6 131.2L409.6 95.3M431.8 131.1L411.7 94.1M432 131L416 97.3M432.3 130.9L418.4 97.4M432.5 130.8L421.8 100.6M432.8 130.7L424.1 101.6M433 130.6L425.6 99.5M433.3 130.6L426.7 95.3M433.5 130.5L428.9 94.9M433.8 130.5L431.1 96.6M434.1 130.5L433.1 93.7" fill="none" stroke="#000" stroke-opacity=".18" stroke-width=".3"/></g>
<circle cx="434.2" cy="135.5" r="104.5" fill="none" stroke="#a4a4a4" stroke-width=".9"/>
<circle cx="434.2" cy="135.5" r="5" fill="#fff"/>
<rect x="9.2" y="17.9" width="18.3" height="5.2" fill="#800000" stroke="#000" stroke-opacity=".25" stroke-width=".4"/>
<rect x="9.2" y="27.9" width="18.3" height="5.2" fill="#a80000" stroke="#000" stroke-opacity=".25" stroke-width=".4"/>
<rect x="9.2" y="37.9" width="18.3" height="5.2" fill="#d10000" stroke="#000" stroke-opacity=".25" stroke-width=".4"/>
<rect x="9.2" y="47.9" width="18.3" height="5.2" fill="#f90000" stroke="#000" stroke-opacity=".25" stroke-width=".4"/>
<rect x="9.2" y="57.9" width="18.3" height="5.2" fill="#ff2300" stroke="#000" stroke-opacity=".25" stroke-width=".4"/>
<rect x="9.2" y="67.9" width="18.3" height="5.2" fill="#ff4b00" stroke="#000" stroke-opacity=".25" stroke-width=".4"/>
<rect x="9.2" y="77.9" width="18.3" height="5.2" fill="#ff7400" stroke="#000" stroke-opacity=".25" stroke-width=".4"/>
<rect x="9.2" y="87.9" width="18.3" height="5.2" fill="#ff9c00" stroke="#000" stroke-opacity=".25" stroke-width=".4"/>
<rect x="9.2" y="97.9" width="18.3" height="5.2" fill="#ffc500" stroke="#000" stroke-opacity=".25" stroke-width=".4"/>
<rect x="9.2" y="107.9" width="18.3" height="5.2" fill="#ffee00" stroke="#000" stroke-opacity=".25" stroke-width=".4"/>
<rect x="9.2" y="117.9" width="18.3" height="5.2" fill="#e8ff17" stroke="#000" stroke-opacity=".25" stroke-width=".4"/>
<rect x="9.2" y="127.9" width="18.3" height="5.2" fill="#bfff40" stroke="#000" stroke-opacity=".25" stroke-width=".4"/>
<rect x="9.2" y="137.9" width="18.3" height="5.2" fill="#97ff68" stroke="#000" stroke-opacity=".25" stroke-width=".4"/>
<rect x="9.2" y="147.9" width="18.3" height="5.2" fill="#6eff91" stroke="#000" stroke-opacity=".25" stroke-width=".4"/>
<rect x="9.2" y="157.9" width="18.3" height="5.2" fill="#46ffb9" stroke="#000" stroke-opacity=".25" stroke-width=".4"/>
<rect x="9.2" y="167.9" width="18.3" height="5.2" fill="#1dffe2" stroke="#000" stroke-opacity=".25" stroke-width=".4"/>
<rect x="9.2" y="177.9" width="18.3" height="5.2" fill="#00f3ff" stroke="#000" stroke-opacity=".25" stroke-width=".4"/>
<rect x="9.2" y="187.9" width="18.3" height="5.2" fill="#00cbff" stroke="#000" stroke-opacity=".25" stroke-width=".4"/>
<rect x="9.2" y="197.9" width="18.3" height="5.2" fill="#00a2ff" stroke="#000" stroke-opacity=".25" stroke-width=".4"/>
<rect x="9.2" y="207.9" width="18.3" height="5.2" fill="#007aff" stroke="#000" stroke-opacity=".25" stroke-width=".4"/>
<rect x="9.2" y="217.9" width="18.3" height="5.2" fill="#0051ff" stroke="#000" stroke-opacity=".25" stroke-width=".4"/>
<rect x="9.2" y="227.9" width="18.3" height="5.2" fill="#0029ff" stroke="#000" stroke-opacity=".25" stroke-width=".4"/>
<rect x="9.2" y="237.9" width="18.3" height="5.2" fill="#0000ff" stroke="#000" stroke-opacity=".25" stroke-width=".4"/>
<g font-family="'DejaVu Sans','Liberation Sans',sans-serif" fill="#1a1a1a" stroke="#1a1a1a" stroke-width=".18">
<text x="109.3" y="45.9" font-size="19" fill="#000" stroke="none">a</text>
<text x="345.4" y="45.9" font-size="19" fill="#000" stroke="none">b</text>
<g font-size="6.6" text-anchor="middle">
<text x="201.4" y="28.4">N</text>
<text x="201.4" y="247.4">S</text>
<text x="309.6" y="138">E</text>
<text x="90.9" y="138">W</text>
<text x="434.4" y="28.4">N</text>
<text x="434.4" y="247.4">S</text>
<text x="542.6" y="138">E</text>
<text x="323.9" y="138">W</text>
</g>
<g font-size="6.4">
<text x="222.2" y="114">0.3%</text>
<text x="240.6" y="96.6">0.6%</text>
<text x="256.6" y="77.4">0.9%</text>
<text x="275.4" y="61">1.2%</text>
<text x="455" y="114">0.5%</text>
<text x="473.6" y="97">1%</text>
<text x="489.6" y="77.5">1.5%</text>
<text x="509" y="61">2%</text>
</g>
<text x="29" y="14.3" font-size="5.6">Wind Speeds in m/s</text>
<g font-size="5.8">
<text x="29" y="21.9">W<tspan dy="1.9" font-size="4.6">S</tspan><tspan dy="-1.9"> </tspan><tspan fill="#666" stroke="none">≥</tspan> 25</text>
<text x="29" y="31.9">24 <tspan fill="#666" stroke="none">≤</tspan> W<tspan dy="1.9" font-size="4.6">S</tspan><tspan dy="-1.9"> </tspan>&lt; 25</text>
<text x="29" y="41.9">23 <tspan fill="#666" stroke="none">≤</tspan> W<tspan dy="1.9" font-size="4.6">S</tspan><tspan dy="-1.9"> </tspan>&lt; 24</text>
<text x="29" y="51.9">22 <tspan fill="#666" stroke="none">≤</tspan> W<tspan dy="1.9" font-size="4.6">S</tspan><tspan dy="-1.9"> </tspan>&lt; 23</text>
<text x="29" y="61.9">21 <tspan fill="#666" stroke="none">≤</tspan> W<tspan dy="1.9" font-size="4.6">S</tspan><tspan dy="-1.9"> </tspan>&lt; 22</text>
<text x="29" y="71.9">20 <tspan fill="#666" stroke="none">≤</tspan> W<tspan dy="1.9" font-size="4.6">S</tspan><tspan dy="-1.9"> </tspan>&lt; 21</text>
<text x="29" y="81.9">19 <tspan fill="#666" stroke="none">≤</tspan> W<tspan dy="1.9" font-size="4.6">S</tspan><tspan dy="-1.9"> </tspan>&lt; 20</text>
<text x="29" y="91.9">18 <tspan fill="#666" stroke="none">≤</tspan> W<tspan dy="1.9" font-size="4.6">S</tspan><tspan dy="-1.9"> </tspan>&lt; 19</text>
<text x="29" y="101.9">17 <tspan fill="#666" stroke="none">≤</tspan> W<tspan dy="1.9" font-size="4.6">S</tspan><tspan dy="-1.9"> </tspan>&lt; 18</text>
<text x="29" y="111.9">16 <tspan fill="#666" stroke="none">≤</tspan> W<tspan dy="1.9" font-size="4.6">S</tspan><tspan dy="-1.9"> </tspan>&lt; 17</text>
<text x="29" y="121.9">15 <tspan fill="#666" stroke="none">≤</tspan> W<tspan dy="1.9" font-size="4.6">S</tspan><tspan dy="-1.9"> </tspan>&lt; 16</text>
<text x="29" y="131.9">14 <tspan fill="#666" stroke="none">≤</tspan> W<tspan dy="1.9" font-size="4.6">S</tspan><tspan dy="-1.9"> </tspan>&lt; 15</text>
<text x="29" y="141.9">13 <tspan fill="#666" stroke="none">≤</tspan> W<tspan dy="1.9" font-size="4.6">S</tspan><tspan dy="-1.9"> </tspan>&lt; 14</text>
<text x="29" y="151.9">12 <tspan fill="#666" stroke="none">≤</tspan> W<tspan dy="1.9" font-size="4.6">S</tspan><tspan dy="-1.9"> </tspan>&lt; 13</text>
<text x="29" y="161.9">11 <tspan fill="#666" stroke="none">≤</tspan> W<tspan dy="1.9" font-size="4.6">S</tspan><tspan dy="-1.9"> </tspan>&lt; 12</text>
<text x="29" y="171.9">10 <tspan fill="#666" stroke="none">≤</tspan> W<tspan dy="1.9" font-size="4.6">S</tspan><tspan dy="-1.9"> </tspan>&lt; 11</text>
<text x="29" y="181.9">9 <tspan fill="#666" stroke="none">≤</tspan> W<tspan dy="1.9" font-size="4.6">S</tspan><tspan dy="-1.9"> </tspan>&lt; 10</text>
<text x="29" y="191.9">8 <tspan fill="#666" stroke="none">≤</tspan> W<tspan dy="1.9" font-size="4.6">S</tspan><tspan dy="-1.9"> </tspan>&lt; 9</text>
<text x="29" y="201.9">7 <tspan fill="#666" stroke="none">≤</tspan> W<tspan dy="1.9" font-size="4.6">S</tspan><tspan dy="-1.9"> </tspan>&lt; 8</text>
<text x="29" y="211.9">6 <tspan fill="#666" stroke="none">≤</tspan> W<tspan dy="1.9" font-size="4.6">S</tspan><tspan dy="-1.9"> </tspan>&lt; 7</text>
<text x="29" y="221.9">5 <tspan fill="#666" stroke="none">≤</tspan> W<tspan dy="1.9" font-size="4.6">S</tspan><tspan dy="-1.9"> </tspan>&lt; 6</text>
<text x="29" y="231.9">4 <tspan fill="#666" stroke="none">≤</tspan> W<tspan dy="1.9" font-size="4.6">S</tspan><tspan dy="-1.9"> </tspan>&lt; 5</text>
<text x="29" y="241.9">3 <tspan fill="#666" stroke="none">≤</tspan> W<tspan dy="1.9" font-size="4.6">S</tspan><tspan dy="-1.9"> </tspan>&lt; 4</text>
</g>
</g>
</svg></body></html>
